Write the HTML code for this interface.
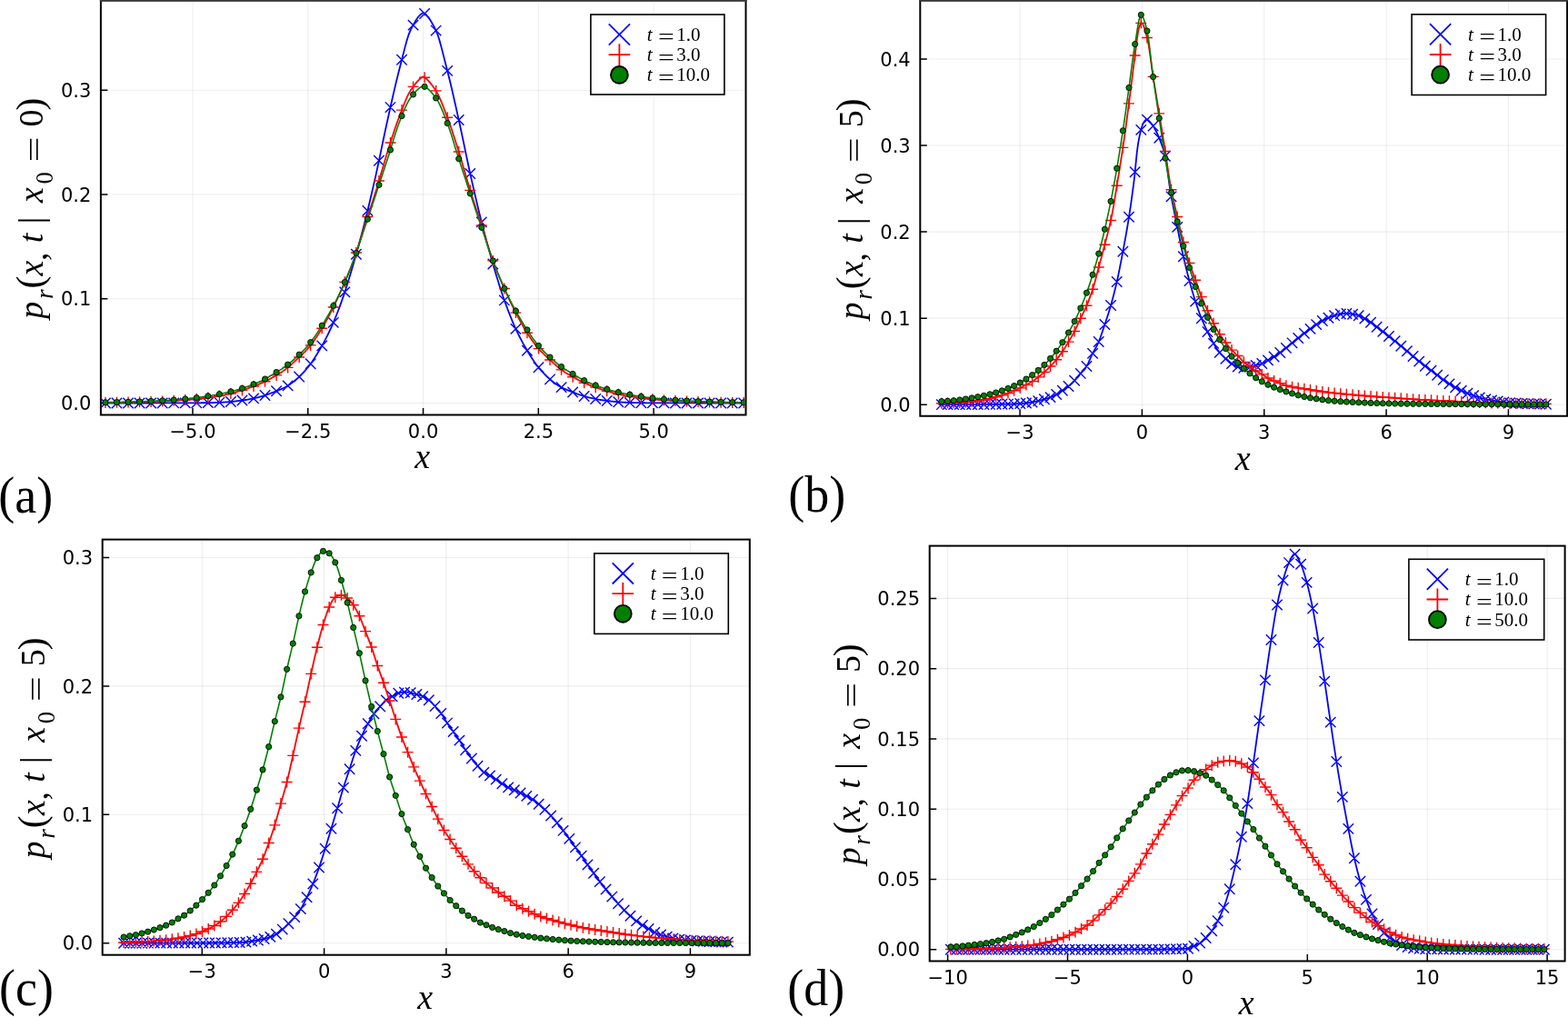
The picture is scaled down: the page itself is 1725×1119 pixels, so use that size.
<!DOCTYPE html><html><head><meta charset="utf-8"><title>p_r(x,t|x0) panels</title><style>html,body{margin:0;padding:0;background:#fff;}svg{display:block;}.tk{font-family:"DejaVu Sans",sans-serif;font-size:21px;fill:#000;}.mt{font-family:"Liberation Serif",serif;fill:#000;}.it{font-style:italic;}</style></head><body>
<svg width="1725" height="1119" viewBox="0 0 1725 1119">
<rect x="0" y="0" width="1725" height="1119" fill="#fff"/>
<clipPath id="clipa"><rect x="111.9" y="1.5" width="707.6" height="453.9"/></clipPath>
<path d="M212 0.5V456.4M338.77 0.5V456.4M465.55 0.5V456.4M592.33 0.5V456.4M719.1 0.5V456.4" stroke="#000" stroke-opacity="0.07" stroke-width="1.1" fill="none"/>
<path d="M110.9 443.5H820.5M110.9 328.77H820.5M110.9 214.04H820.5M110.9 99.31H820.5" stroke="#000" stroke-opacity="0.07" stroke-width="1.1" fill="none"/>
<path d="M110.9 0V456.4H820.5V0" fill="none" stroke="#000" stroke-width="2"/>
<rect x="109.9" y="0" width="711.6" height="1.8" fill="#363636"/>
<path d="M212 456.4V448.9M338.77 456.4V448.9M465.55 456.4V448.9M592.33 456.4V448.9M719.1 456.4V448.9M110.9 443.5H118.4M110.9 328.77H118.4M110.9 214.04H118.4M110.9 99.31H118.4" stroke="#000" stroke-width="1.5" fill="none"/>
<g clip-path="url(#clipa)">
<polyline points="110.58,443.49 111.76,443.49 112.95,443.49 114.13,443.49 115.31,443.49 116.5,443.49 117.68,443.49 118.86,443.49 120.05,443.49 121.23,443.49 122.41,443.49 123.6,443.49 124.78,443.49 125.96,443.49 127.15,443.49 128.33,443.49 129.51,443.49 130.69,443.49 131.88,443.49 133.06,443.49 134.24,443.49 135.43,443.49 136.61,443.49 137.79,443.49 138.98,443.49 140.16,443.49 141.34,443.49 142.53,443.49 143.71,443.49 144.89,443.49 146.08,443.49 147.26,443.48 148.44,443.48 149.63,443.48 150.81,443.48 151.99,443.48 153.18,443.48 154.36,443.48 155.54,443.48 156.73,443.48 157.91,443.48 159.09,443.48 160.28,443.48 161.46,443.48 162.64,443.48 163.83,443.48 165.01,443.47 166.19,443.47 167.38,443.47 168.56,443.47 169.74,443.47 170.92,443.47 172.11,443.47 173.29,443.47 174.47,443.46 175.66,443.46 176.84,443.46 178.02,443.46 179.21,443.46 180.39,443.46 181.57,443.45 182.76,443.45 183.94,443.45 185.12,443.45 186.31,443.44 187.49,443.44 188.67,443.44 189.86,443.44 191.04,443.43 192.22,443.43 193.41,443.43 194.59,443.42 195.77,443.42 196.96,443.42 198.14,443.41 199.32,443.41 200.51,443.41 201.69,443.4 202.87,443.4 204.06,443.39 205.24,443.39 206.42,443.38 207.61,443.38 208.79,443.38 209.97,443.37 211.15,443.37 212.34,443.36 213.52,443.35 214.7,443.35 215.89,443.34 217.07,443.33 218.25,443.32 219.44,443.3 220.62,443.29 221.8,443.27 222.99,443.25 224.17,443.24 225.35,443.22 226.54,443.2 227.72,443.17 228.9,443.15 230.09,443.13 231.27,443.1 232.45,443.07 233.64,443.05 234.82,443.02 236,442.99 237.19,442.96 238.37,442.93 239.55,442.89 240.74,442.85 241.92,442.8 243.1,442.74 244.29,442.68 245.47,442.61 246.65,442.54 247.84,442.46 249.02,442.38 250.2,442.3 251.38,442.21 252.57,442.12 253.75,442.02 254.93,441.91 256.12,441.79 257.3,441.67 258.48,441.54 259.67,441.4 260.85,441.26 262.03,441.12 263.22,440.98 264.4,440.83 265.58,440.67 266.77,440.51 267.95,440.34 269.13,440.17 270.32,439.99 271.5,439.8 272.68,439.6 273.87,439.4 275.05,439.18 276.23,438.96 277.42,438.73 278.6,438.48 279.78,438.22 280.97,437.94 282.15,437.66 283.33,437.36 284.52,437.05 285.7,436.74 286.88,436.41 288.06,436.07 289.25,435.73 290.43,435.37 291.61,434.98 292.8,434.59 293.98,434.17 295.16,433.75 296.35,433.31 297.53,432.87 298.71,432.42 299.9,431.96 301.08,431.49 302.26,431.02 303.45,430.56 304.63,430.09 305.81,429.61 307,429.13 308.18,428.64 309.36,428.12 310.55,427.59 311.73,427.03 312.91,426.45 314.1,425.83 315.28,425.18 316.46,424.49 317.65,423.74 318.83,422.95 320.01,422.12 321.2,421.25 322.38,420.34 323.56,419.4 324.75,418.43 325.93,417.43 327.11,416.41 328.29,415.36 329.48,414.26 330.66,413.11 331.84,411.92 333.03,410.68 334.21,409.39 335.39,408.06 336.58,406.69 337.76,405.28 338.94,403.83 340.13,402.34 341.31,400.79 342.49,399.16 343.68,397.48 344.86,395.73 346.04,393.93 347.23,392.08 348.41,390.19 349.59,388.26 350.78,386.29 351.96,384.3 353.14,382.27 354.33,380.19 355.51,378.07 356.69,375.89 357.88,373.66 359.06,371.38 360.24,369.03 361.43,366.63 362.61,364.16 363.79,361.63 364.98,359.03 366.16,356.34 367.34,353.56 368.52,350.71 369.71,347.78 370.89,344.78 372.07,341.7 373.26,338.56 374.44,335.36 375.62,332.09 376.81,328.77 377.99,325.36 379.17,321.84 380.36,318.22 381.54,314.51 382.72,310.71 383.91,306.85 385.09,302.93 386.27,298.96 387.46,294.96 388.64,290.92 389.82,286.85 391.01,282.73 392.19,278.56 393.37,274.32 394.56,270.03 395.74,265.68 396.92,261.27 398.11,256.8 399.29,252.27 400.47,247.67 401.66,243.01 402.84,238.27 404.02,233.44 405.21,228.54 406.39,223.57 407.57,218.54 408.75,213.44 409.94,208.3 411.12,203.11 412.3,197.87 413.49,192.61 414.67,187.27 415.85,181.81 417.04,176.24 418.22,170.59 419.4,164.89 420.59,159.18 421.77,153.48 422.95,147.83 424.14,142.26 425.32,136.79 426.5,131.45 427.69,126.13 428.87,120.82 430.05,115.52 431.24,110.26 432.42,105.05 433.6,99.9 434.79,94.83 435.97,89.83 437.15,84.94 438.34,80.17 439.52,75.52 440.7,70.98 441.89,66.34 443.07,61.65 444.25,56.96 445.44,52.38 446.62,47.97 447.8,43.83 448.98,40.04 450.17,36.67 451.35,33.81 452.53,31.45 453.72,29.18 454.9,26.96 456.08,24.84 457.27,22.84 458.45,20.98 459.63,19.29 460.82,17.8 462,16.54 463.18,15.54 464.37,14.82 465.55,14.41 466.73,14.82 467.92,15.54 469.1,16.54 470.28,17.8 471.47,19.29 472.65,20.98 473.83,22.84 475.02,24.84 476.2,26.96 477.38,29.18 478.57,31.45 479.75,33.81 480.93,36.67 482.12,40.04 483.3,43.83 484.48,47.97 485.66,52.38 486.85,56.96 488.03,61.65 489.21,66.34 490.4,70.98 491.58,75.52 492.76,80.17 493.95,84.94 495.13,89.83 496.31,94.83 497.5,99.9 498.68,105.05 499.86,110.26 501.05,115.52 502.23,120.82 503.41,126.13 504.6,131.45 505.78,136.79 506.96,142.26 508.15,147.83 509.33,153.48 510.51,159.18 511.7,164.89 512.88,170.59 514.06,176.24 515.25,181.81 516.43,187.27 517.61,192.61 518.8,197.87 519.98,203.11 521.16,208.3 522.35,213.44 523.53,218.54 524.71,223.57 525.89,228.54 527.08,233.44 528.26,238.27 529.44,243.01 530.63,247.67 531.81,252.27 532.99,256.8 534.18,261.27 535.36,265.68 536.54,270.03 537.73,274.32 538.91,278.56 540.09,282.73 541.28,286.85 542.46,290.92 543.64,294.96 544.83,298.96 546.01,302.93 547.19,306.85 548.38,310.71 549.56,314.51 550.74,318.22 551.93,321.84 553.11,325.36 554.29,328.77 555.48,332.09 556.66,335.36 557.84,338.56 559.03,341.7 560.21,344.78 561.39,347.78 562.58,350.71 563.76,353.56 564.94,356.34 566.12,359.03 567.31,361.63 568.49,364.16 569.67,366.63 570.86,369.03 572.04,371.38 573.22,373.66 574.41,375.89 575.59,378.07 576.77,380.19 577.96,382.27 579.14,384.3 580.32,386.29 581.51,388.26 582.69,390.19 583.87,392.08 585.06,393.93 586.24,395.73 587.42,397.48 588.61,399.16 589.79,400.79 590.97,402.34 592.16,403.83 593.34,405.28 594.52,406.69 595.71,408.06 596.89,409.39 598.07,410.68 599.26,411.92 600.44,413.11 601.62,414.26 602.81,415.36 603.99,416.41 605.17,417.43 606.35,418.43 607.54,419.4 608.72,420.34 609.9,421.25 611.09,422.12 612.27,422.95 613.45,423.74 614.64,424.49 615.82,425.18 617,425.83 618.19,426.45 619.37,427.03 620.55,427.59 621.74,428.12 622.92,428.64 624.1,429.13 625.29,429.61 626.47,430.09 627.65,430.56 628.84,431.02 630.02,431.49 631.2,431.96 632.39,432.42 633.57,432.87 634.75,433.31 635.94,433.75 637.12,434.17 638.3,434.59 639.49,434.98 640.67,435.37 641.85,435.73 643.04,436.07 644.22,436.41 645.4,436.74 646.58,437.05 647.77,437.36 648.95,437.66 650.13,437.94 651.32,438.22 652.5,438.48 653.68,438.73 654.87,438.96 656.05,439.18 657.23,439.4 658.42,439.6 659.6,439.8 660.78,439.99 661.97,440.17 663.15,440.34 664.33,440.51 665.52,440.67 666.7,440.83 667.88,440.98 669.07,441.12 670.25,441.26 671.43,441.4 672.62,441.54 673.8,441.67 674.98,441.79 676.17,441.91 677.35,442.02 678.53,442.12 679.72,442.21 680.9,442.3 682.08,442.38 683.26,442.46 684.45,442.54 685.63,442.61 686.81,442.68 688,442.74 689.18,442.8 690.36,442.85 691.55,442.89 692.73,442.93 693.91,442.96 695.1,442.99 696.28,443.02 697.46,443.05 698.65,443.07 699.83,443.1 701.01,443.13 702.2,443.15 703.38,443.17 704.56,443.2 705.75,443.22 706.93,443.24 708.11,443.25 709.3,443.27 710.48,443.29 711.66,443.3 712.85,443.32 714.03,443.33 715.21,443.34 716.4,443.35 717.58,443.35 718.76,443.36 719.95,443.37 721.13,443.37 722.31,443.38 723.49,443.38 724.68,443.38 725.86,443.39 727.04,443.39 728.23,443.4 729.41,443.4 730.59,443.41 731.78,443.41 732.96,443.41 734.14,443.42 735.33,443.42 736.51,443.42 737.69,443.43 738.88,443.43 740.06,443.43 741.24,443.44 742.43,443.44 743.61,443.44 744.79,443.44 745.98,443.45 747.16,443.45 748.34,443.45 749.53,443.45 750.71,443.46 751.89,443.46 753.08,443.46 754.26,443.46 755.44,443.46 756.63,443.46 757.81,443.47 758.99,443.47 760.18,443.47 761.36,443.47 762.54,443.47 763.72,443.47 764.91,443.47 766.09,443.47 767.27,443.48 768.46,443.48 769.64,443.48 770.82,443.48 772.01,443.48 773.19,443.48 774.37,443.48 775.56,443.48 776.74,443.48 777.92,443.48 779.11,443.48 780.29,443.48 781.47,443.48 782.66,443.48 783.84,443.48 785.02,443.49 786.21,443.49 787.39,443.49 788.57,443.49 789.76,443.49 790.94,443.49 792.12,443.49 793.31,443.49 794.49,443.49 795.67,443.49 796.86,443.49 798.04,443.49 799.22,443.49 800.41,443.49 801.59,443.49 802.77,443.49 803.95,443.49 805.14,443.49 806.32,443.49 807.5,443.49 808.69,443.49 809.87,443.49 811.05,443.49 812.24,443.49 813.42,443.49 814.6,443.49 815.79,443.49 816.97,443.49 818.15,443.49 819.34,443.49 820.52,443.49" fill="none" stroke="#0000ff" stroke-width="1.8" stroke-linejoin="round"/>
<path d="M110.28 437.79L121.68 449.19M110.28 449.19L121.68 437.79M122.82 437.79L134.22 449.19M122.82 449.19L134.22 437.79M135.36 437.79L146.76 449.19M135.36 449.19L146.76 437.79M147.9 437.78L159.3 449.18M147.9 449.18L159.3 437.78M160.44 437.77L171.84 449.17M160.44 449.17L171.84 437.77M172.98 437.76L184.38 449.16M172.98 449.16L184.38 437.76M185.52 437.73L196.92 449.13M185.52 449.13L196.92 437.73M198.06 437.69L209.46 449.09M198.06 449.09L209.46 437.69M210.6 437.63L222 449.03M210.6 449.03L222 437.63M223.14 437.45L234.54 448.85M223.14 448.85L234.54 437.45M235.68 437.12L247.08 448.52M235.68 448.52L247.08 437.12M248.22 436.3L259.62 447.7M248.22 447.7L259.62 436.3M260.76 434.85L272.16 446.25M260.76 446.25L272.16 434.85M273.3 432.69L284.7 444.09M273.3 444.09L284.7 432.69M285.84 429.31L297.24 440.71M285.84 440.71L297.24 429.31M298.38 424.61L309.78 436.01M298.38 436.01L309.78 424.61M310.92 418.69L322.32 430.09M310.92 430.09L322.32 418.69M323.46 408.86L334.86 420.26M323.46 420.26L334.86 408.86M336 394.56L347.4 405.96M336 405.96L347.4 394.56M348.54 374.64L359.94 386.04M348.54 386.04L359.94 374.64M361.08 349.19L372.48 360.59M361.08 360.59L372.48 349.19M373.62 315.69L385.02 327.09M373.62 327.09L385.02 315.69M386.16 274.02L397.56 285.42M386.16 285.42L397.56 274.02M398.7 226.18L410.1 237.58M398.7 237.58L410.1 226.18M411.24 170.99L422.64 182.39M411.24 182.39L422.64 170.99M423.78 112.38L435.18 123.78M423.78 123.78L435.18 112.38M436.32 60.11L447.72 71.51M436.32 71.51L447.72 60.11M448.86 21.89L460.26 33.29M448.86 33.29L460.26 21.89M461.4 9.31L472.8 20.71M461.4 20.71L472.8 9.31M473.94 27.88L485.34 39.28M473.94 39.28L485.34 27.88M486.48 72.16L497.88 83.56M486.48 83.56L497.88 72.16M499.02 126.31L510.42 137.71M499.02 137.71L510.42 126.31M511.56 185.34L522.96 196.74M511.56 196.74L522.96 185.34M524.1 238.73L535.5 250.13M524.1 250.13L535.5 238.73M536.64 284.82L548.04 296.22M536.64 296.22L548.04 284.82M549.18 324.73L560.58 336.13M549.18 336.13L560.58 324.73M561.72 356.18L573.12 367.58M561.72 367.58L573.12 356.18M574.26 379.99L585.66 391.39M574.26 391.39L585.66 379.99M586.8 398.56L598.2 409.96M586.8 409.96L598.2 398.56M599.34 411.62L610.74 423.02M599.34 423.02L610.74 411.62M611.88 420.44L623.28 431.84M611.88 431.84L623.28 420.44M624.42 425.83L635.82 437.23M624.42 437.23L635.82 425.83M636.96 430.27L648.36 441.67M636.96 441.67L648.36 430.27M649.5 433.33L660.9 444.73M649.5 444.73L660.9 433.33M662.04 435.26L673.44 446.66M662.04 446.66L673.44 435.26M674.58 436.55L685.98 447.95M674.58 447.95L685.98 436.55M687.12 437.23L698.52 448.63M687.12 448.63L698.52 437.23M699.66 437.51L711.06 448.91M699.66 448.91L711.06 437.51M712.2 437.66L723.6 449.06M712.2 449.06L723.6 437.66M724.74 437.71L736.14 449.11M724.74 449.11L736.14 437.71M737.28 437.74L748.68 449.14M737.28 449.14L748.68 437.74M749.82 437.76L761.22 449.16M749.82 449.16L761.22 437.76M762.36 437.78L773.76 449.18M762.36 449.18L773.76 437.78M774.9 437.78L786.3 449.18M774.9 449.18L786.3 437.78M787.44 437.79L798.84 449.19M787.44 449.19L798.84 437.79M799.98 437.79L811.38 449.19M799.98 449.19L811.38 437.79M812.52 437.79L823.92 449.19M812.52 449.19L823.92 437.79" stroke="#0000ff" stroke-width="1.4" fill="none"/>
<polyline points="110.58,443.04 111.76,443.04 112.95,443.03 114.13,443.03 115.31,443.02 116.5,443.01 117.68,443 118.86,442.99 120.05,442.98 121.23,442.96 122.41,442.95 123.6,442.93 124.78,442.92 125.96,442.9 127.15,442.88 128.33,442.87 129.51,442.85 130.69,442.83 131.88,442.81 133.06,442.78 134.24,442.76 135.43,442.74 136.61,442.72 137.79,442.69 138.98,442.67 140.16,442.64 141.34,442.62 142.53,442.59 143.71,442.56 144.89,442.53 146.08,442.51 147.26,442.48 148.44,442.45 149.63,442.42 150.81,442.39 151.99,442.36 153.18,442.33 154.36,442.3 155.54,442.27 156.73,442.24 157.91,442.21 159.09,442.18 160.28,442.15 161.46,442.12 162.64,442.09 163.83,442.05 165.01,442.02 166.19,441.98 167.38,441.94 168.56,441.89 169.74,441.85 170.92,441.81 172.11,441.76 173.29,441.71 174.47,441.66 175.66,441.61 176.84,441.56 178.02,441.51 179.21,441.45 180.39,441.4 181.57,441.34 182.76,441.28 183.94,441.22 185.12,441.17 186.31,441.11 187.49,441.05 188.67,440.99 189.86,440.93 191.04,440.86 192.22,440.8 193.41,440.73 194.59,440.67 195.77,440.6 196.96,440.53 198.14,440.46 199.32,440.38 200.51,440.31 201.69,440.23 202.87,440.15 204.06,440.07 205.24,439.98 206.42,439.9 207.61,439.81 208.79,439.72 209.97,439.62 211.15,439.53 212.34,439.43 213.52,439.33 214.7,439.22 215.89,439.1 217.07,438.98 218.25,438.86 219.44,438.73 220.62,438.6 221.8,438.46 222.99,438.31 224.17,438.16 225.35,438.01 226.54,437.85 227.72,437.69 228.9,437.53 230.09,437.36 231.27,437.19 232.45,437.02 233.64,436.84 234.82,436.66 236,436.48 237.19,436.3 238.37,436.11 239.55,435.91 240.74,435.71 241.92,435.5 243.1,435.28 244.29,435.05 245.47,434.82 246.65,434.58 247.84,434.33 249.02,434.08 250.2,433.82 251.38,433.56 252.57,433.28 253.75,432.99 254.93,432.7 256.12,432.39 257.3,432.07 258.48,431.75 259.67,431.41 260.85,431.08 262.03,430.73 263.22,430.39 264.4,430.03 265.58,429.66 266.77,429.29 267.95,428.91 269.13,428.52 270.32,428.13 271.5,427.73 272.68,427.32 273.87,426.9 275.05,426.48 276.23,426.05 277.42,425.62 278.6,425.18 279.78,424.74 280.97,424.29 282.15,423.83 283.33,423.36 284.52,422.87 285.7,422.38 286.88,421.87 288.06,421.35 289.25,420.82 290.43,420.27 291.61,419.69 292.8,419.1 293.98,418.5 295.16,417.88 296.35,417.25 297.53,416.61 298.71,415.96 299.9,415.29 301.08,414.63 302.26,413.95 303.45,413.27 304.63,412.58 305.81,411.88 307,411.16 308.18,410.43 309.36,409.68 310.55,408.9 311.73,408.1 312.91,407.27 314.1,406.4 315.28,405.49 316.46,404.55 317.65,403.56 318.83,402.54 320.01,401.5 321.2,400.44 322.38,399.36 323.56,398.26 324.75,397.16 325.93,396.06 327.11,394.96 328.29,393.86 329.48,392.76 330.66,391.65 331.84,390.54 333.03,389.4 334.21,388.23 335.39,387.04 336.58,385.81 337.76,384.54 338.94,383.21 340.13,381.83 341.31,380.39 342.49,378.88 343.68,377.31 344.86,375.68 346.04,374 347.23,372.28 348.41,370.52 349.59,368.72 350.78,366.88 351.96,365.02 353.14,363.12 354.33,361.17 355.51,359.16 356.69,357.1 357.88,354.99 359.06,352.84 360.24,350.65 361.43,348.42 362.61,346.17 363.79,343.88 364.98,341.57 366.16,339.2 367.34,336.79 368.52,334.34 369.71,331.85 370.89,329.31 372.07,326.74 373.26,324.14 374.44,321.5 375.62,318.84 376.81,316.15 377.99,313.44 379.17,310.71 380.36,307.96 381.54,305.17 382.72,302.34 383.91,299.46 385.09,296.51 386.27,293.5 387.46,290.42 388.64,287.24 389.82,283.96 391.01,280.52 392.19,276.96 393.37,273.29 394.56,269.55 395.74,265.75 396.92,261.93 398.11,258.11 399.29,254.31 400.47,250.57 401.66,246.89 402.84,243.27 404.02,239.66 405.21,236.08 406.39,232.5 407.57,228.91 408.75,225.31 409.94,221.68 411.12,218.02 412.3,214.31 413.49,210.54 414.67,206.69 415.85,202.74 417.04,198.71 418.22,194.62 419.4,190.51 420.59,186.38 421.77,182.28 422.95,178.22 424.14,174.22 425.32,170.32 426.5,166.53 427.69,162.76 428.87,159 430.05,155.27 431.24,151.57 432.42,147.92 433.6,144.33 434.79,140.81 435.97,137.37 437.15,134.03 438.34,130.8 439.52,127.68 440.7,124.57 441.89,121.45 443.07,118.36 444.25,115.32 445.44,112.37 446.62,109.54 447.8,106.87 448.98,104.38 450.17,102.11 451.35,100.09 452.53,98.31 453.72,96.59 454.9,94.93 456.08,93.33 457.27,91.81 458.45,90.38 459.63,89.06 460.82,87.84 462,86.76 463.18,85.81 464.37,85.02 465.55,84.4 466.73,85.02 467.92,85.81 469.1,86.76 470.28,87.84 471.47,89.06 472.65,90.38 473.83,91.81 475.02,93.33 476.2,94.93 477.38,96.59 478.57,98.31 479.75,100.09 480.93,102.11 482.12,104.38 483.3,106.87 484.48,109.54 485.66,112.37 486.85,115.32 488.03,118.36 489.21,121.45 490.4,124.57 491.58,127.68 492.76,130.8 493.95,134.03 495.13,137.37 496.31,140.81 497.5,144.33 498.68,147.92 499.86,151.57 501.05,155.27 502.23,159 503.41,162.76 504.6,166.53 505.78,170.32 506.96,174.22 508.15,178.22 509.33,182.28 510.51,186.38 511.7,190.51 512.88,194.62 514.06,198.71 515.25,202.74 516.43,206.69 517.61,210.54 518.8,214.31 519.98,218.02 521.16,221.68 522.35,225.31 523.53,228.91 524.71,232.5 525.89,236.08 527.08,239.66 528.26,243.27 529.44,246.89 530.63,250.57 531.81,254.31 532.99,258.11 534.18,261.93 535.36,265.75 536.54,269.55 537.73,273.29 538.91,276.96 540.09,280.52 541.28,283.96 542.46,287.24 543.64,290.42 544.83,293.5 546.01,296.51 547.19,299.46 548.38,302.34 549.56,305.17 550.74,307.96 551.93,310.71 553.11,313.44 554.29,316.15 555.48,318.84 556.66,321.5 557.84,324.14 559.03,326.74 560.21,329.31 561.39,331.85 562.58,334.34 563.76,336.79 564.94,339.2 566.12,341.57 567.31,343.88 568.49,346.17 569.67,348.42 570.86,350.65 572.04,352.84 573.22,354.99 574.41,357.1 575.59,359.16 576.77,361.17 577.96,363.12 579.14,365.02 580.32,366.88 581.51,368.72 582.69,370.52 583.87,372.28 585.06,374 586.24,375.68 587.42,377.31 588.61,378.88 589.79,380.39 590.97,381.83 592.16,383.21 593.34,384.54 594.52,385.81 595.71,387.04 596.89,388.23 598.07,389.4 599.26,390.54 600.44,391.65 601.62,392.76 602.81,393.86 603.99,394.96 605.17,396.06 606.35,397.16 607.54,398.26 608.72,399.36 609.9,400.44 611.09,401.5 612.27,402.54 613.45,403.56 614.64,404.55 615.82,405.49 617,406.4 618.19,407.27 619.37,408.1 620.55,408.9 621.74,409.68 622.92,410.43 624.1,411.16 625.29,411.88 626.47,412.58 627.65,413.27 628.84,413.95 630.02,414.63 631.2,415.29 632.39,415.96 633.57,416.61 634.75,417.25 635.94,417.88 637.12,418.5 638.3,419.1 639.49,419.69 640.67,420.27 641.85,420.82 643.04,421.35 644.22,421.87 645.4,422.38 646.58,422.87 647.77,423.36 648.95,423.83 650.13,424.29 651.32,424.74 652.5,425.18 653.68,425.62 654.87,426.05 656.05,426.48 657.23,426.9 658.42,427.32 659.6,427.73 660.78,428.13 661.97,428.52 663.15,428.91 664.33,429.29 665.52,429.66 666.7,430.03 667.88,430.39 669.07,430.73 670.25,431.08 671.43,431.41 672.62,431.75 673.8,432.07 674.98,432.39 676.17,432.7 677.35,432.99 678.53,433.28 679.72,433.56 680.9,433.82 682.08,434.08 683.26,434.33 684.45,434.58 685.63,434.82 686.81,435.05 688,435.28 689.18,435.5 690.36,435.71 691.55,435.91 692.73,436.11 693.91,436.3 695.1,436.48 696.28,436.66 697.46,436.84 698.65,437.02 699.83,437.19 701.01,437.36 702.2,437.53 703.38,437.69 704.56,437.85 705.75,438.01 706.93,438.16 708.11,438.31 709.3,438.46 710.48,438.6 711.66,438.73 712.85,438.86 714.03,438.98 715.21,439.1 716.4,439.22 717.58,439.33 718.76,439.43 719.95,439.53 721.13,439.62 722.31,439.72 723.49,439.81 724.68,439.9 725.86,439.98 727.04,440.07 728.23,440.15 729.41,440.23 730.59,440.31 731.78,440.38 732.96,440.46 734.14,440.53 735.33,440.6 736.51,440.67 737.69,440.73 738.88,440.8 740.06,440.86 741.24,440.93 742.43,440.99 743.61,441.05 744.79,441.11 745.98,441.17 747.16,441.22 748.34,441.28 749.53,441.34 750.71,441.4 751.89,441.45 753.08,441.51 754.26,441.56 755.44,441.61 756.63,441.66 757.81,441.71 758.99,441.76 760.18,441.81 761.36,441.85 762.54,441.89 763.72,441.94 764.91,441.98 766.09,442.02 767.27,442.05 768.46,442.09 769.64,442.12 770.82,442.15 772.01,442.18 773.19,442.21 774.37,442.24 775.56,442.27 776.74,442.3 777.92,442.33 779.11,442.36 780.29,442.39 781.47,442.42 782.66,442.45 783.84,442.48 785.02,442.51 786.21,442.53 787.39,442.56 788.57,442.59 789.76,442.62 790.94,442.64 792.12,442.67 793.31,442.69 794.49,442.72 795.67,442.74 796.86,442.76 798.04,442.78 799.22,442.81 800.41,442.83 801.59,442.85 802.77,442.87 803.95,442.88 805.14,442.9 806.32,442.92 807.5,442.93 808.69,442.95 809.87,442.96 811.05,442.98 812.24,442.99 813.42,443 814.6,443.01 815.79,443.02 816.97,443.03 818.15,443.03 819.34,443.04 820.52,443.04" fill="none" stroke="#ff0000" stroke-width="1.8" stroke-linejoin="round"/>
<path d="M109.98 443.01H121.98M115.98 437.01V449.01M122.52 442.86H134.52M128.52 436.86V448.86M135.06 442.62H147.06M141.06 436.62V448.62M147.6 442.32H159.6M153.6 436.32V448.32M160.14 441.98H172.14M166.14 435.98V447.98M172.68 441.48H184.68M178.68 435.48V447.48M185.22 440.85H197.22M191.22 434.85V446.85M197.76 440.09H209.76M203.76 434.09V446.09M210.3 439.06H222.3M216.3 433.06V445.06M222.84 437.54H234.84M228.84 431.54V443.54M235.38 435.6H247.38M241.38 429.6V441.6M247.92 432.95H259.92M253.92 426.95V438.95M260.46 429.39H272.46M266.46 423.39V435.39M273 425.03H285M279 419.03V431.03M285.54 419.73H297.54M291.54 413.73V425.73M298.08 412.9H310.08M304.08 406.9V418.9M310.62 404.42H322.62M316.62 398.42V410.42M323.16 393.06H335.16M329.16 387.06V399.06M335.7 379.9H347.7M341.7 373.9V385.9M348.24 361.31H360.24M354.24 355.31V367.31M360.78 337.94H372.78M366.78 331.94V343.94M373.32 310.37H385.32M379.32 304.37V316.37M385.86 277.96H397.86M391.86 271.96V283.96M398.4 238.51H410.4M404.4 232.51V244.51M410.94 199.04H422.94M416.94 193.04V205.04M423.48 157.07H435.48M429.48 151.07V163.07M436.02 121.09H448.02M442.02 115.09V127.09M448.56 95.4H460.56M454.56 89.4V101.4M461.1 85.25H473.1M467.1 79.25V91.25M473.64 99.92H485.64M479.64 93.92V105.92M486.18 129.25H498.18M492.18 123.25V135.25M498.72 166.93H510.72M504.72 160.93V172.93M511.26 209.41H523.26M517.26 203.41V215.41M523.8 248H535.8M529.8 242V254M536.34 286.92H548.34M542.34 280.92V292.92M548.88 317.49H560.88M554.88 311.49V323.49M561.42 344.11H573.42M567.42 338.11V350.11M573.96 366.32H585.96M579.96 360.32V372.32M586.5 383.61H598.5M592.5 377.61V389.61M599.04 395.94H611.04M605.04 389.94V401.94M611.58 406.83H623.58M617.58 400.83V412.83M624.12 414.68H636.12M630.12 408.68V420.68M636.66 421.19H648.66M642.66 415.19V427.19M649.2 426.17H661.2M655.2 420.17V432.17M661.74 430.34H673.74M667.74 424.34V436.34M674.28 433.68H686.28M680.28 427.68V439.68M686.82 436.13H698.82M692.82 430.13V442.13M699.36 437.96H711.36M705.36 431.96V443.96M711.9 439.35H723.9M717.9 433.35V445.35M724.44 440.3H736.44M730.44 434.3V446.3M736.98 441.02H748.98M742.98 435.02V447.02M749.52 441.61H761.52M755.52 435.61V447.61M762.06 442.08H774.06M768.06 436.08V448.08M774.6 442.4H786.6M780.6 436.4V448.4M787.14 442.69H799.14M793.14 436.69V448.69M799.68 442.91H811.68M805.68 436.91V448.91M812.22 443.03H824.22M818.22 437.03V449.03" stroke="#ff0000" stroke-width="1.4" fill="none"/>
<polyline points="110.58,442.81 111.76,442.8 112.95,442.78 114.13,442.76 115.31,442.75 116.5,442.73 117.68,442.71 118.86,442.69 120.05,442.67 121.23,442.66 122.41,442.64 123.6,442.62 124.78,442.6 125.96,442.58 127.15,442.56 128.33,442.54 129.51,442.52 130.69,442.5 131.88,442.48 133.06,442.46 134.24,442.44 135.43,442.42 136.61,442.39 137.79,442.37 138.98,442.34 140.16,442.31 141.34,442.29 142.53,442.26 143.71,442.23 144.89,442.19 146.08,442.16 147.26,442.13 148.44,442.09 149.63,442.06 150.81,442.02 151.99,441.98 153.18,441.94 154.36,441.9 155.54,441.86 156.73,441.81 157.91,441.77 159.09,441.72 160.28,441.67 161.46,441.63 162.64,441.58 163.83,441.53 165.01,441.48 166.19,441.42 167.38,441.37 168.56,441.32 169.74,441.26 170.92,441.2 172.11,441.14 173.29,441.09 174.47,441.03 175.66,440.97 176.84,440.91 178.02,440.85 179.21,440.79 180.39,440.73 181.57,440.67 182.76,440.61 183.94,440.54 185.12,440.47 186.31,440.4 187.49,440.33 188.67,440.25 189.86,440.17 191.04,440.09 192.22,440 193.41,439.9 194.59,439.81 195.77,439.71 196.96,439.6 198.14,439.5 199.32,439.39 200.51,439.29 201.69,439.18 202.87,439.07 204.06,438.95 205.24,438.84 206.42,438.72 207.61,438.59 208.79,438.47 209.97,438.34 211.15,438.21 212.34,438.07 213.52,437.93 214.7,437.79 215.89,437.64 217.07,437.49 218.25,437.33 219.44,437.17 220.62,437.01 221.8,436.84 222.99,436.67 224.17,436.5 225.35,436.32 226.54,436.15 227.72,435.97 228.9,435.79 230.09,435.6 231.27,435.42 232.45,435.23 233.64,435.03 234.82,434.83 236,434.63 237.19,434.42 238.37,434.21 239.55,433.99 240.74,433.76 241.92,433.53 243.1,433.3 244.29,433.05 245.47,432.81 246.65,432.55 247.84,432.3 249.02,432.03 250.2,431.76 251.38,431.49 252.57,431.21 253.75,430.92 254.93,430.63 256.12,430.33 257.3,430.02 258.48,429.7 259.67,429.38 260.85,429.04 262.03,428.7 263.22,428.36 264.4,428 265.58,427.63 266.77,427.24 267.95,426.85 269.13,426.45 270.32,426.04 271.5,425.62 272.68,425.19 273.87,424.76 275.05,424.32 276.23,423.87 277.42,423.41 278.6,422.95 279.78,422.48 280.97,422 282.15,421.51 283.33,421.01 284.52,420.49 285.7,419.96 286.88,419.41 288.06,418.85 289.25,418.27 290.43,417.66 291.61,417.02 292.8,416.35 293.98,415.67 295.16,414.98 296.35,414.27 297.53,413.55 298.71,412.83 299.9,412.12 301.08,411.4 302.26,410.69 303.45,409.98 304.63,409.27 305.81,408.55 307,407.83 308.18,407.09 309.36,406.33 310.55,405.56 311.73,404.76 312.91,403.94 314.1,403.08 315.28,402.2 316.46,401.29 317.65,400.35 318.83,399.38 320.01,398.4 321.2,397.39 322.38,396.36 323.56,395.32 324.75,394.26 325.93,393.18 327.11,392.09 328.29,390.99 329.48,389.88 330.66,388.75 331.84,387.59 333.03,386.41 334.21,385.21 335.39,383.97 336.58,382.69 337.76,381.38 338.94,380.02 340.13,378.61 341.31,377.14 342.49,375.6 343.68,373.99 344.86,372.34 346.04,370.63 347.23,368.89 348.41,367.12 349.59,365.32 350.78,363.51 351.96,361.7 353.14,359.87 354.33,358.01 355.51,356.12 356.69,354.2 357.88,352.25 359.06,350.27 360.24,348.25 361.43,346.2 362.61,344.12 363.79,342 364.98,339.85 366.16,337.66 367.34,335.44 368.52,333.18 369.71,330.88 370.89,328.54 372.07,326.15 373.26,323.73 374.44,321.25 375.62,318.73 376.81,316.15 377.99,313.52 379.17,310.82 380.36,308.06 381.54,305.24 382.72,302.36 383.91,299.43 385.09,296.45 386.27,293.42 387.46,290.34 388.64,287.22 389.82,284.04 391.01,280.76 392.19,277.4 393.37,273.97 394.56,270.48 395.74,266.96 396.92,263.41 398.11,259.85 399.29,256.29 400.47,252.76 401.66,249.25 402.84,245.75 404.02,242.24 405.21,238.72 406.39,235.2 407.57,231.67 408.75,228.13 409.94,224.58 411.12,221.03 412.3,217.48 413.49,213.91 414.67,210.34 415.85,206.77 417.04,203.19 418.22,199.6 419.4,196 420.59,192.4 421.77,188.8 422.95,185.18 424.14,181.56 425.32,177.93 426.5,174.3 427.69,170.63 428.87,166.86 430.05,163.01 431.24,159.12 432.42,155.23 433.6,151.37 434.79,147.59 435.97,143.93 437.15,140.42 438.34,137.1 439.52,134.01 440.7,130.97 441.89,127.96 443.07,124.98 444.25,122.09 445.44,119.31 446.62,116.66 447.8,114.18 448.98,111.89 450.17,109.83 451.35,108.03 452.53,106.47 453.72,104.96 454.9,103.5 456.08,102.09 457.27,100.77 458.45,99.52 459.63,98.38 460.82,97.36 462,96.47 463.18,95.72 464.37,95.13 465.55,94.72 466.73,95.13 467.92,95.72 469.1,96.47 470.28,97.36 471.47,98.38 472.65,99.52 473.83,100.77 475.02,102.09 476.2,103.5 477.38,104.96 478.57,106.47 479.75,108.03 480.93,109.83 482.12,111.89 483.3,114.18 484.48,116.66 485.66,119.31 486.85,122.09 488.03,124.98 489.21,127.96 490.4,130.97 491.58,134.01 492.76,137.1 493.95,140.42 495.13,143.93 496.31,147.59 497.5,151.37 498.68,155.23 499.86,159.12 501.05,163.01 502.23,166.86 503.41,170.63 504.6,174.3 505.78,177.93 506.96,181.56 508.15,185.18 509.33,188.8 510.51,192.4 511.7,196 512.88,199.6 514.06,203.19 515.25,206.77 516.43,210.34 517.61,213.91 518.8,217.48 519.98,221.03 521.16,224.58 522.35,228.13 523.53,231.67 524.71,235.2 525.89,238.72 527.08,242.24 528.26,245.75 529.44,249.25 530.63,252.76 531.81,256.29 532.99,259.85 534.18,263.41 535.36,266.96 536.54,270.48 537.73,273.97 538.91,277.4 540.09,280.76 541.28,284.04 542.46,287.22 543.64,290.34 544.83,293.42 546.01,296.45 547.19,299.43 548.38,302.36 549.56,305.24 550.74,308.06 551.93,310.82 553.11,313.52 554.29,316.15 555.48,318.73 556.66,321.25 557.84,323.73 559.03,326.15 560.21,328.54 561.39,330.88 562.58,333.18 563.76,335.44 564.94,337.66 566.12,339.85 567.31,342 568.49,344.12 569.67,346.2 570.86,348.25 572.04,350.27 573.22,352.25 574.41,354.2 575.59,356.12 576.77,358.01 577.96,359.87 579.14,361.7 580.32,363.51 581.51,365.32 582.69,367.12 583.87,368.89 585.06,370.63 586.24,372.34 587.42,373.99 588.61,375.6 589.79,377.14 590.97,378.61 592.16,380.02 593.34,381.38 594.52,382.69 595.71,383.97 596.89,385.21 598.07,386.41 599.26,387.59 600.44,388.75 601.62,389.88 602.81,390.99 603.99,392.09 605.17,393.18 606.35,394.26 607.54,395.32 608.72,396.36 609.9,397.39 611.09,398.4 612.27,399.38 613.45,400.35 614.64,401.29 615.82,402.2 617,403.08 618.19,403.94 619.37,404.76 620.55,405.56 621.74,406.33 622.92,407.09 624.1,407.83 625.29,408.55 626.47,409.27 627.65,409.98 628.84,410.69 630.02,411.4 631.2,412.12 632.39,412.83 633.57,413.55 634.75,414.27 635.94,414.98 637.12,415.67 638.3,416.35 639.49,417.02 640.67,417.66 641.85,418.27 643.04,418.85 644.22,419.41 645.4,419.96 646.58,420.49 647.77,421.01 648.95,421.51 650.13,422 651.32,422.48 652.5,422.95 653.68,423.41 654.87,423.87 656.05,424.32 657.23,424.76 658.42,425.19 659.6,425.62 660.78,426.04 661.97,426.45 663.15,426.85 664.33,427.24 665.52,427.63 666.7,428 667.88,428.36 669.07,428.7 670.25,429.04 671.43,429.38 672.62,429.7 673.8,430.02 674.98,430.33 676.17,430.63 677.35,430.92 678.53,431.21 679.72,431.49 680.9,431.76 682.08,432.03 683.26,432.3 684.45,432.55 685.63,432.81 686.81,433.05 688,433.3 689.18,433.53 690.36,433.76 691.55,433.99 692.73,434.21 693.91,434.42 695.1,434.63 696.28,434.83 697.46,435.03 698.65,435.23 699.83,435.42 701.01,435.6 702.2,435.79 703.38,435.97 704.56,436.15 705.75,436.32 706.93,436.5 708.11,436.67 709.3,436.84 710.48,437.01 711.66,437.17 712.85,437.33 714.03,437.49 715.21,437.64 716.4,437.79 717.58,437.93 718.76,438.07 719.95,438.21 721.13,438.34 722.31,438.47 723.49,438.59 724.68,438.72 725.86,438.84 727.04,438.95 728.23,439.07 729.41,439.18 730.59,439.29 731.78,439.39 732.96,439.5 734.14,439.6 735.33,439.71 736.51,439.81 737.69,439.9 738.88,440 740.06,440.09 741.24,440.17 742.43,440.25 743.61,440.33 744.79,440.4 745.98,440.47 747.16,440.54 748.34,440.61 749.53,440.67 750.71,440.73 751.89,440.79 753.08,440.85 754.26,440.91 755.44,440.97 756.63,441.03 757.81,441.09 758.99,441.14 760.18,441.2 761.36,441.26 762.54,441.32 763.72,441.37 764.91,441.42 766.09,441.48 767.27,441.53 768.46,441.58 769.64,441.63 770.82,441.67 772.01,441.72 773.19,441.77 774.37,441.81 775.56,441.86 776.74,441.9 777.92,441.94 779.11,441.98 780.29,442.02 781.47,442.06 782.66,442.09 783.84,442.13 785.02,442.16 786.21,442.19 787.39,442.23 788.57,442.26 789.76,442.29 790.94,442.31 792.12,442.34 793.31,442.37 794.49,442.39 795.67,442.42 796.86,442.44 798.04,442.46 799.22,442.48 800.41,442.5 801.59,442.52 802.77,442.54 803.95,442.56 805.14,442.58 806.32,442.6 807.5,442.62 808.69,442.64 809.87,442.66 811.05,442.67 812.24,442.69 813.42,442.71 814.6,442.73 815.79,442.75 816.97,442.76 818.15,442.78 819.34,442.8 820.52,442.81" fill="none" stroke="#008000" stroke-width="1.6" stroke-linejoin="round"/>
<g fill="#008000" stroke="#000" stroke-width="0.9"><circle cx="115.98" cy="442.74" r="3.1"/><circle cx="128.52" cy="442.54" r="3.1"/><circle cx="141.06" cy="442.29" r="3.1"/><circle cx="153.6" cy="441.93" r="3.1"/><circle cx="166.14" cy="441.43" r="3.1"/><circle cx="178.68" cy="440.82" r="3.1"/><circle cx="191.22" cy="440.07" r="3.1"/><circle cx="203.76" cy="438.98" r="3.1"/><circle cx="216.3" cy="437.59" r="3.1"/><circle cx="228.84" cy="435.8" r="3.1"/><circle cx="241.38" cy="433.64" r="3.1"/><circle cx="253.92" cy="430.88" r="3.1"/><circle cx="266.46" cy="427.34" r="3.1"/><circle cx="279" cy="422.79" r="3.1"/><circle cx="291.54" cy="417.06" r="3.1"/><circle cx="304.08" cy="409.6" r="3.1"/><circle cx="316.62" cy="401.16" r="3.1"/><circle cx="329.16" cy="390.18" r="3.1"/><circle cx="341.7" cy="376.64" r="3.1"/><circle cx="354.24" cy="358.14" r="3.1"/><circle cx="366.78" cy="336.5" r="3.1"/><circle cx="379.32" cy="310.48" r="3.1"/><circle cx="391.86" cy="278.34" r="3.1"/><circle cx="404.4" cy="241.12" r="3.1"/><circle cx="416.94" cy="203.48" r="3.1"/><circle cx="429.48" cy="164.88" r="3.1"/><circle cx="442.02" cy="127.61" r="3.1"/><circle cx="454.56" cy="103.91" r="3.1"/><circle cx="467.1" cy="95.3" r="3.1"/><circle cx="479.64" cy="107.88" r="3.1"/><circle cx="492.18" cy="135.56" r="3.1"/><circle cx="504.72" cy="174.68" r="3.1"/><circle cx="517.26" cy="212.86" r="3.1"/><circle cx="529.8" cy="250.31" r="3.1"/><circle cx="542.34" cy="286.91" r="3.1"/><circle cx="554.88" cy="317.44" r="3.1"/><circle cx="567.42" cy="342.21" r="3.1"/><circle cx="579.96" cy="362.96" r="3.1"/><circle cx="592.5" cy="380.42" r="3.1"/><circle cx="605.04" cy="393.06" r="3.1"/><circle cx="617.58" cy="403.5" r="3.1"/><circle cx="630.12" cy="411.46" r="3.1"/><circle cx="642.66" cy="418.67" r="3.1"/><circle cx="655.2" cy="423.99" r="3.1"/><circle cx="667.74" cy="428.31" r="3.1"/><circle cx="680.28" cy="431.62" r="3.1"/><circle cx="692.82" cy="434.22" r="3.1"/><circle cx="705.36" cy="436.27" r="3.1"/><circle cx="717.9" cy="437.97" r="3.1"/><circle cx="730.44" cy="439.27" r="3.1"/><circle cx="742.98" cy="440.29" r="3.1"/><circle cx="755.52" cy="440.97" r="3.1"/><circle cx="768.06" cy="441.56" r="3.1"/><circle cx="780.6" cy="442.03" r="3.1"/><circle cx="793.14" cy="442.36" r="3.1"/><circle cx="805.68" cy="442.59" r="3.1"/><circle cx="818.22" cy="442.78" r="3.1"/></g>
</g>
<text class="tk" x="212" y="481.8" text-anchor="middle">−5.0</text>
<text class="tk" x="338.77" y="481.8" text-anchor="middle">−2.5</text>
<text class="tk" x="465.55" y="481.8" text-anchor="middle">0.0</text>
<text class="tk" x="592.33" y="481.8" text-anchor="middle">2.5</text>
<text class="tk" x="719.1" y="481.8" text-anchor="middle">5.0</text>
<text class="tk" x="100.3" y="451.15" text-anchor="end">0.0</text>
<text class="tk" x="100.3" y="336.42" text-anchor="end">0.1</text>
<text class="tk" x="100.3" y="221.69" text-anchor="end">0.2</text>
<text class="tk" x="100.3" y="106.96" text-anchor="end">0.3</text>
<text class="mt it" x="464.7" y="515.3" font-size="38" text-anchor="middle">x</text>
<g transform="translate(47.4,351.85) rotate(-90)">
<text class="mt it" x="10.6" y="0" font-size="38" text-anchor="middle">p</text>
<text class="mt it" x="28.2" y="10.5" font-size="26.6" text-anchor="middle">r</text>
<text class="mt " x="41.3" y="0" font-size="41.5" text-anchor="middle">(</text>
<text class="mt it" x="56.9" y="0" font-size="38" text-anchor="middle">x</text>
<text class="mt " x="69.7" y="3.2" font-size="38" text-anchor="middle">,</text>
<text class="mt it" x="90" y="0" font-size="38" text-anchor="middle">t</text>
<text class="mt " x="109.4" y="0" font-size="38" text-anchor="middle">|</text>
<text class="mt it" x="137.2" y="0" font-size="38" text-anchor="middle">x</text>
<text class="mt " x="156" y="10.5" font-size="26.6" text-anchor="middle">0</text>
<text class="mt " x="221.9" y="0" font-size="38" text-anchor="middle">0</text>
<text class="mt " x="237.2" y="0" font-size="41.5" text-anchor="middle">)</text>
<text class="mt" transform="translate(187.5,1.9) scale(1.32,0.88)" font-size="38" text-anchor="middle">=</text>
</g>
<rect x="649.9" y="16" width="147" height="88" fill="#fff" stroke="#000" stroke-width="1.6"/>
<path d="M669.8 26.4L693 49.6M669.8 49.6L693 26.4" stroke="#0000ff" stroke-width="1.8" fill="none"/>
<path d="M669.6 60.2H693.2M681.4 48.2V72.2" stroke="#ff0000" stroke-width="1.8" fill="none"/>
<circle cx="681.4" cy="82.4" r="9.4" fill="#008000" stroke="#000" stroke-width="1.9"/>
<text class="mt it" x="711.8" y="44.9" font-size="21">t</text>
<text class="mt" transform="translate(732.85,49.4) scale(1.5,1.25)" font-size="21" text-anchor="middle">=</text>
<text class="mt" x="744.3" y="44.9" font-size="21">1.0</text>
<text class="mt it" x="711.8" y="67.1" font-size="21">t</text>
<text class="mt" transform="translate(732.85,71.6) scale(1.5,1.25)" font-size="21" text-anchor="middle">=</text>
<text class="mt" x="744.3" y="67.1" font-size="21">3.0</text>
<text class="mt it" x="711.8" y="89.3" font-size="21">t</text>
<text class="mt" transform="translate(732.85,93.8) scale(1.5,1.25)" font-size="21" text-anchor="middle">=</text>
<text class="mt" x="744.3" y="89.3" font-size="21">10.0</text>
<text class="mt" transform="translate(-1.7,563.8) scale(0.93,1)" font-size="58">(a)</text>
<clipPath id="clipb"><rect x="1013.3" y="1.5" width="709.8" height="455.3"/></clipPath>
<path d="M1122.06 0.5V457.8M1256.4 0.5V457.8M1390.74 0.5V457.8M1525.08 0.5V457.8M1659.42 0.5V457.8" stroke="#000" stroke-opacity="0.07" stroke-width="1.1" fill="none"/>
<path d="M1012.3 445.2H1724.1M1012.3 350.15H1724.1M1012.3 255.1H1724.1M1012.3 160.05H1724.1M1012.3 65H1724.1" stroke="#000" stroke-opacity="0.07" stroke-width="1.1" fill="none"/>
<path d="M1012.3 0V457.8H1724.1V0" fill="none" stroke="#000" stroke-width="2"/>
<rect x="1011.3" y="0" width="713.8" height="1.8" fill="#363636"/>
<path d="M1122.06 457.8V450.3M1256.4 457.8V450.3M1390.74 457.8V450.3M1525.08 457.8V450.3M1659.42 457.8V450.3M1012.3 445.2H1019.8M1012.3 350.15H1019.8M1012.3 255.1H1019.8M1012.3 160.05H1019.8M1012.3 65H1019.8" stroke="#000" stroke-width="1.5" fill="none"/>
<g clip-path="url(#clipb)">
<polyline points="1032.5,445.17 1033.62,445.17 1034.74,445.17 1035.86,445.17 1036.98,445.17 1038.1,445.17 1039.22,445.17 1040.34,445.16 1041.46,445.16 1042.58,445.16 1043.7,445.16 1044.81,445.16 1045.93,445.15 1047.05,445.15 1048.17,445.15 1049.29,445.14 1050.41,445.14 1051.53,445.14 1052.65,445.13 1053.77,445.13 1054.89,445.12 1056.01,445.12 1057.13,445.11 1058.25,445.11 1059.37,445.1 1060.49,445.1 1061.61,445.09 1062.73,445.09 1063.85,445.08 1064.97,445.08 1066.09,445.07 1067.2,445.07 1068.32,445.06 1069.44,445.05 1070.56,445.05 1071.68,445.04 1072.8,445.04 1073.92,445.03 1075.04,445.02 1076.16,445.02 1077.28,445.01 1078.4,445 1079.52,445 1080.64,444.99 1081.76,444.98 1082.88,444.97 1084,444.97 1085.12,444.96 1086.24,444.95 1087.36,444.94 1088.48,444.93 1089.59,444.92 1090.71,444.91 1091.83,444.89 1092.95,444.88 1094.07,444.87 1095.19,444.86 1096.31,444.84 1097.43,444.83 1098.55,444.81 1099.67,444.8 1100.79,444.78 1101.91,444.76 1103.03,444.74 1104.15,444.72 1105.27,444.7 1106.39,444.68 1107.51,444.66 1108.63,444.64 1109.75,444.61 1110.87,444.59 1111.98,444.56 1113.1,444.53 1114.22,444.5 1115.34,444.46 1116.46,444.41 1117.58,444.34 1118.7,444.27 1119.82,444.2 1120.94,444.12 1122.06,444.03 1123.18,443.94 1124.3,443.84 1125.42,443.75 1126.54,443.65 1127.66,443.55 1128.78,443.45 1129.9,443.34 1131.02,443.23 1132.14,443.11 1133.26,442.97 1134.37,442.83 1135.49,442.66 1136.61,442.46 1137.73,442.23 1138.85,441.98 1139.97,441.72 1141.09,441.45 1142.21,441.18 1143.33,440.89 1144.45,440.59 1145.57,440.27 1146.69,439.95 1147.81,439.62 1148.93,439.29 1150.05,438.96 1151.17,438.62 1152.29,438.26 1153.41,437.89 1154.53,437.49 1155.64,437.06 1156.76,436.6 1157.88,436.11 1159,435.6 1160.12,435.05 1161.24,434.48 1162.36,433.87 1163.48,433.22 1164.6,432.52 1165.72,431.79 1166.84,431.06 1167.96,430.32 1169.08,429.59 1170.2,428.86 1171.32,428.12 1172.44,427.35 1173.56,426.55 1174.68,425.7 1175.8,424.79 1176.92,423.83 1178.04,422.81 1179.15,421.74 1180.27,420.64 1181.39,419.49 1182.51,418.28 1183.63,417 1184.75,415.68 1185.87,414.33 1186.99,412.99 1188.11,411.67 1189.23,410.44 1190.35,409.25 1191.47,408.06 1192.59,406.81 1193.71,405.44 1194.83,403.9 1195.95,402.06 1197.07,399.83 1198.19,397.35 1199.31,394.78 1200.43,392.25 1201.54,389.91 1202.66,387.77 1203.78,385.73 1204.9,383.72 1206.02,381.66 1207.14,379.47 1208.26,377.08 1209.38,374.41 1210.5,371.45 1211.62,368.28 1212.74,364.96 1213.86,361.6 1214.98,358.25 1216.1,354.93 1217.22,351.57 1218.34,348.16 1219.46,344.65 1220.58,341.01 1221.7,337.22 1222.82,333.28 1223.93,329.19 1225.05,324.95 1226.17,320.55 1227.29,315.97 1228.41,311.21 1229.53,306.22 1230.65,300.92 1231.77,295.39 1232.89,289.66 1234.01,283.8 1235.13,277.86 1236.25,271.89 1237.37,265.83 1238.49,259.63 1239.61,253.25 1240.73,246.62 1241.85,239.7 1242.97,232.46 1244.09,224.9 1245.21,216.98 1246.32,208.64 1247.44,199.84 1248.56,190.05 1249.68,178.46 1250.8,167.32 1251.92,159.01 1253.04,152.65 1254.16,147.32 1255.28,142.9 1256.4,139.03 1257.52,136.01 1258.64,134.11 1259.76,132.54 1260.88,131.63 1262,131.65 1263.12,132.25 1264.24,133.25 1265.36,134.47 1266.48,135.75 1267.6,137.1 1268.71,138.75 1269.83,140.64 1270.95,142.7 1272.07,144.84 1273.19,147.11 1274.31,149.59 1275.43,152.25 1276.55,155.09 1277.67,158.09 1278.79,161.17 1279.91,164.47 1281.03,168.27 1282.15,172.85 1283.27,179.25 1284.39,187.21 1285.51,195.87 1286.63,204.35 1287.75,211.76 1288.87,218.1 1289.99,224.04 1291.1,229.7 1292.22,235.19 1293.34,240.64 1294.46,246.16 1295.58,251.81 1296.7,257.51 1297.82,263.17 1298.94,268.73 1300.06,274.12 1301.18,279.26 1302.3,284.2 1303.42,288.99 1304.54,293.64 1305.66,298.15 1306.78,302.53 1307.9,306.79 1309.02,310.95 1310.14,314.99 1311.26,318.93 1312.38,322.74 1313.49,326.43 1314.61,329.98 1315.73,333.44 1316.85,336.81 1317.97,340.07 1319.09,343.21 1320.21,346.22 1321.33,349.1 1322.45,351.85 1323.57,354.5 1324.69,357.05 1325.81,359.53 1326.93,361.94 1328.05,364.31 1329.17,366.63 1330.29,368.9 1331.41,371.1 1332.53,373.24 1333.65,375.29 1334.77,377.26 1335.88,379.19 1337,381.08 1338.12,382.89 1339.24,384.59 1340.36,386.16 1341.48,387.58 1342.6,388.9 1343.72,390.14 1344.84,391.31 1345.96,392.42 1347.08,393.5 1348.2,394.54 1349.32,395.56 1350.44,396.56 1351.56,397.53 1352.68,398.44 1353.8,399.29 1354.92,400.05 1356.04,400.77 1357.16,401.47 1358.27,402.12 1359.39,402.69 1360.51,403.16 1361.63,403.51 1362.75,403.83 1363.87,404.13 1364.99,404.38 1366.11,404.58 1367.23,404.69 1368.35,404.7 1369.47,404.65 1370.59,404.54 1371.71,404.4 1372.83,404.23 1373.95,404.04 1375.07,403.85 1376.19,403.63 1377.31,403.34 1378.43,403.01 1379.55,402.66 1380.66,402.3 1381.78,401.95 1382.9,401.62 1384.02,401.3 1385.14,400.98 1386.26,400.64 1387.38,400.29 1388.5,399.9 1389.62,399.48 1390.74,398.99 1391.86,398.39 1392.98,397.69 1394.1,396.94 1395.22,396.17 1396.34,395.43 1397.46,394.75 1398.58,394.11 1399.7,393.5 1400.82,392.89 1401.94,392.27 1403.05,391.62 1404.17,390.93 1405.29,390.18 1406.41,389.4 1407.53,388.58 1408.65,387.74 1409.77,386.88 1410.89,386.01 1412.01,385.15 1413.13,384.27 1414.25,383.38 1415.37,382.47 1416.49,381.55 1417.61,380.62 1418.73,379.69 1419.85,378.76 1420.97,377.82 1422.09,376.89 1423.21,375.96 1424.33,375.04 1425.44,374.14 1426.56,373.25 1427.68,372.36 1428.8,371.48 1429.92,370.6 1431.04,369.72 1432.16,368.85 1433.28,367.98 1434.4,367.12 1435.52,366.27 1436.64,365.43 1437.76,364.59 1438.88,363.77 1440,362.96 1441.12,362.16 1442.24,361.36 1443.36,360.55 1444.48,359.74 1445.6,358.94 1446.72,358.14 1447.83,357.35 1448.95,356.58 1450.07,355.83 1451.19,355.1 1452.31,354.4 1453.43,353.74 1454.55,353.11 1455.67,352.53 1456.79,351.97 1457.91,351.41 1459.03,350.87 1460.15,350.34 1461.27,349.82 1462.39,349.32 1463.51,348.85 1464.63,348.4 1465.75,347.97 1466.87,347.57 1467.99,347.21 1469.11,346.88 1470.22,346.59 1471.34,346.33 1472.46,346.06 1473.58,345.79 1474.7,345.55 1475.82,345.33 1476.94,345.15 1478.06,345.01 1479.18,344.94 1480.3,344.93 1481.42,344.96 1482.54,345.02 1483.66,345.11 1484.78,345.23 1485.9,345.38 1487.02,345.54 1488.14,345.73 1489.26,345.92 1490.38,346.13 1491.5,346.36 1492.61,346.59 1493.73,346.88 1494.85,347.27 1495.97,347.73 1497.09,348.26 1498.21,348.83 1499.33,349.46 1500.45,350.11 1501.57,350.78 1502.69,351.45 1503.81,352.13 1504.93,352.79 1506.05,353.49 1507.17,354.22 1508.29,354.99 1509.41,355.79 1510.53,356.61 1511.65,357.46 1512.77,358.31 1513.89,359.18 1515,360.05 1516.12,360.92 1517.24,361.79 1518.36,362.64 1519.48,363.49 1520.6,364.34 1521.72,365.19 1522.84,366.05 1523.96,366.91 1525.08,367.78 1526.2,368.65 1527.32,369.52 1528.44,370.4 1529.56,371.28 1530.68,372.16 1531.8,373.05 1532.92,373.95 1534.04,374.84 1535.16,375.74 1536.28,376.65 1537.39,377.56 1538.51,378.47 1539.63,379.39 1540.75,380.31 1541.87,381.24 1542.99,382.17 1544.11,383.1 1545.23,384.03 1546.35,384.97 1547.47,385.9 1548.59,386.84 1549.71,387.78 1550.83,388.74 1551.95,389.7 1553.07,390.67 1554.19,391.64 1555.31,392.61 1556.43,393.58 1557.55,394.54 1558.66,395.5 1559.78,396.44 1560.9,397.37 1562.02,398.28 1563.14,399.17 1564.26,400.04 1565.38,400.91 1566.5,401.75 1567.62,402.59 1568.74,403.42 1569.86,404.24 1570.98,405.06 1572.1,405.88 1573.22,406.7 1574.34,407.52 1575.46,408.34 1576.58,409.17 1577.7,410.01 1578.82,410.86 1579.94,411.73 1581.06,412.61 1582.17,413.49 1583.29,414.37 1584.41,415.25 1585.53,416.13 1586.65,416.99 1587.77,417.83 1588.89,418.66 1590.01,419.46 1591.13,420.23 1592.25,420.97 1593.37,421.7 1594.49,422.41 1595.61,423.11 1596.73,423.8 1597.85,424.48 1598.97,425.15 1600.09,425.8 1601.21,426.43 1602.33,427.05 1603.45,427.65 1604.56,428.23 1605.68,428.79 1606.8,429.34 1607.92,429.87 1609.04,430.39 1610.16,430.9 1611.28,431.39 1612.4,431.87 1613.52,432.35 1614.64,432.81 1615.76,433.25 1616.88,433.69 1618,434.11 1619.12,434.53 1620.24,434.93 1621.36,435.31 1622.48,435.7 1623.6,436.07 1624.72,436.44 1625.84,436.81 1626.95,437.16 1628.07,437.51 1629.19,437.84 1630.31,438.17 1631.43,438.48 1632.55,438.77 1633.67,439.05 1634.79,439.3 1635.91,439.54 1637.03,439.77 1638.15,439.98 1639.27,440.19 1640.39,440.39 1641.51,440.58 1642.63,440.76 1643.75,440.94 1644.87,441.11 1645.99,441.27 1647.11,441.43 1648.23,441.58 1649.34,441.73 1650.46,441.87 1651.58,442.02 1652.7,442.16 1653.82,442.3 1654.94,442.44 1656.06,442.57 1657.18,442.7 1658.3,442.83 1659.42,442.94 1660.54,443.05 1661.66,443.14 1662.78,443.23 1663.9,443.3 1665.02,443.36 1666.14,443.43 1667.26,443.49 1668.38,443.55 1669.5,443.61 1670.62,443.67 1671.73,443.73 1672.85,443.79 1673.97,443.85 1675.09,443.91 1676.21,443.96 1677.33,444.01 1678.45,444.07 1679.57,444.12 1680.69,444.17 1681.81,444.21 1682.93,444.26 1684.05,444.3 1685.17,444.35 1686.29,444.39 1687.41,444.42 1688.53,444.46 1689.65,444.5 1690.77,444.53 1691.89,444.56 1693.01,444.59 1694.12,444.61 1695.24,444.63 1696.36,444.66 1697.48,444.67 1698.6,444.69 1699.72,444.7 1700.84,444.71 1701.96,444.72 1703.08,444.72 1704.2,444.72" fill="none" stroke="#0000ff" stroke-width="1.8" stroke-linejoin="round"/>
<path d="M1030.13 439.47L1041.53 450.87M1030.13 450.87L1041.53 439.47M1036.78 439.46L1048.18 450.86M1036.78 450.86L1048.18 439.46M1043.43 439.44L1054.83 450.84M1043.43 450.84L1054.83 439.44M1050.08 439.42L1061.48 450.82M1050.08 450.82L1061.48 439.42M1056.73 439.39L1068.13 450.79M1056.73 450.79L1068.13 439.39M1063.38 439.36L1074.78 450.76M1063.38 450.76L1074.78 439.36M1070.03 439.32L1081.43 450.72M1070.03 450.72L1081.43 439.32M1076.68 439.28L1088.08 450.68M1076.68 450.68L1088.08 439.28M1083.33 439.22L1094.73 450.62M1083.33 450.62L1094.73 439.22M1089.98 439.15L1101.38 450.55M1089.98 450.55L1101.38 439.15M1096.63 439.05L1108.03 450.45M1096.63 450.45L1108.03 439.05M1103.28 438.93L1114.68 450.33M1103.28 450.33L1114.68 438.93M1109.93 438.75L1121.33 450.15M1109.93 450.15L1121.33 438.75M1116.58 438.31L1127.98 449.71M1116.58 449.71L1127.98 438.31M1123.23 437.74L1134.63 449.14M1123.23 449.14L1134.63 437.74M1129.88 436.94L1141.28 448.34M1129.88 448.34L1141.28 436.94M1136.53 435.47L1147.93 446.87M1136.53 446.87L1147.93 435.47M1143.18 433.61L1154.58 445.01M1143.18 445.01L1154.58 433.61M1149.83 431.4L1161.23 442.8M1149.83 442.8L1161.23 431.4M1156.48 428.27L1167.88 439.67M1156.48 439.67L1167.88 428.27M1163.14 424.05L1174.54 435.45M1163.14 435.45L1174.54 424.05M1169.79 419.35L1181.19 430.75M1169.79 430.75L1181.19 419.35M1176.44 413L1187.84 424.4M1176.44 424.4L1187.84 413M1183.09 405.22L1194.49 416.62M1183.09 416.62L1194.49 405.22M1189.74 397.26L1201.14 408.66M1189.74 408.66L1201.14 397.26M1196.39 383.15L1207.79 394.55M1196.39 394.55L1207.79 383.15M1203.04 370.28L1214.44 381.68M1203.04 381.68L1214.44 370.28M1209.69 351.33L1221.09 362.73M1209.69 362.73L1221.09 351.33M1216.34 330.33L1227.74 341.73M1216.34 341.73L1227.74 330.33M1222.99 304.3L1234.39 315.7M1222.99 315.7L1234.39 304.3M1229.64 271.04L1241.04 282.44M1229.64 282.44L1241.04 271.04M1236.29 233.09L1247.69 244.49M1236.29 244.49L1247.69 233.09M1242.94 183.58L1254.34 194.98M1242.94 194.98L1254.34 183.58M1249.59 137.16L1260.99 148.56M1249.59 148.56L1260.99 137.16M1256.24 125.93L1267.64 137.33M1256.24 137.33L1267.64 125.93M1262.89 132.86L1274.29 144.26M1262.89 144.26L1274.29 132.86M1269.54 146.09L1280.94 157.49M1269.54 157.49L1280.94 146.09M1276.19 166L1287.59 177.4M1276.19 177.4L1287.59 166M1282.84 210.63L1294.24 222.03M1282.84 222.03L1294.24 210.63M1289.49 244.14L1300.89 255.54M1289.49 255.54L1300.89 244.14M1296.15 276.51L1307.55 287.91M1296.15 287.91L1307.55 276.51M1302.8 303.33L1314.2 314.73M1302.8 314.73L1314.2 303.33M1309.45 325.94L1320.85 337.34M1309.45 337.34L1320.85 325.94M1316.1 344.56L1327.5 355.96M1316.1 355.96L1327.5 344.56M1322.75 359.44L1334.15 370.84M1322.75 370.84L1334.15 359.44M1329.4 372.14L1340.8 383.54M1329.4 383.54L1340.8 372.14M1336.05 382.2L1347.45 393.6M1336.05 393.6L1347.45 382.2M1342.7 389.02L1354.1 400.42M1342.7 400.42L1354.1 389.02M1349.35 394.44L1360.75 405.84M1349.35 405.84L1360.75 394.44M1356 397.83L1367.4 409.23M1356 409.23L1367.4 397.83M1362.65 399L1374.05 410.4M1362.65 410.4L1374.05 399M1369.3 398.16L1380.7 409.56M1369.3 409.56L1380.7 398.16M1375.95 396.29L1387.35 407.69M1375.95 407.69L1387.35 396.29M1382.6 394.27L1394 405.67M1382.6 405.67L1394 394.27M1389.25 390.65L1400.65 402.05M1389.25 402.05L1400.65 390.65M1395.9 386.75L1407.3 398.15M1395.9 398.15L1407.3 386.75M1402.55 382.34L1413.95 393.74M1402.55 393.74L1413.95 382.34M1409.2 377.15L1420.6 388.55M1409.2 388.55L1420.6 377.15M1415.85 371.63L1427.25 383.03M1415.85 383.03L1427.25 371.63M1422.5 366.25L1433.9 377.65M1422.5 377.65L1433.9 366.25M1429.15 361.08L1440.55 372.48M1429.15 372.48L1440.55 361.08M1435.81 356.18L1447.21 367.58M1435.81 367.58L1447.21 356.18M1442.46 351.43L1453.86 362.83M1442.46 362.83L1453.86 351.43M1449.11 347.27L1460.51 358.67M1449.11 358.67L1460.51 347.27M1455.76 344.04L1467.16 355.44M1455.76 355.44L1467.16 344.04M1462.41 341.47L1473.81 352.87M1462.41 352.87L1473.81 341.47M1469.06 339.83L1480.46 351.23M1469.06 351.23L1480.46 339.83M1475.71 339.26L1487.11 350.66M1475.71 350.66L1487.11 339.26M1482.36 340.01L1493.76 351.41M1482.36 351.41L1493.76 340.01M1489.01 341.51L1500.41 352.91M1489.01 352.91L1500.41 341.51M1495.66 344.95L1507.06 356.35M1495.66 356.35L1507.06 344.95M1502.31 349.1L1513.71 360.5M1502.31 360.5L1513.71 349.1M1508.96 354.08L1520.36 365.48M1508.96 365.48L1520.36 354.08M1515.61 359.18L1527.01 370.58M1515.61 370.58L1527.01 359.18M1522.26 364.32L1533.66 375.72M1522.26 375.72L1533.66 364.32M1528.91 369.6L1540.31 381M1528.91 381L1540.31 369.6M1535.56 375.04L1546.96 386.44M1535.56 386.44L1546.96 375.04M1542.21 380.57L1553.61 391.97M1542.21 391.97L1553.61 380.57M1548.86 386.27L1560.26 397.67M1548.86 397.67L1560.26 386.27M1555.51 391.92L1566.91 403.32M1555.51 403.32L1566.91 391.92M1562.16 397.07L1573.56 408.47M1562.16 408.47L1573.56 397.07M1568.82 401.95L1580.22 413.35M1568.82 413.35L1580.22 401.95M1575.47 406.99L1586.87 418.39M1575.47 418.39L1586.87 406.99M1582.12 412.17L1593.52 423.57M1582.12 423.57L1593.52 412.17M1588.77 416.7L1600.17 428.1M1588.77 428.1L1600.17 416.7M1595.42 420.68L1606.82 432.08M1595.42 432.08L1606.82 420.68M1602.07 424.1L1613.47 435.5M1602.07 435.5L1613.47 424.1M1608.72 427.02L1620.12 438.42M1608.72 438.42L1620.12 427.02M1615.37 429.52L1626.77 440.92M1615.37 440.92L1626.77 429.52M1622.02 431.7L1633.42 443.1M1622.02 443.1L1633.42 431.7M1628.67 433.51L1640.07 444.91M1628.67 444.91L1640.07 433.51M1635.32 434.8L1646.72 446.2M1635.32 446.2L1646.72 434.8M1641.97 435.81L1653.37 447.21M1641.97 447.21L1653.37 435.81M1648.62 436.66L1660.02 448.06M1648.62 448.06L1660.02 436.66M1655.27 437.39L1666.67 448.79M1655.27 448.79L1666.67 437.39M1661.92 437.81L1673.32 449.21M1661.92 449.21L1673.32 437.81M1668.57 438.16L1679.97 449.56M1668.57 449.56L1679.97 438.16M1675.22 438.48L1686.62 449.88M1675.22 449.88L1686.62 438.48M1681.87 438.73L1693.27 450.13M1681.87 450.13L1693.27 438.73M1688.52 438.91L1699.92 450.31M1688.52 450.31L1699.92 438.91M1695.17 439.01L1706.57 450.41M1695.17 450.41L1706.57 439.01" stroke="#0000ff" stroke-width="1.4" fill="none"/>
<polyline points="1032.5,443.77 1033.62,443.76 1034.74,443.75 1035.86,443.73 1036.98,443.71 1038.1,443.68 1039.22,443.65 1040.34,443.62 1041.46,443.59 1042.58,443.55 1043.7,443.51 1044.81,443.47 1045.93,443.43 1047.05,443.38 1048.17,443.34 1049.29,443.29 1050.41,443.24 1051.53,443.19 1052.65,443.14 1053.77,443.08 1054.89,443.02 1056.01,442.95 1057.13,442.88 1058.25,442.8 1059.37,442.72 1060.49,442.63 1061.61,442.54 1062.73,442.45 1063.85,442.35 1064.97,442.24 1066.09,442.13 1067.2,442.01 1068.32,441.88 1069.44,441.74 1070.56,441.59 1071.68,441.44 1072.8,441.29 1073.92,441.13 1075.04,440.97 1076.16,440.8 1077.28,440.64 1078.4,440.47 1079.52,440.29 1080.64,440.1 1081.76,439.9 1082.88,439.7 1084,439.5 1085.12,439.29 1086.24,439.09 1087.36,438.87 1088.48,438.65 1089.59,438.41 1090.71,438.16 1091.83,437.87 1092.95,437.56 1094.07,437.23 1095.19,436.9 1096.31,436.58 1097.43,436.27 1098.55,435.95 1099.67,435.63 1100.79,435.3 1101.91,434.97 1103.03,434.62 1104.15,434.27 1105.27,433.9 1106.39,433.53 1107.51,433.13 1108.63,432.73 1109.75,432.3 1110.87,431.84 1111.98,431.37 1113.1,430.88 1114.22,430.38 1115.34,429.9 1116.46,429.42 1117.58,428.94 1118.7,428.46 1119.82,427.97 1120.94,427.47 1122.06,426.95 1123.18,426.41 1124.3,425.84 1125.42,425.26 1126.54,424.67 1127.66,424.08 1128.78,423.48 1129.9,422.89 1131.02,422.3 1132.14,421.7 1133.26,421.07 1134.37,420.42 1135.49,419.73 1136.61,419 1137.73,418.23 1138.85,417.42 1139.97,416.6 1141.09,415.76 1142.21,414.92 1143.33,414.06 1144.45,413.19 1145.57,412.29 1146.69,411.37 1147.81,410.42 1148.93,409.45 1150.05,408.43 1151.17,407.38 1152.29,406.3 1153.41,405.2 1154.53,404.08 1155.64,402.95 1156.76,401.8 1157.88,400.63 1159,399.43 1160.12,398.19 1161.24,396.89 1162.36,395.54 1163.48,394.14 1164.6,392.67 1165.72,391.16 1166.84,389.61 1167.96,388.02 1169.08,386.38 1170.2,384.67 1171.32,382.91 1172.44,381.11 1173.56,379.28 1174.68,377.44 1175.8,375.6 1176.92,373.76 1178.04,371.89 1179.15,369.97 1180.27,367.99 1181.39,365.93 1182.51,363.76 1183.63,361.45 1184.75,359.03 1185.87,356.56 1186.99,354.09 1188.11,351.67 1189.23,349.34 1190.35,347.06 1191.47,344.8 1192.59,342.52 1193.71,340.16 1194.83,337.69 1195.95,335.06 1197.07,332.3 1198.19,329.42 1199.31,326.41 1200.43,323.26 1201.54,319.96 1202.66,316.5 1203.78,312.76 1204.9,308.71 1206.02,304.46 1207.14,300.14 1208.26,295.85 1209.38,291.68 1210.5,287.55 1211.62,283.42 1212.74,279.28 1213.86,275.08 1214.98,270.81 1216.1,266.46 1217.22,262.14 1218.34,257.84 1219.46,253.45 1220.58,248.88 1221.7,244.05 1222.82,238.86 1223.93,233.14 1225.05,226.8 1226.17,220.04 1227.29,213.05 1228.41,206.02 1229.53,199.14 1230.65,192.29 1231.77,185.39 1232.89,178.39 1234.01,171.22 1235.13,163.84 1236.25,156.19 1237.37,148.29 1238.49,140.19 1239.61,131.91 1240.73,123.5 1241.85,114.99 1242.97,106.15 1244.09,97.02 1245.21,87.81 1246.32,78.75 1247.44,70.04 1248.56,61.57 1249.68,52.46 1250.8,43.55 1251.92,35.85 1253.04,30.38 1254.16,27.31 1255.28,25.36 1256.4,25.49 1257.52,27.11 1258.64,29.84 1259.76,33.39 1260.88,37.45 1262,41.72 1263.12,46.65 1264.24,53.33 1265.36,61.16 1266.48,69.5 1267.6,77.7 1268.71,85.14 1269.83,92.11 1270.95,98.95 1272.07,105.72 1273.19,112.46 1274.31,119.22 1275.43,126.07 1276.55,132.99 1277.67,139.94 1278.79,146.92 1279.91,153.94 1281.03,161.01 1282.15,168.13 1283.27,175.54 1284.39,183.21 1285.51,190.81 1286.63,198.03 1287.75,204.53 1288.87,210.32 1289.99,215.67 1291.1,220.71 1292.22,225.56 1293.34,230.36 1294.46,235.21 1295.58,240.18 1296.7,245.16 1297.82,250.09 1298.94,254.92 1300.06,259.59 1301.18,264.03 1302.3,268.29 1303.42,272.41 1304.54,276.4 1305.66,280.27 1306.78,284.01 1307.9,287.62 1309.02,291.1 1310.14,294.41 1311.26,297.59 1312.38,300.69 1313.49,303.75 1314.61,306.81 1315.73,309.9 1316.85,313.06 1317.97,316.24 1319.09,319.39 1320.21,322.47 1321.33,325.45 1322.45,328.27 1323.57,330.95 1324.69,333.53 1325.81,336.03 1326.93,338.48 1328.05,340.89 1329.17,343.3 1330.29,345.72 1331.41,348.13 1332.53,350.52 1333.65,352.86 1334.77,355.14 1335.88,357.33 1337,359.44 1338.12,361.5 1339.24,363.5 1340.36,365.43 1341.48,367.28 1342.6,369.03 1343.72,370.69 1344.84,372.28 1345.96,373.82 1347.08,375.3 1348.2,376.76 1349.32,378.19 1350.44,379.61 1351.56,381.01 1352.68,382.36 1353.8,383.68 1354.92,384.93 1356.04,386.11 1357.16,387.22 1358.27,388.28 1359.39,389.31 1360.51,390.34 1361.63,391.39 1362.75,392.48 1363.87,393.64 1364.99,394.85 1366.11,396.06 1367.23,397.25 1368.35,398.37 1369.47,399.39 1370.59,400.35 1371.71,401.26 1372.83,402.13 1373.95,402.96 1375.07,403.77 1376.19,404.55 1377.31,405.31 1378.43,406.04 1379.55,406.73 1380.66,407.41 1381.78,408.09 1382.9,408.76 1384.02,409.43 1385.14,410.08 1386.26,410.73 1387.38,411.37 1388.5,412.02 1389.62,412.68 1390.74,413.34 1391.86,414.05 1392.98,414.78 1394.1,415.5 1395.22,416.19 1396.34,416.82 1397.46,417.37 1398.58,417.86 1399.7,418.32 1400.82,418.75 1401.94,419.16 1403.05,419.58 1404.17,420.01 1405.29,420.46 1406.41,420.91 1407.53,421.36 1408.65,421.81 1409.77,422.25 1410.89,422.67 1412.01,423.11 1413.13,423.55 1414.25,423.98 1415.37,424.38 1416.49,424.71 1417.61,424.98 1418.73,425.23 1419.85,425.46 1420.97,425.68 1422.09,425.89 1423.21,426.09 1424.33,426.27 1425.44,426.45 1426.56,426.62 1427.68,426.79 1428.8,426.95 1429.92,427.11 1431.04,427.27 1432.16,427.43 1433.28,427.59 1434.4,427.75 1435.52,427.93 1436.64,428.1 1437.76,428.28 1438.88,428.46 1440,428.64 1441.12,428.83 1442.24,429.01 1443.36,429.19 1444.48,429.37 1445.6,429.55 1446.72,429.73 1447.83,429.9 1448.95,430.08 1450.07,430.25 1451.19,430.42 1452.31,430.59 1453.43,430.75 1454.55,430.91 1455.67,431.07 1456.79,431.22 1457.91,431.37 1459.03,431.51 1460.15,431.65 1461.27,431.78 1462.39,431.91 1463.51,432.04 1464.63,432.16 1465.75,432.28 1466.87,432.4 1467.99,432.52 1469.11,432.63 1470.22,432.74 1471.34,432.85 1472.46,432.96 1473.58,433.06 1474.7,433.17 1475.82,433.27 1476.94,433.37 1478.06,433.48 1479.18,433.58 1480.3,433.68 1481.42,433.78 1482.54,433.88 1483.66,433.98 1484.78,434.08 1485.9,434.18 1487.02,434.28 1488.14,434.38 1489.26,434.47 1490.38,434.57 1491.5,434.67 1492.61,434.76 1493.73,434.86 1494.85,434.95 1495.97,435.05 1497.09,435.14 1498.21,435.23 1499.33,435.32 1500.45,435.41 1501.57,435.5 1502.69,435.59 1503.81,435.68 1504.93,435.77 1506.05,435.85 1507.17,435.94 1508.29,436.02 1509.41,436.11 1510.53,436.19 1511.65,436.27 1512.77,436.36 1513.89,436.44 1515,436.52 1516.12,436.59 1517.24,436.67 1518.36,436.75 1519.48,436.83 1520.6,436.9 1521.72,436.98 1522.84,437.05 1523.96,437.13 1525.08,437.2 1526.2,437.28 1527.32,437.36 1528.44,437.43 1529.56,437.51 1530.68,437.58 1531.8,437.66 1532.92,437.74 1534.04,437.82 1535.16,437.9 1536.28,437.98 1537.39,438.06 1538.51,438.14 1539.63,438.23 1540.75,438.31 1541.87,438.39 1542.99,438.48 1544.11,438.56 1545.23,438.64 1546.35,438.73 1547.47,438.81 1548.59,438.89 1549.71,438.97 1550.83,439.05 1551.95,439.12 1553.07,439.2 1554.19,439.27 1555.31,439.35 1556.43,439.42 1557.55,439.48 1558.66,439.55 1559.78,439.61 1560.9,439.68 1562.02,439.74 1563.14,439.8 1564.26,439.85 1565.38,439.91 1566.5,439.97 1567.62,440.03 1568.74,440.08 1569.86,440.14 1570.98,440.19 1572.1,440.24 1573.22,440.3 1574.34,440.35 1575.46,440.4 1576.58,440.45 1577.7,440.51 1578.82,440.56 1579.94,440.61 1581.06,440.67 1582.17,440.72 1583.29,440.78 1584.41,440.83 1585.53,440.88 1586.65,440.94 1587.77,440.99 1588.89,441.04 1590.01,441.09 1591.13,441.15 1592.25,441.2 1593.37,441.25 1594.49,441.3 1595.61,441.35 1596.73,441.41 1597.85,441.46 1598.97,441.51 1600.09,441.56 1601.21,441.61 1602.33,441.67 1603.45,441.72 1604.56,441.78 1605.68,441.83 1606.8,441.88 1607.92,441.94 1609.04,442 1610.16,442.06 1611.28,442.12 1612.4,442.18 1613.52,442.24 1614.64,442.31 1615.76,442.37 1616.88,442.43 1618,442.49 1619.12,442.56 1620.24,442.62 1621.36,442.68 1622.48,442.74 1623.6,442.79 1624.72,442.85 1625.84,442.9 1626.95,442.95 1628.07,443 1629.19,443.05 1630.31,443.09 1631.43,443.13 1632.55,443.17 1633.67,443.21 1634.79,443.25 1635.91,443.29 1637.03,443.32 1638.15,443.36 1639.27,443.39 1640.39,443.43 1641.51,443.46 1642.63,443.49 1643.75,443.52 1644.87,443.55 1645.99,443.58 1647.11,443.61 1648.23,443.64 1649.34,443.66 1650.46,443.69 1651.58,443.71 1652.7,443.73 1653.82,443.75 1654.94,443.77 1656.06,443.79 1657.18,443.81 1658.3,443.83 1659.42,443.85 1660.54,443.87 1661.66,443.89 1662.78,443.91 1663.9,443.93 1665.02,443.94 1666.14,443.96 1667.26,443.98 1668.38,444 1669.5,444.01 1670.62,444.03 1671.73,444.05 1672.85,444.07 1673.97,444.08 1675.09,444.1 1676.21,444.11 1677.33,444.13 1678.45,444.14 1679.57,444.16 1680.69,444.17 1681.81,444.19 1682.93,444.2 1684.05,444.21 1685.17,444.23 1686.29,444.24 1687.41,444.25 1688.53,444.26 1689.65,444.27 1690.77,444.28 1691.89,444.29 1693.01,444.3 1694.12,444.31 1695.24,444.31 1696.36,444.32 1697.48,444.32 1698.6,444.33 1699.72,444.33 1700.84,444.34 1701.96,444.34 1703.08,444.34 1704.2,444.34" fill="none" stroke="#ff0000" stroke-width="1.8" stroke-linejoin="round"/>
<path d="M1029.83 443.73H1041.83M1035.83 437.73V449.73M1036.48 443.55H1048.48M1042.48 437.55V449.55M1043.13 443.3H1055.13M1049.13 437.3V449.3M1049.78 442.97H1061.78M1055.78 436.97V448.97M1056.43 442.47H1068.43M1062.43 436.47V448.47M1063.08 441.78H1075.08M1069.08 435.78V447.78M1069.73 440.87H1081.73M1075.73 434.87V446.87M1076.38 439.79H1088.38M1082.38 433.79V445.79M1083.03 438.54H1095.03M1089.03 432.54V444.54M1089.68 436.76H1101.68M1095.68 430.76V442.76M1096.33 434.84H1108.33M1102.33 428.84V440.84M1102.98 432.59H1114.98M1108.98 426.59V438.59M1109.63 429.77H1121.63M1115.63 423.77V435.77M1116.28 426.84H1128.28M1122.28 420.84V432.84M1122.93 423.4H1134.93M1128.93 417.4V429.4M1129.58 419.67H1141.58M1135.58 413.67V425.67M1136.23 414.9H1148.23M1142.23 408.9V420.9M1142.88 409.49H1154.88M1148.88 403.49V415.49M1149.53 403.06H1161.53M1155.53 397.06V409.06M1156.18 395.76H1168.18M1162.18 389.76V401.76M1162.84 386.74H1174.84M1168.84 380.74V392.74M1169.49 376.11H1181.49M1175.49 370.11V382.11M1176.14 364.51H1188.14M1182.14 358.51V370.51M1182.79 350.25H1194.79M1188.79 344.25V356.25M1189.44 336.27H1201.44M1195.44 330.27V342.27M1196.09 318.3H1208.09M1202.09 312.3V324.3M1202.74 294.06H1214.74M1208.74 288.06V300.06M1209.39 269.22H1221.39M1215.39 263.22V275.22M1216.04 242.5H1228.04M1222.04 236.5V248.5M1222.69 204.3H1234.69M1228.69 198.3V210.3M1229.34 162.42H1241.34M1235.34 156.42V168.42M1235.99 113.88H1247.99M1241.99 107.88V119.88M1242.64 60.95H1254.64M1248.64 54.95V66.95M1249.29 25.35H1261.29M1255.29 19.35V31.35M1255.94 41.5H1267.94M1261.94 35.5V47.5M1262.59 84.37H1274.59M1268.59 78.37V90.37M1269.24 124.91H1281.24M1275.24 118.91V130.91M1275.89 166.5H1287.89M1281.89 160.5V172.5M1282.54 208.7H1294.54M1288.54 202.7V214.7M1289.19 238.45H1301.19M1295.19 232.45V244.45M1295.85 266.57H1307.85M1301.85 260.57V272.57M1302.5 289.5H1314.5M1308.5 283.5V295.5M1309.15 308.27H1321.15M1315.15 302.27V314.27M1315.8 326.64H1327.8M1321.8 320.64V332.64M1322.45 341.75H1334.45M1328.45 335.75V347.75M1329.1 355.8H1341.1M1335.1 349.8V361.8M1335.75 367.7H1347.75M1341.75 361.7V373.7M1342.4 377.01H1354.4M1348.4 371.01V383.01M1349.05 385.08H1361.05M1355.05 379.08V391.08M1355.7 391.45H1367.7M1361.7 385.45V397.45M1362.35 398.37H1374.35M1368.35 392.37V404.37M1369 403.72H1381M1375 397.72V409.72M1375.65 408.01H1387.65M1381.65 402.01V414.01M1382.3 411.91H1394.3M1388.3 405.91V417.91M1388.95 416.03H1400.95M1394.95 410.03V422.03M1395.6 419.04H1407.6M1401.6 413.04V425.04M1402.25 421.65H1414.25M1408.25 415.65V427.65M1408.9 424.22H1420.9M1414.9 418.22V430.22M1415.55 425.79H1427.55M1421.55 419.79V431.79M1422.2 426.86H1434.2M1428.2 420.86V432.86M1428.85 427.82H1440.85M1434.85 421.82V433.82M1435.51 428.89H1447.51M1441.51 422.89V434.89M1442.16 429.95H1454.16M1448.16 423.95V435.95M1448.81 430.95H1460.81M1454.81 424.95V436.95M1455.46 431.8H1467.46M1461.46 425.8V437.8M1462.11 432.53H1474.11M1468.11 426.53V438.53M1468.76 433.17H1480.76M1474.76 427.17V439.17M1475.41 433.78H1487.41M1481.41 427.78V439.78M1482.06 434.37H1494.06M1488.06 428.37V440.37M1488.71 434.94H1500.71M1494.71 428.94V440.94M1495.36 435.48H1507.36M1501.36 429.48V441.48M1502.01 436H1514.01M1508.01 430V442M1508.66 436.49H1520.66M1514.66 430.49V442.49M1515.31 436.95H1527.31M1521.31 430.95V442.95M1521.96 437.4H1533.96M1527.96 431.4V443.4M1528.61 437.86H1540.61M1534.61 431.86V443.86M1535.26 438.35H1547.26M1541.26 432.35V444.35M1541.91 438.84H1553.91M1547.91 432.84V444.84M1548.56 439.3H1560.56M1554.56 433.3V445.3M1555.21 439.69H1567.21M1561.21 433.69V445.69M1561.86 440.04H1573.86M1567.86 434.04V446.04M1568.52 440.36H1580.52M1574.52 434.36V446.36M1575.17 440.67H1587.17M1581.17 434.67V446.67M1581.82 440.99H1593.82M1587.82 434.99V446.99M1588.47 441.3H1600.47M1594.47 435.3V447.3M1595.12 441.61H1607.12M1601.12 435.61V447.61M1601.77 441.93H1613.77M1607.77 435.93V447.93M1608.42 442.29H1620.42M1614.42 436.29V448.29M1615.07 442.66H1627.07M1621.07 436.66V448.66M1621.72 442.99H1633.72M1627.72 436.99V448.99M1628.37 443.23H1640.37M1634.37 437.23V449.23M1635.02 443.45H1647.02M1641.02 437.45V449.45M1641.67 443.62H1653.67M1647.67 437.62V449.62M1648.32 443.76H1660.32M1654.32 437.76V449.76M1654.97 443.88H1666.97M1660.97 437.88V449.88M1661.62 443.99H1673.62M1667.62 437.99V449.99M1668.27 444.09H1680.27M1674.27 438.09V450.09M1674.92 444.18H1686.92M1680.92 438.18V450.18M1681.57 444.25H1693.57M1687.57 438.25V450.25M1688.22 444.31H1700.22M1694.22 438.31V450.31M1694.87 444.34H1706.87M1700.87 438.34V450.34" stroke="#ff0000" stroke-width="1.4" fill="none"/>
<polyline points="1032.5,441.78 1033.62,441.74 1034.74,441.69 1035.86,441.64 1036.98,441.59 1038.1,441.53 1039.22,441.47 1040.34,441.4 1041.46,441.33 1042.58,441.26 1043.7,441.19 1044.81,441.1 1045.93,441.02 1047.05,440.93 1048.17,440.84 1049.29,440.74 1050.41,440.64 1051.53,440.53 1052.65,440.4 1053.77,440.26 1054.89,440.12 1056.01,439.96 1057.13,439.8 1058.25,439.63 1059.37,439.46 1060.49,439.29 1061.61,439.11 1062.73,438.94 1063.85,438.76 1064.97,438.58 1066.09,438.4 1067.2,438.21 1068.32,438.02 1069.44,437.83 1070.56,437.63 1071.68,437.43 1072.8,437.22 1073.92,437.02 1075.04,436.8 1076.16,436.59 1077.28,436.37 1078.4,436.15 1079.52,435.92 1080.64,435.69 1081.76,435.46 1082.88,435.22 1084,434.98 1085.12,434.73 1086.24,434.47 1087.36,434.21 1088.48,433.94 1089.59,433.66 1090.71,433.37 1091.83,433.08 1092.95,432.77 1094.07,432.46 1095.19,432.13 1096.31,431.8 1097.43,431.46 1098.55,431.11 1099.67,430.75 1100.79,430.39 1101.91,430.01 1103.03,429.63 1104.15,429.24 1105.27,428.84 1106.39,428.42 1107.51,428 1108.63,427.56 1109.75,427.12 1110.87,426.66 1111.98,426.19 1113.1,425.7 1114.22,425.2 1115.34,424.69 1116.46,424.16 1117.58,423.61 1118.7,423.04 1119.82,422.45 1120.94,421.84 1122.06,421.21 1123.18,420.57 1124.3,419.91 1125.42,419.24 1126.54,418.56 1127.66,417.86 1128.78,417.16 1129.9,416.45 1131.02,415.72 1132.14,414.97 1133.26,414.21 1134.37,413.44 1135.49,412.65 1136.61,411.83 1137.73,411 1138.85,410.15 1139.97,409.28 1141.09,408.38 1142.21,407.47 1143.33,406.52 1144.45,405.55 1145.57,404.55 1146.69,403.52 1147.81,402.46 1148.93,401.38 1150.05,400.27 1151.17,399.13 1152.29,397.96 1153.41,396.76 1154.53,395.54 1155.64,394.29 1156.76,393 1157.88,391.67 1159,390.3 1160.12,388.89 1161.24,387.45 1162.36,385.97 1163.48,384.45 1164.6,382.9 1165.72,381.32 1166.84,379.7 1167.96,378.05 1169.08,376.37 1170.2,374.66 1171.32,372.9 1172.44,371.11 1173.56,369.27 1174.68,367.38 1175.8,365.46 1176.92,363.48 1178.04,361.46 1179.15,359.38 1180.27,357.26 1181.39,355.08 1182.51,352.85 1183.63,350.55 1184.75,348.18 1185.87,345.75 1186.99,343.25 1188.11,340.68 1189.23,338.05 1190.35,335.34 1191.47,332.57 1192.59,329.72 1193.71,326.81 1194.83,323.83 1195.95,320.77 1197.07,317.62 1198.19,314.37 1199.31,311.01 1200.43,307.56 1201.54,304.02 1202.66,300.38 1203.78,296.65 1204.9,292.83 1206.02,288.92 1207.14,284.92 1208.26,280.85 1209.38,276.68 1210.5,272.4 1211.62,267.99 1212.74,263.45 1213.86,258.8 1214.98,254.04 1216.1,249.16 1217.22,244.17 1218.34,239.07 1219.46,233.87 1220.58,228.57 1221.7,223.17 1222.82,217.63 1223.93,211.84 1225.05,205.82 1226.17,199.62 1227.29,193.28 1228.41,186.82 1229.53,180.27 1230.65,173.56 1231.77,166.69 1232.89,159.66 1234.01,152.48 1235.13,145.15 1236.25,137.6 1237.37,129.79 1238.49,121.79 1239.61,113.7 1240.73,105.59 1241.85,97.53 1242.97,89.25 1244.09,80.69 1245.21,72.12 1246.32,63.81 1247.44,56.02 1248.56,49.03 1249.68,42.09 1250.8,34.77 1251.92,27.8 1253.04,21.92 1254.16,17.85 1255.28,16.33 1256.4,17.04 1257.52,18.99 1258.64,21.93 1259.76,25.61 1260.88,29.79 1262,34.2 1263.12,40.08 1264.24,48.21 1265.36,57.69 1266.48,67.62 1267.6,77.09 1268.71,85.41 1269.83,93.33 1270.95,101.08 1272.07,108.71 1273.19,116.27 1274.31,123.79 1275.43,131.34 1276.55,138.94 1277.67,146.55 1278.79,154.09 1279.91,161.5 1281.03,168.7 1282.15,175.62 1283.27,182.36 1284.39,188.95 1285.51,195.37 1286.63,201.61 1287.75,207.67 1288.87,213.57 1289.99,219.37 1291.1,225.03 1292.22,230.52 1293.34,235.8 1294.46,240.82 1295.58,245.58 1296.7,250.24 1297.82,254.83 1298.94,259.33 1300.06,263.75 1301.18,268.1 1302.3,272.36 1303.42,276.54 1304.54,280.64 1305.66,284.66 1306.78,288.6 1307.9,292.47 1309.02,296.25 1310.14,299.95 1311.26,303.56 1312.38,307.1 1313.49,310.56 1314.61,313.94 1315.73,317.24 1316.85,320.46 1317.97,323.61 1319.09,326.68 1320.21,329.67 1321.33,332.59 1322.45,335.43 1323.57,338.19 1324.69,340.87 1325.81,343.47 1326.93,346 1328.05,348.44 1329.17,350.81 1330.29,353.12 1331.41,355.37 1332.53,357.56 1333.65,359.7 1334.77,361.78 1335.88,363.81 1337,365.79 1338.12,367.72 1339.24,369.61 1340.36,371.45 1341.48,373.25 1342.6,375.01 1343.72,376.74 1344.84,378.44 1345.96,380.11 1347.08,381.73 1348.2,383.32 1349.32,384.87 1350.44,386.38 1351.56,387.85 1352.68,389.27 1353.8,390.65 1354.92,391.97 1356.04,393.25 1357.16,394.5 1358.27,395.71 1359.39,396.89 1360.51,398.04 1361.63,399.16 1362.75,400.25 1363.87,401.32 1364.99,402.36 1366.11,403.38 1367.23,404.39 1368.35,405.37 1369.47,406.35 1370.59,407.3 1371.71,408.25 1372.83,409.17 1373.95,410.08 1375.07,410.97 1376.19,411.84 1377.31,412.68 1378.43,413.51 1379.55,414.31 1380.66,415.08 1381.78,415.83 1382.9,416.56 1384.02,417.27 1385.14,417.96 1386.26,418.64 1387.38,419.3 1388.5,419.95 1389.62,420.58 1390.74,421.19 1391.86,421.78 1392.98,422.35 1394.1,422.9 1395.22,423.43 1396.34,423.95 1397.46,424.44 1398.58,424.92 1399.7,425.39 1400.82,425.84 1401.94,426.28 1403.05,426.71 1404.17,427.13 1405.29,427.54 1406.41,427.95 1407.53,428.36 1408.65,428.76 1409.77,429.15 1410.89,429.55 1412.01,429.93 1413.13,430.31 1414.25,430.69 1415.37,431.06 1416.49,431.42 1417.61,431.77 1418.73,432.12 1419.85,432.46 1420.97,432.8 1422.09,433.13 1423.21,433.45 1424.33,433.78 1425.44,434.1 1426.56,434.41 1427.68,434.72 1428.8,435.03 1429.92,435.33 1431.04,435.61 1432.16,435.89 1433.28,436.15 1434.4,436.41 1435.52,436.65 1436.64,436.87 1437.76,437.09 1438.88,437.3 1440,437.5 1441.12,437.69 1442.24,437.88 1443.36,438.06 1444.48,438.24 1445.6,438.42 1446.72,438.59 1447.83,438.76 1448.95,438.93 1450.07,439.1 1451.19,439.26 1452.31,439.43 1453.43,439.6 1454.55,439.76 1455.67,439.92 1456.79,440.07 1457.91,440.22 1459.03,440.36 1460.15,440.49 1461.27,440.62 1462.39,440.73 1463.51,440.84 1464.63,440.94 1465.75,441.04 1466.87,441.14 1467.99,441.23 1469.11,441.32 1470.22,441.41 1471.34,441.49 1472.46,441.57 1473.58,441.65 1474.7,441.73 1475.82,441.8 1476.94,441.87 1478.06,441.94 1479.18,442 1480.3,442.06 1481.42,442.12 1482.54,442.18 1483.66,442.24 1484.78,442.3 1485.9,442.36 1487.02,442.42 1488.14,442.48 1489.26,442.54 1490.38,442.59 1491.5,442.65 1492.61,442.7 1493.73,442.76 1494.85,442.81 1495.97,442.86 1497.09,442.92 1498.21,442.97 1499.33,443.02 1500.45,443.07 1501.57,443.12 1502.69,443.16 1503.81,443.21 1504.93,443.26 1506.05,443.3 1507.17,443.34 1508.29,443.39 1509.41,443.43 1510.53,443.47 1511.65,443.51 1512.77,443.54 1513.89,443.58 1515,443.61 1516.12,443.65 1517.24,443.68 1518.36,443.71 1519.48,443.74 1520.6,443.77 1521.72,443.8 1522.84,443.82 1523.96,443.85 1525.08,443.87 1526.2,443.89 1527.32,443.91 1528.44,443.93 1529.56,443.95 1530.68,443.97 1531.8,443.99 1532.92,444.01 1534.04,444.03 1535.16,444.05 1536.28,444.06 1537.39,444.08 1538.51,444.1 1539.63,444.11 1540.75,444.13 1541.87,444.14 1542.99,444.16 1544.11,444.17 1545.23,444.19 1546.35,444.2 1547.47,444.22 1548.59,444.23 1549.71,444.24 1550.83,444.25 1551.95,444.27 1553.07,444.28 1554.19,444.29 1555.31,444.3 1556.43,444.32 1557.55,444.33 1558.66,444.34 1559.78,444.35 1560.9,444.36 1562.02,444.37 1563.14,444.38 1564.26,444.39 1565.38,444.4 1566.5,444.41 1567.62,444.42 1568.74,444.43 1569.86,444.44 1570.98,444.45 1572.1,444.46 1573.22,444.47 1574.34,444.48 1575.46,444.49 1576.58,444.49 1577.7,444.5 1578.82,444.51 1579.94,444.52 1581.06,444.53 1582.17,444.54 1583.29,444.54 1584.41,444.55 1585.53,444.56 1586.65,444.57 1587.77,444.58 1588.89,444.58 1590.01,444.59 1591.13,444.6 1592.25,444.61 1593.37,444.61 1594.49,444.62 1595.61,444.63 1596.73,444.63 1597.85,444.64 1598.97,444.65 1600.09,444.65 1601.21,444.66 1602.33,444.66 1603.45,444.67 1604.56,444.68 1605.68,444.68 1606.8,444.69 1607.92,444.69 1609.04,444.7 1610.16,444.7 1611.28,444.71 1612.4,444.71 1613.52,444.72 1614.64,444.72 1615.76,444.73 1616.88,444.73 1618,444.74 1619.12,444.74 1620.24,444.75 1621.36,444.75 1622.48,444.76 1623.6,444.76 1624.72,444.77 1625.84,444.77 1626.95,444.78 1628.07,444.78 1629.19,444.79 1630.31,444.79 1631.43,444.8 1632.55,444.8 1633.67,444.81 1634.79,444.81 1635.91,444.82 1637.03,444.82 1638.15,444.82 1639.27,444.83 1640.39,444.83 1641.51,444.84 1642.63,444.84 1643.75,444.85 1644.87,444.85 1645.99,444.86 1647.11,444.86 1648.23,444.86 1649.34,444.87 1650.46,444.87 1651.58,444.88 1652.7,444.88 1653.82,444.89 1654.94,444.89 1656.06,444.89 1657.18,444.9 1658.3,444.9 1659.42,444.9 1660.54,444.91 1661.66,444.91 1662.78,444.92 1663.9,444.92 1665.02,444.92 1666.14,444.93 1667.26,444.93 1668.38,444.93 1669.5,444.94 1670.62,444.94 1671.73,444.94 1672.85,444.95 1673.97,444.95 1675.09,444.95 1676.21,444.96 1677.33,444.96 1678.45,444.96 1679.57,444.96 1680.69,444.97 1681.81,444.97 1682.93,444.97 1684.05,444.98 1685.17,444.98 1686.29,444.98 1687.41,444.98 1688.53,444.99 1689.65,444.99 1690.77,444.99 1691.89,444.99 1693.01,444.99 1694.12,445 1695.24,445 1696.36,445 1697.48,445 1698.6,445 1699.72,445 1700.84,445.01 1701.96,445.01 1703.08,445.01 1704.2,445.01" fill="none" stroke="#008000" stroke-width="1.6" stroke-linejoin="round"/>
<g fill="#008000" stroke="#000" stroke-width="0.9"><circle cx="1035.83" cy="441.64" r="3.1"/><circle cx="1042.48" cy="441.27" r="3.1"/><circle cx="1049.13" cy="440.76" r="3.1"/><circle cx="1055.78" cy="440" r="3.1"/><circle cx="1062.43" cy="438.98" r="3.1"/><circle cx="1069.08" cy="437.89" r="3.1"/><circle cx="1075.73" cy="436.67" r="3.1"/><circle cx="1082.38" cy="435.33" r="3.1"/><circle cx="1089.03" cy="433.8" r="3.1"/><circle cx="1095.68" cy="431.99" r="3.1"/><circle cx="1102.33" cy="429.87" r="3.1"/><circle cx="1108.98" cy="427.42" r="3.1"/><circle cx="1115.63" cy="424.55" r="3.1"/><circle cx="1122.28" cy="421.09" r="3.1"/><circle cx="1128.93" cy="417.06" r="3.1"/><circle cx="1135.58" cy="412.58" r="3.1"/><circle cx="1142.23" cy="407.45" r="3.1"/><circle cx="1148.88" cy="401.42" r="3.1"/><circle cx="1155.53" cy="394.41" r="3.1"/><circle cx="1162.18" cy="386.2" r="3.1"/><circle cx="1168.84" cy="376.74" r="3.1"/><circle cx="1175.49" cy="366" r="3.1"/><circle cx="1182.14" cy="353.6" r="3.1"/><circle cx="1188.79" cy="339.1" r="3.1"/><circle cx="1195.44" cy="322.17" r="3.1"/><circle cx="1202.09" cy="302.26" r="3.1"/><circle cx="1208.74" cy="279.09" r="3.1"/><circle cx="1215.39" cy="252.26" r="3.1"/><circle cx="1222.04" cy="221.49" r="3.1"/><circle cx="1228.69" cy="185.21" r="3.1"/><circle cx="1235.34" cy="143.75" r="3.1"/><circle cx="1241.99" cy="96.49" r="3.1"/><circle cx="1248.64" cy="48.58" r="3.1"/><circle cx="1255.29" cy="16.33" r="3.1"/><circle cx="1261.94" cy="33.98" r="3.1"/><circle cx="1268.59" cy="84.54" r="3.1"/><circle cx="1275.24" cy="130.06" r="3.1"/><circle cx="1281.89" cy="174.06" r="3.1"/><circle cx="1288.54" cy="211.89" r="3.1"/><circle cx="1295.19" cy="243.95" r="3.1"/><circle cx="1301.85" cy="270.64" r="3.1"/><circle cx="1308.5" cy="294.5" r="3.1"/><circle cx="1315.15" cy="315.52" r="3.1"/><circle cx="1321.8" cy="333.78" r="3.1"/><circle cx="1328.45" cy="349.29" r="3.1"/><circle cx="1335.1" cy="362.39" r="3.1"/><circle cx="1341.75" cy="373.67" r="3.1"/><circle cx="1348.4" cy="383.6" r="3.1"/><circle cx="1355.05" cy="392.13" r="3.1"/><circle cx="1361.7" cy="399.22" r="3.1"/><circle cx="1368.35" cy="405.37" r="3.1"/><circle cx="1375" cy="410.92" r="3.1"/><circle cx="1381.65" cy="415.74" r="3.1"/><circle cx="1388.3" cy="419.84" r="3.1"/><circle cx="1394.95" cy="423.31" r="3.1"/><circle cx="1401.6" cy="426.15" r="3.1"/><circle cx="1408.25" cy="428.61" r="3.1"/><circle cx="1414.9" cy="430.9" r="3.1"/><circle cx="1421.55" cy="432.97" r="3.1"/><circle cx="1428.2" cy="434.87" r="3.1"/><circle cx="1434.85" cy="436.51" r="3.1"/><circle cx="1441.51" cy="437.76" r="3.1"/><circle cx="1448.16" cy="438.81" r="3.1"/><circle cx="1454.81" cy="439.8" r="3.1"/><circle cx="1461.46" cy="440.64" r="3.1"/><circle cx="1468.11" cy="441.24" r="3.1"/><circle cx="1474.76" cy="441.73" r="3.1"/><circle cx="1481.41" cy="442.12" r="3.1"/><circle cx="1488.06" cy="442.48" r="3.1"/><circle cx="1494.71" cy="442.8" r="3.1"/><circle cx="1501.36" cy="443.11" r="3.1"/><circle cx="1508.01" cy="443.38" r="3.1"/><circle cx="1514.66" cy="443.6" r="3.1"/><circle cx="1521.31" cy="443.79" r="3.1"/><circle cx="1527.96" cy="443.92" r="3.1"/><circle cx="1534.61" cy="444.04" r="3.1"/><circle cx="1541.26" cy="444.13" r="3.1"/><circle cx="1547.91" cy="444.22" r="3.1"/><circle cx="1554.56" cy="444.3" r="3.1"/><circle cx="1561.21" cy="444.36" r="3.1"/><circle cx="1567.86" cy="444.42" r="3.1"/><circle cx="1574.52" cy="444.48" r="3.1"/><circle cx="1581.17" cy="444.53" r="3.1"/><circle cx="1587.82" cy="444.58" r="3.1"/><circle cx="1594.47" cy="444.62" r="3.1"/><circle cx="1601.12" cy="444.66" r="3.1"/><circle cx="1607.77" cy="444.69" r="3.1"/><circle cx="1614.42" cy="444.72" r="3.1"/><circle cx="1621.07" cy="444.75" r="3.1"/><circle cx="1627.72" cy="444.78" r="3.1"/><circle cx="1634.37" cy="444.81" r="3.1"/><circle cx="1641.02" cy="444.84" r="3.1"/><circle cx="1647.67" cy="444.86" r="3.1"/><circle cx="1654.32" cy="444.89" r="3.1"/><circle cx="1660.97" cy="444.91" r="3.1"/><circle cx="1667.62" cy="444.93" r="3.1"/><circle cx="1674.27" cy="444.95" r="3.1"/><circle cx="1680.92" cy="444.97" r="3.1"/><circle cx="1687.57" cy="444.98" r="3.1"/><circle cx="1694.22" cy="445" r="3.1"/><circle cx="1700.87" cy="445.01" r="3.1"/></g>
</g>
<text class="tk" x="1122.06" y="483.2" text-anchor="middle">−3</text>
<text class="tk" x="1256.4" y="483.2" text-anchor="middle">0</text>
<text class="tk" x="1390.74" y="483.2" text-anchor="middle">3</text>
<text class="tk" x="1525.08" y="483.2" text-anchor="middle">6</text>
<text class="tk" x="1659.42" y="483.2" text-anchor="middle">9</text>
<text class="tk" x="1001.7" y="452.85" text-anchor="end">0.0</text>
<text class="tk" x="1001.7" y="357.8" text-anchor="end">0.1</text>
<text class="tk" x="1001.7" y="262.75" text-anchor="end">0.2</text>
<text class="tk" x="1001.7" y="167.7" text-anchor="end">0.3</text>
<text class="tk" x="1001.7" y="72.65" text-anchor="end">0.4</text>
<text class="mt it" x="1367.2" y="516.7" font-size="38" text-anchor="middle">x</text>
<g transform="translate(948.8,352.55) rotate(-90)">
<text class="mt it" x="10.6" y="0" font-size="38" text-anchor="middle">p</text>
<text class="mt it" x="28.2" y="10.5" font-size="26.6" text-anchor="middle">r</text>
<text class="mt " x="41.3" y="0" font-size="41.5" text-anchor="middle">(</text>
<text class="mt it" x="56.9" y="0" font-size="38" text-anchor="middle">x</text>
<text class="mt " x="69.7" y="3.2" font-size="38" text-anchor="middle">,</text>
<text class="mt it" x="90" y="0" font-size="38" text-anchor="middle">t</text>
<text class="mt " x="109.4" y="0" font-size="38" text-anchor="middle">|</text>
<text class="mt it" x="137.2" y="0" font-size="38" text-anchor="middle">x</text>
<text class="mt " x="156" y="10.5" font-size="26.6" text-anchor="middle">0</text>
<text class="mt " x="221.9" y="0" font-size="38" text-anchor="middle">5</text>
<text class="mt " x="237.2" y="0" font-size="41.5" text-anchor="middle">)</text>
<text class="mt" transform="translate(187.5,1.9) scale(1.32,0.88)" font-size="38" text-anchor="middle">=</text>
</g>
<rect x="1553.1" y="15.8" width="147.5" height="88.7" fill="#fff" stroke="#000" stroke-width="1.6"/>
<path d="M1573 26.2L1596.2 49.4M1573 49.4L1596.2 26.2" stroke="#0000ff" stroke-width="1.8" fill="none"/>
<path d="M1572.8 60H1596.4M1584.6 48V72" stroke="#ff0000" stroke-width="1.8" fill="none"/>
<circle cx="1584.6" cy="82.2" r="9.4" fill="#008000" stroke="#000" stroke-width="1.9"/>
<text class="mt it" x="1615" y="44.7" font-size="21">t</text>
<text class="mt" transform="translate(1636.05,49.2) scale(1.5,1.25)" font-size="21" text-anchor="middle">=</text>
<text class="mt" x="1647.5" y="44.7" font-size="21">1.0</text>
<text class="mt it" x="1615" y="66.9" font-size="21">t</text>
<text class="mt" transform="translate(1636.05,71.4) scale(1.5,1.25)" font-size="21" text-anchor="middle">=</text>
<text class="mt" x="1647.5" y="66.9" font-size="21">3.0</text>
<text class="mt it" x="1615" y="89.1" font-size="21">t</text>
<text class="mt" transform="translate(1636.05,93.6) scale(1.5,1.25)" font-size="21" text-anchor="middle">=</text>
<text class="mt" x="1647.5" y="89.1" font-size="21">10.0</text>
<text class="mt" transform="translate(867.3,563.3) scale(0.93,1)" font-size="58">(b)</text>
<clipPath id="clipc"><rect x="113.7" y="594.6" width="710.1" height="455.1"/></clipPath>
<path d="M222.32 593.6V1050.7M356.6 593.6V1050.7M490.88 593.6V1050.7M625.16 593.6V1050.7M759.44 593.6V1050.7" stroke="#000" stroke-opacity="0.07" stroke-width="1.1" fill="none"/>
<path d="M112.7 1037.7H824.8M112.7 896.3H824.8M112.7 754.9H824.8M112.7 613.5H824.8" stroke="#000" stroke-opacity="0.07" stroke-width="1.1" fill="none"/>
<rect x="112.7" y="593.6" width="712.1" height="457.1" fill="none" stroke="#000" stroke-width="2"/>
<path d="M222.32 1050.7V1043.2M356.6 1050.7V1043.2M490.88 1050.7V1043.2M625.16 1050.7V1043.2M759.44 1050.7V1043.2M112.7 1037.7H120.2M112.7 896.3H120.2M112.7 754.9H120.2M112.7 613.5H120.2" stroke="#000" stroke-width="1.5" fill="none"/>
<g clip-path="url(#clipc)">
<polyline points="132.8,1037.69 133.92,1037.69 135.04,1037.69 136.16,1037.69 137.28,1037.69 138.4,1037.69 139.51,1037.69 140.63,1037.68 141.75,1037.68 142.87,1037.68 143.99,1037.68 145.11,1037.68 146.23,1037.68 147.35,1037.68 148.47,1037.68 149.59,1037.68 150.7,1037.68 151.82,1037.68 152.94,1037.68 154.06,1037.68 155.18,1037.68 156.3,1037.68 157.42,1037.68 158.54,1037.68 159.66,1037.67 160.78,1037.67 161.89,1037.67 163.01,1037.67 164.13,1037.67 165.25,1037.67 166.37,1037.67 167.49,1037.67 168.61,1037.67 169.73,1037.66 170.85,1037.66 171.97,1037.66 173.08,1037.66 174.2,1037.66 175.32,1037.66 176.44,1037.66 177.56,1037.65 178.68,1037.65 179.8,1037.65 180.92,1037.65 182.04,1037.65 183.16,1037.65 184.27,1037.64 185.39,1037.64 186.51,1037.64 187.63,1037.64 188.75,1037.64 189.87,1037.63 190.99,1037.63 192.11,1037.63 193.23,1037.63 194.35,1037.63 195.46,1037.62 196.58,1037.62 197.7,1037.62 198.82,1037.62 199.94,1037.61 201.06,1037.61 202.18,1037.61 203.3,1037.61 204.42,1037.6 205.54,1037.6 206.65,1037.6 207.77,1037.6 208.89,1037.59 210.01,1037.59 211.13,1037.59 212.25,1037.59 213.37,1037.58 214.49,1037.58 215.61,1037.58 216.73,1037.57 217.84,1037.57 218.96,1037.57 220.08,1037.56 221.2,1037.56 222.32,1037.56 223.44,1037.56 224.56,1037.55 225.68,1037.55 226.8,1037.54 227.92,1037.54 229.03,1037.53 230.15,1037.52 231.27,1037.52 232.39,1037.51 233.51,1037.5 234.63,1037.49 235.75,1037.48 236.87,1037.47 237.99,1037.46 239.11,1037.45 240.22,1037.43 241.34,1037.42 242.46,1037.41 243.58,1037.39 244.7,1037.37 245.82,1037.36 246.94,1037.34 248.06,1037.32 249.18,1037.3 250.3,1037.28 251.41,1037.26 252.53,1037.24 253.65,1037.21 254.77,1037.19 255.89,1037.16 257.01,1037.14 258.13,1037.11 259.25,1037.08 260.37,1037.05 261.49,1037.02 262.6,1036.99 263.72,1036.96 264.84,1036.92 265.96,1036.89 267.08,1036.85 268.2,1036.8 269.32,1036.72 270.44,1036.61 271.56,1036.48 272.68,1036.33 273.79,1036.17 274.91,1035.99 276.03,1035.81 277.15,1035.63 278.27,1035.44 279.39,1035.26 280.51,1035.08 281.63,1034.88 282.75,1034.67 283.87,1034.46 284.98,1034.23 286.1,1034 287.22,1033.75 288.34,1033.5 289.46,1033.23 290.58,1032.96 291.7,1032.67 292.82,1032.36 293.94,1032.03 295.06,1031.68 296.17,1031.29 297.29,1030.89 298.41,1030.45 299.53,1030 300.65,1029.51 301.77,1028.98 302.89,1028.41 304.01,1027.79 305.13,1027.1 306.25,1026.3 307.36,1025.42 308.48,1024.49 309.6,1023.53 310.72,1022.57 311.84,1021.6 312.96,1020.59 314.08,1019.55 315.2,1018.49 316.32,1017.4 317.44,1016.29 318.55,1015.17 319.67,1014.03 320.79,1012.86 321.91,1011.66 323.03,1010.42 324.15,1009.12 325.27,1007.78 326.39,1006.39 327.51,1004.96 328.62,1003.45 329.74,1001.86 330.86,1000.16 331.98,998.32 333.1,996.3 334.22,994.14 335.34,991.89 336.46,989.58 337.58,987.26 338.7,984.94 339.81,982.58 340.93,980.17 342.05,977.69 343.17,975.14 344.29,972.49 345.41,969.73 346.53,966.86 347.65,963.89 348.77,960.82 349.89,957.69 351,954.49 352.12,951.23 353.24,947.86 354.36,944.41 355.48,940.9 356.6,937.35 357.72,933.78 358.84,930.19 359.96,926.56 361.08,922.88 362.2,919.18 363.31,915.47 364.43,911.75 365.55,908.03 366.67,904.3 367.79,900.55 368.91,896.79 370.03,893.03 371.15,889.27 372.27,885.5 373.39,881.68 374.5,877.85 375.62,874.04 376.74,870.29 377.86,866.62 378.98,863.07 380.1,859.62 381.22,856.23 382.34,852.88 383.46,849.54 384.58,846.19 385.69,842.78 386.81,839.29 387.93,835.78 389.05,832.33 390.17,829.01 391.29,825.88 392.41,822.93 393.53,820.09 394.65,817.35 395.77,814.71 396.88,812.15 398,809.68 399.12,807.27 400.24,804.93 401.36,802.67 402.48,800.48 403.6,798.35 404.72,796.31 405.84,794.32 406.96,792.37 408.07,790.48 409.19,788.67 410.31,786.94 411.43,785.33 412.55,783.82 413.67,782.41 414.79,781.06 415.91,779.77 417.03,778.52 418.15,777.3 419.26,776.09 420.38,774.86 421.5,773.66 422.62,772.5 423.74,771.42 424.86,770.45 425.98,769.6 427.1,768.84 428.22,768.13 429.34,767.48 430.45,766.86 431.57,766.27 432.69,765.7 433.81,765.09 434.93,764.46 436.05,763.84 437.17,763.25 438.29,762.73 439.41,762.3 440.53,761.99 441.64,761.83 442.76,761.75 443.88,761.68 445,761.63 446.12,761.58 447.24,761.56 448.36,761.55 449.48,761.63 450.6,761.86 451.72,762.18 452.83,762.55 453.95,762.92 455.07,763.24 456.19,763.52 457.31,763.77 458.43,764.03 459.55,764.3 460.67,764.6 461.79,764.93 462.91,765.32 464.02,765.76 465.14,766.24 466.26,766.78 467.38,767.37 468.5,768 469.62,768.68 470.74,769.41 471.86,770.19 472.98,771.11 474.1,772.17 475.21,773.34 476.33,774.57 477.45,775.83 478.57,777.06 479.69,778.29 480.81,779.54 481.93,780.82 483.05,782.16 484.17,783.55 485.29,785.02 486.4,786.61 487.52,788.34 488.64,790.16 489.76,792 490.88,793.83 492,795.57 493.12,797.22 494.24,798.82 495.36,800.39 496.48,801.94 497.59,803.49 498.71,805.06 499.83,806.65 500.95,808.23 502.07,809.81 503.19,811.4 504.31,813.01 505.43,814.66 506.55,816.36 507.67,818.13 508.78,819.93 509.9,821.73 511.02,823.51 512.14,825.22 513.26,826.86 514.38,828.45 515.5,830 516.62,831.53 517.74,833.02 518.86,834.49 519.97,835.93 521.09,837.36 522.21,838.78 523.33,840.16 524.45,841.51 525.57,842.8 526.69,844.06 527.81,845.32 528.93,846.58 530.05,847.79 531.16,848.89 532.28,849.86 533.4,850.64 534.52,851.28 535.64,851.83 536.76,852.33 537.88,852.83 539,853.35 540.12,853.96 541.24,854.63 542.35,855.36 543.47,856.12 544.59,856.89 545.71,857.66 546.83,858.43 547.95,859.18 549.07,859.94 550.19,860.7 551.31,861.46 552.42,862.2 553.54,862.93 554.66,863.64 555.78,864.34 556.9,865.04 558.02,865.73 559.14,866.37 560.26,866.98 561.38,867.52 562.5,868.01 563.62,868.46 564.73,868.88 565.85,869.31 566.97,869.75 568.09,870.24 569.21,870.77 570.33,871.32 571.45,871.89 572.57,872.47 573.69,873.05 574.81,873.63 575.92,874.2 577.04,874.75 578.16,875.31 579.28,875.88 580.4,876.47 581.52,877.08 582.64,877.72 583.76,878.38 584.88,879.06 586,879.76 587.11,880.49 588.23,881.26 589.35,882.06 590.47,882.93 591.59,883.85 592.71,884.8 593.83,885.79 594.95,886.78 596.07,887.77 597.18,888.77 598.3,889.78 599.42,890.81 600.54,891.86 601.66,892.93 602.78,894.04 603.9,895.17 605.02,896.33 606.14,897.52 607.26,898.74 608.38,899.99 609.49,901.27 610.61,902.6 611.73,903.98 612.85,905.4 613.97,906.84 615.09,908.29 616.21,909.73 617.33,911.14 618.45,912.53 619.57,913.92 620.68,915.31 621.8,916.73 622.92,918.18 624.04,919.67 625.16,921.23 626.28,922.83 627.4,924.46 628.52,926.09 629.64,927.7 630.75,929.27 631.87,930.81 632.99,932.32 634.11,933.82 635.23,935.33 636.35,936.85 637.47,938.4 638.59,940.01 639.71,941.65 640.83,943.32 641.94,945 643.06,946.67 644.18,948.3 645.3,949.89 646.42,951.45 647.54,952.99 648.66,954.52 649.78,956.05 650.9,957.59 652.02,959.14 653.13,960.71 654.25,962.3 655.37,963.9 656.49,965.48 657.61,967.05 658.73,968.6 659.85,970.11 660.97,971.57 662.09,973 663.21,974.39 664.33,975.77 665.44,977.13 666.56,978.48 667.68,979.85 668.8,981.21 669.92,982.56 671.04,983.91 672.16,985.25 673.28,986.57 674.4,987.88 675.51,989.18 676.63,990.47 677.75,991.74 678.87,993 679.99,994.25 681.11,995.49 682.23,996.73 683.35,997.97 684.47,999.18 685.59,1000.38 686.7,1001.54 687.82,1002.65 688.94,1003.73 690.06,1004.78 691.18,1005.81 692.3,1006.81 693.42,1007.8 694.54,1008.76 695.66,1009.72 696.78,1010.66 697.89,1011.58 699.01,1012.47 700.13,1013.34 701.25,1014.19 702.37,1015 703.49,1015.8 704.61,1016.57 705.73,1017.32 706.85,1018.05 707.97,1018.75 709.09,1019.43 710.2,1020.08 711.32,1020.7 712.44,1021.32 713.56,1021.94 714.68,1022.57 715.8,1023.22 716.92,1023.9 718.04,1024.57 719.16,1025.23 720.28,1025.84 721.39,1026.39 722.51,1026.88 723.63,1027.33 724.75,1027.76 725.87,1028.17 726.99,1028.56 728.11,1028.93 729.23,1029.3 730.35,1029.65 731.47,1029.98 732.58,1030.31 733.7,1030.62 734.82,1030.93 735.94,1031.24 737.06,1031.55 738.18,1031.85 739.3,1032.15 740.42,1032.42 741.54,1032.66 742.65,1032.88 743.77,1033.07 744.89,1033.26 746.01,1033.43 747.13,1033.59 748.25,1033.74 749.37,1033.89 750.49,1034.02 751.61,1034.16 752.73,1034.29 753.85,1034.41 754.96,1034.54 756.08,1034.65 757.2,1034.76 758.32,1034.86 759.44,1034.95 760.56,1035.03 761.68,1035.1 762.8,1035.17 763.92,1035.24 765.04,1035.31 766.15,1035.37 767.27,1035.43 768.39,1035.49 769.51,1035.54 770.63,1035.6 771.75,1035.65 772.87,1035.7 773.99,1035.75 775.11,1035.79 776.23,1035.84 777.34,1035.88 778.46,1035.93 779.58,1035.97 780.7,1036.01 781.82,1036.05 782.94,1036.09 784.06,1036.13 785.18,1036.17 786.3,1036.21 787.41,1036.25 788.53,1036.29 789.65,1036.33 790.77,1036.36 791.89,1036.4 793.01,1036.43 794.13,1036.46 795.25,1036.5 796.37,1036.53 797.49,1036.56 798.61,1036.59 799.72,1036.61 800.84,1036.64 801.96,1036.66 803.08,1036.69 804.2,1036.71" fill="none" stroke="#0000ff" stroke-width="1.8" stroke-linejoin="round"/>
<path d="M130.46 1031.99L141.86 1043.39M130.46 1043.39L141.86 1031.99M137.17 1031.98L148.57 1043.38M137.17 1043.38L148.57 1031.98M143.89 1031.98L155.29 1043.38M143.89 1043.38L155.29 1031.98M150.6 1031.98L162 1043.38M150.6 1043.38L162 1031.98M157.31 1031.97L168.71 1043.37M157.31 1043.37L168.71 1031.97M164.03 1031.96L175.43 1043.36M164.03 1043.36L175.43 1031.96M170.74 1031.96L182.14 1043.36M170.74 1043.36L182.14 1031.96M177.46 1031.95L188.86 1043.35M177.46 1043.35L188.86 1031.95M184.17 1031.93L195.57 1043.33M184.17 1043.33L195.57 1031.93M190.88 1031.92L202.28 1043.32M190.88 1043.32L202.28 1031.92M197.6 1031.91L209 1043.31M197.6 1043.31L209 1031.91M204.31 1031.89L215.71 1043.29M204.31 1043.29L215.71 1031.89M211.03 1031.87L222.43 1043.27M211.03 1043.27L222.43 1031.87M217.74 1031.86L229.14 1043.26M217.74 1043.26L229.14 1031.86M224.45 1031.82L235.85 1043.22M224.45 1043.22L235.85 1031.82M231.17 1031.77L242.57 1043.17M231.17 1043.17L242.57 1031.77M237.88 1031.69L249.28 1043.09M237.88 1043.09L249.28 1031.69M244.6 1031.58L256 1042.98M244.6 1042.98L256 1031.58M251.31 1031.44L262.71 1042.84M251.31 1042.84L262.71 1031.44M258.02 1031.26L269.42 1042.66M258.02 1042.66L269.42 1031.26M264.74 1030.91L276.14 1042.31M264.74 1042.31L276.14 1030.91M271.45 1029.93L282.85 1041.33M271.45 1041.33L282.85 1029.93M278.17 1028.76L289.56 1040.16M278.17 1040.16L289.56 1028.76M284.88 1027.26L296.28 1038.66M284.88 1038.66L296.28 1027.26M291.59 1025.19L302.99 1036.59M291.59 1036.59L302.99 1025.19M298.31 1022.09L309.71 1033.49M298.31 1033.49L309.71 1022.09M305.02 1016.87L316.42 1028.27M305.02 1028.27L316.42 1016.87M311.74 1010.59L323.13 1021.99M311.74 1021.99L323.13 1010.59M318.45 1003.42L329.85 1014.82M318.45 1014.82L329.85 1003.42M325.16 994.46L336.56 1005.86M325.16 1005.86L336.56 994.46M331.88 981.56L343.28 992.96M331.88 992.96L343.28 981.56M338.59 966.79L349.99 978.19M338.59 978.19L349.99 966.79M345.31 948.79L356.7 960.19M345.31 960.19L356.7 948.79M352.02 928.08L363.42 939.48M352.02 939.48L363.42 928.08M358.73 906.05L370.13 917.45M358.73 917.45L370.13 906.05M365.45 883.57L376.85 894.97M365.45 894.97L376.85 883.57M372.16 860.92L383.56 872.32M372.16 872.32L383.56 860.92M378.88 840.49L390.28 851.89M378.88 851.89L390.28 840.49M385.59 820.18L396.99 831.58M385.59 831.58L396.99 820.18M392.3 803.98L403.7 815.38M392.3 815.38L403.7 803.98M399.02 790.61L410.42 802.01M399.02 802.01L410.42 790.61M405.73 779.63L417.13 791.03M405.73 791.03L417.13 779.63M412.45 771.6L423.85 783M412.45 783L423.85 771.6M419.16 764.75L430.56 776.15M419.16 776.15L430.56 764.75M425.87 760.57L437.27 771.97M425.87 771.97L437.27 760.57M432.59 757.03L443.99 768.43M432.59 768.43L443.99 757.03M439.3 755.93L450.7 767.33M439.3 767.33L450.7 755.93M446.02 756.48L457.42 767.88M446.02 767.88L457.42 756.48M452.73 758.33L464.13 769.73M452.73 769.73L464.13 758.33M459.44 760.54L470.84 771.94M459.44 771.94L470.84 760.54M466.16 764.49L477.56 775.89M466.16 775.89L477.56 764.49M472.87 771.36L484.27 782.76M472.87 782.76L484.27 771.36M479.59 779.32L490.99 790.72M479.59 790.72L490.99 779.32M486.3 789.87L497.7 801.27M486.3 801.27L497.7 789.87M493.01 799.36L504.41 810.76M493.01 810.76L504.41 799.36M499.73 808.96L511.13 820.36M499.73 820.36L511.13 808.96M506.44 819.52L517.84 830.92M506.44 830.92L517.84 819.52M513.15 828.79L524.56 840.19M513.15 840.19L524.56 828.79M519.87 837.1L531.27 848.5M519.87 848.5L531.27 837.1M526.58 844.16L537.98 855.56M526.58 855.56L537.98 844.16M533.3 847.65L544.7 859.05M533.3 859.05L544.7 847.65M540.01 851.96L551.41 863.36M540.01 863.36L551.41 851.96M546.72 856.5L558.12 867.9M546.72 867.9L558.12 856.5M553.44 860.67L564.84 872.07M553.44 872.07L564.84 860.67M560.15 863.61L571.55 875.01M560.15 875.01L571.55 863.61M566.87 866.77L578.27 878.17M566.87 878.17L578.27 866.77M573.58 870.18L584.98 881.58M573.58 881.58L584.98 870.18M580.29 874.06L591.7 885.46M580.29 885.46L591.7 874.06M587.01 879.1L598.41 890.5M587.01 890.5L598.41 879.1M593.72 885.11L605.12 896.51M593.72 896.51L605.12 885.11M600.44 891.82L611.84 903.22M600.44 903.22L611.84 891.82M607.15 899.7L618.55 911.1M607.15 911.1L618.55 899.7M613.87 908.22L625.27 919.62M613.87 919.62L625.27 908.22M620.58 917.13L631.98 928.53M620.58 928.53L631.98 917.13M627.29 926.62L638.69 938.02M627.29 938.02L638.69 926.62M634.01 935.95L645.41 947.35M634.01 947.35L645.41 935.95M640.72 945.75L652.12 957.15M640.72 957.15L652.12 945.75M647.43 955.01L658.84 966.41M647.43 966.41L658.84 955.01M654.15 964.41L665.55 975.81M654.15 975.81L665.55 964.41M660.86 972.78L672.26 984.18M660.86 984.18L672.26 972.78M667.58 980.87L678.98 992.27M667.58 992.27L678.98 980.87M674.29 988.55L685.69 999.95M674.29 999.95L685.69 988.55M681 995.84L692.4 1007.24M681 1007.24L692.4 995.84M687.72 1002.1L699.12 1013.5M687.72 1013.5L699.12 1002.1M694.43 1007.64L705.83 1019.04M694.43 1019.04L705.83 1007.64M701.15 1012.35L712.55 1023.75M701.15 1023.75L712.55 1012.35M707.86 1016.24L719.26 1027.64M707.86 1027.64L719.26 1016.24M714.58 1020.14L725.98 1031.54M714.58 1031.54L725.98 1020.14M721.29 1022.86L732.69 1034.26M721.29 1034.26L732.69 1022.86M728 1024.92L739.4 1036.32M728 1036.32L739.4 1024.92M734.72 1026.72L746.12 1038.12M734.72 1038.12L746.12 1026.72M741.43 1027.89L752.83 1039.29M741.43 1039.29L752.83 1027.89M748.14 1028.71L759.55 1040.11M748.14 1040.11L759.55 1028.71M754.86 1029.33L766.26 1040.73M754.86 1040.73L766.26 1029.33M761.57 1029.73L772.97 1041.13M761.57 1041.13L772.97 1029.73M768.29 1030.05L779.69 1041.45M768.29 1041.45L779.69 1030.05M775 1030.31L786.4 1041.71M775 1041.71L786.4 1030.31M781.71 1030.55L793.12 1041.95M781.71 1041.95L793.12 1030.55M788.43 1030.76L799.83 1042.16M788.43 1042.16L799.83 1030.76M795.14 1030.94L806.54 1042.34M795.14 1042.34L806.54 1030.94" stroke="#0000ff" stroke-width="1.4" fill="none"/>
<polyline points="132.8,1036.99 133.92,1036.98 135.04,1036.96 136.16,1036.94 137.28,1036.92 138.4,1036.9 139.51,1036.87 140.63,1036.84 141.75,1036.81 142.87,1036.77 143.99,1036.74 145.11,1036.7 146.23,1036.66 147.35,1036.62 148.47,1036.57 149.59,1036.53 150.7,1036.48 151.82,1036.44 152.94,1036.39 154.06,1036.34 155.18,1036.29 156.3,1036.24 157.42,1036.19 158.54,1036.13 159.66,1036.08 160.78,1036.02 161.89,1035.95 163.01,1035.88 164.13,1035.8 165.25,1035.72 166.37,1035.64 167.49,1035.56 168.61,1035.47 169.73,1035.38 170.85,1035.3 171.97,1035.21 173.08,1035.12 174.2,1035.02 175.32,1034.92 176.44,1034.82 177.56,1034.72 178.68,1034.61 179.8,1034.5 180.92,1034.38 182.04,1034.26 183.16,1034.14 184.27,1034.01 185.39,1033.87 186.51,1033.73 187.63,1033.58 188.75,1033.43 189.87,1033.27 190.99,1033.11 192.11,1032.94 193.23,1032.76 194.35,1032.58 195.46,1032.39 196.58,1032.2 197.7,1031.99 198.82,1031.77 199.94,1031.54 201.06,1031.31 202.18,1031.07 203.3,1030.83 204.42,1030.59 205.54,1030.34 206.65,1030.09 207.77,1029.84 208.89,1029.57 210.01,1029.3 211.13,1029.02 212.25,1028.71 213.37,1028.39 214.49,1028.05 215.61,1027.69 216.73,1027.31 217.84,1026.91 218.96,1026.5 220.08,1026.07 221.2,1025.63 222.32,1025.16 223.44,1024.67 224.56,1024.16 225.68,1023.65 226.8,1023.14 227.92,1022.62 229.03,1022.09 230.15,1021.56 231.27,1021.01 232.39,1020.44 233.51,1019.85 234.63,1019.22 235.75,1018.58 236.87,1017.9 237.99,1017.2 239.11,1016.47 240.22,1015.71 241.34,1014.91 242.46,1014.08 243.58,1013.21 244.7,1012.29 245.82,1011.34 246.94,1010.36 248.06,1009.34 249.18,1008.29 250.3,1007.18 251.41,1006.02 252.53,1004.83 253.65,1003.61 254.77,1002.39 255.89,1001.16 257.01,999.91 258.13,998.64 259.25,997.34 260.37,995.99 261.49,994.58 262.6,993.1 263.72,991.55 264.84,989.93 265.96,988.26 267.08,986.55 268.2,984.82 269.32,983.06 270.44,981.26 271.56,979.42 272.68,977.54 273.79,975.61 274.91,973.65 276.03,971.62 277.15,969.54 278.27,967.42 279.39,965.25 280.51,963.04 281.63,960.82 282.75,958.58 283.87,956.34 284.98,954.07 286.1,951.75 287.22,949.34 288.34,946.83 289.46,944.18 290.58,941.38 291.7,938.46 292.82,935.43 293.94,932.34 295.06,929.22 296.17,926.1 297.29,922.95 298.41,919.75 299.53,916.47 300.65,913.1 301.77,909.61 302.89,905.94 304.01,902.07 305.13,898.05 306.25,893.95 307.36,889.84 308.48,885.79 309.6,881.84 310.72,877.99 311.84,874.15 312.96,870.27 314.08,866.27 315.2,862.09 316.32,857.66 317.44,852.96 318.55,848.08 319.67,843.06 320.79,838 321.91,832.94 323.03,827.91 324.15,822.81 325.27,817.66 326.39,812.5 327.51,807.39 328.62,802.35 329.74,797.43 330.86,792.58 331.98,787.77 333.1,782.97 334.22,778.12 335.34,773.19 336.46,768.13 337.58,762.95 338.7,757.7 339.81,752.43 340.93,747.19 342.05,742.05 343.17,737 344.29,731.94 345.41,726.92 346.53,721.99 347.65,717.18 348.77,712.54 349.89,708.06 351,703.67 352.12,699.39 353.24,695.25 354.36,691.26 355.48,687.47 356.6,683.8 357.72,680.17 358.84,676.68 359.96,673.4 361.08,670.44 362.2,667.88 363.31,665.46 364.43,663.13 365.55,661.03 366.67,659.27 367.79,657.98 368.91,657.16 370.03,656.44 371.15,655.81 372.27,655.29 373.39,654.9 374.5,654.68 375.62,654.67 376.74,654.9 377.86,655.34 378.98,655.94 380.1,656.65 381.22,657.42 382.34,658.2 383.46,659.15 384.58,660.32 385.69,661.66 386.81,663.13 387.93,664.69 389.05,666.28 390.17,668 391.29,669.86 392.41,671.87 393.53,674 394.65,676.25 395.77,678.61 396.88,681.2 398,684.01 399.12,686.96 400.24,689.96 401.36,692.93 402.48,695.82 403.6,698.68 404.72,701.54 405.84,704.43 406.96,707.37 408.07,710.4 409.19,713.55 410.31,716.88 411.43,720.38 412.55,723.94 413.67,727.49 414.79,730.94 415.91,734.23 417.03,737.42 418.15,740.53 419.26,743.62 420.38,746.72 421.5,749.86 422.62,753.09 423.74,756.37 424.86,759.7 425.98,763.05 427.1,766.42 428.22,769.81 429.34,773.2 430.45,776.63 431.57,780.09 432.69,783.55 433.81,786.99 434.93,790.39 436.05,793.79 437.17,797.21 438.29,800.61 439.41,803.96 440.53,807.21 441.64,810.33 442.76,813.3 443.88,816.16 445,818.95 446.12,821.68 447.24,824.41 448.36,827.16 449.48,829.93 450.6,832.7 451.72,835.46 452.83,838.21 453.95,840.92 455.07,843.59 456.19,846.23 457.31,848.83 458.43,851.4 459.55,853.95 460.67,856.47 461.79,858.97 462.91,861.44 464.02,863.88 465.14,866.29 466.26,868.68 467.38,871.06 468.5,873.43 469.62,875.81 470.74,878.18 471.86,880.55 472.98,882.91 474.1,885.25 475.21,887.59 476.33,889.92 477.45,892.26 478.57,894.59 479.69,896.9 480.81,899.17 481.93,901.39 483.05,903.59 484.17,905.77 485.29,907.91 486.4,909.99 487.52,911.99 488.64,913.86 489.76,915.63 490.88,917.31 492,918.95 493.12,920.56 494.24,922.18 495.36,923.83 496.48,925.5 497.59,927.17 498.71,928.83 499.83,930.48 500.95,932.1 502.07,933.7 503.19,935.27 504.31,936.82 505.43,938.35 506.55,939.86 507.67,941.36 508.78,942.85 509.9,944.32 511.02,945.78 512.14,947.22 513.26,948.65 514.38,950.05 515.5,951.44 516.62,952.81 517.74,954.17 518.86,955.51 519.97,956.83 521.09,958.12 522.21,959.36 523.33,960.58 524.45,961.78 525.57,962.95 526.69,964.1 527.81,965.21 528.93,966.3 530.05,967.36 531.16,968.38 532.28,969.36 533.4,970.31 534.52,971.25 535.64,972.16 536.76,973.08 537.88,973.99 539,974.91 540.12,975.83 541.24,976.75 542.35,977.66 543.47,978.54 544.59,979.4 545.71,980.21 546.83,980.99 547.95,981.76 549.07,982.5 550.19,983.23 551.31,983.95 552.42,984.68 553.54,985.38 554.66,986.06 555.78,986.75 556.9,987.47 558.02,988.25 559.14,989.09 560.26,990 561.38,990.95 562.5,991.91 563.62,992.86 564.73,993.77 565.85,994.63 566.97,995.42 568.09,996.11 569.21,996.77 570.33,997.4 571.45,998 572.57,998.58 573.69,999.14 574.81,999.68 575.92,1000.21 577.04,1000.73 578.16,1001.23 579.28,1001.74 580.4,1002.24 581.52,1002.75 582.64,1003.26 583.76,1003.77 584.88,1004.29 586,1004.79 587.11,1005.29 588.23,1005.79 589.35,1006.27 590.47,1006.75 591.59,1007.21 592.71,1007.65 593.83,1008.08 594.95,1008.49 596.07,1008.88 597.18,1009.26 598.3,1009.63 599.42,1009.99 600.54,1010.34 601.66,1010.68 602.78,1011.01 603.9,1011.34 605.02,1011.66 606.14,1011.97 607.26,1012.29 608.38,1012.59 609.49,1012.9 610.61,1013.21 611.73,1013.51 612.85,1013.82 613.97,1014.13 615.09,1014.44 616.21,1014.74 617.33,1015.05 618.45,1015.35 619.57,1015.65 620.68,1015.95 621.8,1016.25 622.92,1016.54 624.04,1016.83 625.16,1017.11 626.28,1017.39 627.4,1017.66 628.52,1017.93 629.64,1018.2 630.75,1018.46 631.87,1018.71 632.99,1018.96 634.11,1019.21 635.23,1019.45 636.35,1019.69 637.47,1019.93 638.59,1020.17 639.71,1020.4 640.83,1020.62 641.94,1020.85 643.06,1021.07 644.18,1021.28 645.3,1021.49 646.42,1021.7 647.54,1021.9 648.66,1022.1 649.78,1022.29 650.9,1022.47 652.02,1022.65 653.13,1022.83 654.25,1023 655.37,1023.16 656.49,1023.33 657.61,1023.49 658.73,1023.64 659.85,1023.8 660.97,1023.95 662.09,1024.11 663.21,1024.27 664.33,1024.42 665.44,1024.58 666.56,1024.74 667.68,1024.91 668.8,1025.08 669.92,1025.25 671.04,1025.42 672.16,1025.6 673.28,1025.77 674.4,1025.95 675.51,1026.13 676.63,1026.31 677.75,1026.49 678.87,1026.67 679.99,1026.84 681.11,1027.02 682.23,1027.19 683.35,1027.35 684.47,1027.52 685.59,1027.68 686.7,1027.83 687.82,1027.98 688.94,1028.13 690.06,1028.28 691.18,1028.42 692.3,1028.57 693.42,1028.71 694.54,1028.85 695.66,1028.98 696.78,1029.12 697.89,1029.25 699.01,1029.39 700.13,1029.52 701.25,1029.65 702.37,1029.78 703.49,1029.91 704.61,1030.04 705.73,1030.17 706.85,1030.3 707.97,1030.43 709.09,1030.56 710.2,1030.69 711.32,1030.82 712.44,1030.95 713.56,1031.07 714.68,1031.2 715.8,1031.32 716.92,1031.44 718.04,1031.56 719.16,1031.67 720.28,1031.78 721.39,1031.89 722.51,1031.99 723.63,1032.08 724.75,1032.17 725.87,1032.26 726.99,1032.34 728.11,1032.42 729.23,1032.5 730.35,1032.58 731.47,1032.65 732.58,1032.73 733.7,1032.8 734.82,1032.87 735.94,1032.94 737.06,1033.02 738.18,1033.09 739.3,1033.16 740.42,1033.24 741.54,1033.32 742.65,1033.4 743.77,1033.48 744.89,1033.56 746.01,1033.65 747.13,1033.74 748.25,1033.83 749.37,1033.91 750.49,1034 751.61,1034.09 752.73,1034.17 753.85,1034.25 754.96,1034.33 756.08,1034.4 757.2,1034.47 758.32,1034.53 759.44,1034.59 760.56,1034.64 761.68,1034.69 762.8,1034.74 763.92,1034.79 765.04,1034.83 766.15,1034.87 767.27,1034.91 768.39,1034.95 769.51,1034.99 770.63,1035.03 771.75,1035.07 772.87,1035.1 773.99,1035.14 775.11,1035.18 776.23,1035.21 777.34,1035.25 778.46,1035.29 779.58,1035.33 780.7,1035.37 781.82,1035.41 782.94,1035.44 784.06,1035.48 785.18,1035.52 786.3,1035.56 787.41,1035.6 788.53,1035.63 789.65,1035.67 790.77,1035.71 791.89,1035.75 793.01,1035.78 794.13,1035.82 795.25,1035.86 796.37,1035.89 797.49,1035.93 798.61,1035.97 799.72,1036 800.84,1036.04 801.96,1036.07 803.08,1036.11 804.2,1036.14" fill="none" stroke="#ff0000" stroke-width="1.8" stroke-linejoin="round"/>
<path d="M130.12 1036.95H142.12M136.12 1030.95V1042.95M136.77 1036.78H148.77M142.77 1030.78V1042.78M143.42 1036.54H155.42M149.42 1030.54V1042.54M150.07 1036.25H162.07M156.07 1030.25V1042.25M156.71 1035.9H168.71M162.71 1029.9V1041.9M163.36 1035.41H175.36M169.36 1029.41V1041.41M170.01 1034.86H182.01M176.01 1028.86V1040.86M176.66 1034.2H188.66M182.66 1028.2V1040.2M183.3 1033.35H195.3M189.3 1027.35V1039.35M189.95 1032.31H201.95M195.95 1026.31V1038.31M196.6 1030.98H208.6M202.6 1024.98V1036.98M203.25 1029.49H215.25M209.25 1023.49V1035.49M209.89 1027.59H221.89M215.89 1021.59V1033.59M216.54 1025.06H228.54M222.54 1019.06V1031.06M223.19 1022.02H235.19M229.19 1016.02V1028.02M229.84 1018.52H241.84M235.84 1012.52V1024.52M236.48 1014.06H248.48M242.48 1008.06V1020.06M243.13 1008.33H255.13M249.13 1002.33V1014.33M249.78 1001.28H261.78M255.78 995.28V1007.28M256.43 993.34H268.43M262.43 987.34V999.34M263.07 983.44H275.07M269.07 977.44V989.44M269.72 972.19H281.72M275.72 966.19V978.19M276.37 959.33H288.37M282.37 953.33V965.33M283.02 945.25H295.02M289.02 939.25V951.25M289.66 927.52H301.66M295.66 921.52V933.52M296.31 907.86H308.31M302.31 901.86V913.86M302.96 884.09H314.96M308.96 878.09V890.09M309.61 860.5H321.61M315.61 854.5V866.5M316.25 831.4H328.25M322.25 825.4V837.4M322.9 801.12H334.9M328.9 795.12V807.12M329.55 772.25H341.55M335.55 766.25V778.25M336.2 741.4H348.2M342.2 735.4V747.4M342.84 712.22H354.84M348.84 706.22V718.22M349.49 687.43H361.49M355.49 681.43V693.43M356.14 668H368.14M362.14 662V674M362.79 657.24H374.79M368.79 651.24V663.24M369.43 654.65H381.43M375.43 648.65V660.65M376.08 658.02H388.08M382.08 652.02V664.02M382.73 665.82H394.73M388.73 659.82V671.82M389.38 677.77H401.38M395.38 671.77V683.77M396.02 694.66H408.02M402.02 688.66V700.66M402.67 712.06H414.67M408.67 706.06V718.06M409.32 732.52H421.32M415.32 726.52V738.52M415.97 751.19H427.97M421.97 745.19V757.19M422.61 771.01H434.61M428.61 765.01V777.01M429.26 791.4H441.26M435.26 785.4V797.4M435.91 811.05H447.91M441.91 805.05V817.05M442.56 827.65H454.56M448.56 821.65V833.65M449.2 843.91H461.2M455.2 837.91V849.91M455.85 859.12H467.85M461.85 853.12V865.12M462.5 873.43H474.5M468.5 867.43V879.43M469.15 887.45H481.15M475.15 881.45V893.45M475.8 901.13H487.8M481.8 895.13V907.13M482.44 913.54H494.44M488.44 907.54V919.54M489.09 923.44H501.09M495.09 917.44V929.44M495.74 933.23H507.74M501.74 927.23V939.23M502.39 942.32H514.39M508.39 936.32V948.32M509.03 950.87H521.03M515.03 944.87V956.87M515.68 958.78H527.68M521.68 952.78V964.78M522.33 965.72H534.33M528.33 959.72V971.72M528.98 971.62H540.98M534.98 965.62V977.62M535.62 977.07H547.62M541.62 971.07V983.07M542.27 981.97H554.27M548.27 975.97V987.97M548.92 986.22H560.92M554.92 980.22V992.22M555.57 991.11H567.57M561.57 985.11V997.11M562.21 996.19H574.21M568.21 990.19V1002.19M568.86 999.71H580.86M574.86 993.71V1005.71M575.51 1002.75H587.51M581.51 996.75V1008.75M582.16 1005.76H594.16M588.16 999.76V1011.76M588.8 1008.44H600.8M594.8 1002.44V1014.44M595.45 1010.61H607.45M601.45 1004.61V1016.61M602.1 1012.52H614.1M608.1 1006.52V1018.52M608.75 1014.34H620.75M614.75 1008.34V1020.34M615.39 1016.14H627.39M621.39 1010.14V1022.14M622.04 1017.82H634.04M628.04 1011.82V1023.82M628.69 1019.33H640.69M634.69 1013.33V1025.33M635.34 1020.73H647.34M641.34 1014.73V1026.73M641.98 1021.98H653.98M647.98 1015.98V1027.98M648.63 1023.05H660.63M654.63 1017.05V1029.05M655.28 1024H667.28M661.28 1018V1030M661.93 1024.94H673.93M667.93 1018.94V1030.94M668.57 1025.98H680.57M674.57 1019.98V1031.98M675.22 1027.03H687.22M681.22 1021.03V1033.03M681.87 1027.99H693.87M687.87 1021.99V1033.99M688.52 1028.84H700.52M694.52 1022.84V1034.84M695.16 1029.64H707.16M701.16 1023.64V1035.64M701.81 1030.41H713.81M707.81 1024.41V1036.41M708.46 1031.17H720.46M714.46 1025.17V1037.17M715.11 1031.86H727.11M721.11 1025.86V1037.86M721.75 1032.4H733.75M727.75 1026.4V1038.4M728.4 1032.85H740.4M734.4 1026.85V1038.85M735.05 1033.28H747.05M741.05 1027.28V1039.28M741.7 1033.78H753.7M747.7 1027.78V1039.78M748.34 1034.28H760.34M754.34 1028.28V1040.28M754.99 1034.66H766.99M760.99 1028.66V1040.66M761.64 1034.93H773.64M767.64 1028.93V1040.93M768.29 1035.15H780.29M774.29 1029.15V1041.15M774.93 1035.37H786.93M780.93 1029.37V1041.37M781.58 1035.6H793.58M787.58 1029.6V1041.6M788.23 1035.82H800.23M794.23 1029.82V1041.82M794.88 1036.04H806.88M800.88 1030.04V1042.04" stroke="#ff0000" stroke-width="1.4" fill="none"/>
<polyline points="132.8,1031.48 133.92,1031.34 135.04,1031.19 136.16,1031.02 137.28,1030.83 138.4,1030.61 139.51,1030.39 140.63,1030.16 141.75,1029.95 142.87,1029.74 143.99,1029.56 145.11,1029.39 146.23,1029.22 147.35,1029.05 148.47,1028.86 149.59,1028.65 150.7,1028.4 151.82,1028.13 152.94,1027.82 154.06,1027.51 155.18,1027.2 156.3,1026.89 157.42,1026.6 158.54,1026.3 159.66,1026 160.78,1025.69 161.89,1025.37 163.01,1025.05 164.13,1024.71 165.25,1024.37 166.37,1024.02 167.49,1023.66 168.61,1023.29 169.73,1022.92 170.85,1022.54 171.97,1022.14 173.08,1021.74 174.2,1021.33 175.32,1020.92 176.44,1020.51 177.56,1020.1 178.68,1019.69 179.8,1019.28 180.92,1018.86 182.04,1018.42 183.16,1017.95 184.27,1017.46 185.39,1016.96 186.51,1016.43 187.63,1015.87 188.75,1015.3 189.87,1014.68 190.99,1014.01 192.11,1013.29 193.23,1012.55 194.35,1011.81 195.46,1011.1 196.58,1010.45 197.7,1009.84 198.82,1009.26 199.94,1008.68 201.06,1008.08 202.18,1007.43 203.3,1006.73 204.42,1005.94 205.54,1005.08 206.65,1004.18 207.77,1003.24 208.89,1002.3 210.01,1001.36 211.13,1000.41 212.25,999.44 213.37,998.44 214.49,997.43 215.61,996.4 216.73,995.36 217.84,994.29 218.96,993.19 220.08,992.08 221.2,990.95 222.32,989.81 223.44,988.64 224.56,987.46 225.68,986.26 226.8,985.04 227.92,983.79 229.03,982.51 230.15,981.2 231.27,979.86 232.39,978.49 233.51,977.08 234.63,975.63 235.75,974.12 236.87,972.55 237.99,970.91 239.11,969.19 240.22,967.43 241.34,965.64 242.46,963.83 243.58,962.01 244.7,960.15 245.82,958.27 246.94,956.36 248.06,954.41 249.18,952.44 250.3,950.44 251.41,948.41 252.53,946.36 253.65,944.25 254.77,942.09 255.89,939.85 257.01,937.53 258.13,935.11 259.25,932.63 260.37,930.09 261.49,927.49 262.6,924.86 263.72,922.18 264.84,919.44 265.96,916.64 267.08,913.79 268.2,910.89 269.32,907.97 270.44,905.01 271.56,902.02 272.68,898.98 273.79,895.87 274.91,892.69 276.03,889.41 277.15,886.02 278.27,882.51 279.39,878.92 280.51,875.29 281.63,871.63 282.75,867.97 283.87,864.33 284.98,860.66 286.1,856.96 287.22,853.19 288.34,849.32 289.46,845.35 290.58,841.26 291.7,837.07 292.82,832.8 293.94,828.45 295.06,824.03 296.17,819.55 297.29,814.93 298.41,810.19 299.53,805.41 300.65,800.64 301.77,795.93 302.89,791.35 304.01,786.88 305.13,782.46 306.25,778.03 307.36,773.54 308.48,768.93 309.6,764.12 310.72,759.07 311.84,753.85 312.96,748.57 314.08,743.31 315.2,738.18 316.32,733.24 317.44,728.45 318.55,723.75 319.67,719.08 320.79,714.39 321.91,709.61 323.03,704.69 324.15,699.59 325.27,694.38 326.39,689.15 327.51,683.99 328.62,678.98 329.74,674.17 330.86,669.42 331.98,664.75 333.1,660.21 334.22,655.84 335.34,651.68 336.46,647.75 337.58,643.96 338.7,640.32 339.81,636.82 340.93,633.47 342.05,630.28 343.17,627.22 344.29,624.14 345.41,621.14 346.53,618.34 347.65,615.87 348.77,613.84 349.89,612.16 351,610.49 352.12,608.96 353.24,607.69 354.36,606.81 355.48,606.43 356.6,606.5 357.72,606.74 358.84,607.12 359.96,607.62 361.08,608.2 362.2,608.83 363.31,609.73 364.43,611.07 365.55,612.75 366.67,614.71 367.79,616.86 368.91,619.12 370.03,621.6 371.15,624.57 372.27,627.93 373.39,631.55 374.5,635.31 375.62,639.08 376.74,642.9 377.86,646.91 378.98,651.08 380.1,655.36 381.22,659.7 382.34,664.08 383.46,668.53 384.58,673.09 385.69,677.72 386.81,682.4 387.93,687.09 389.05,691.78 390.17,696.47 391.29,701.16 392.41,705.89 393.53,710.66 394.65,715.48 395.77,720.37 396.88,725.38 398,730.5 399.12,735.68 400.24,740.85 401.36,745.95 402.48,750.94 403.6,755.83 404.72,760.67 405.84,765.46 406.96,770.21 408.07,774.91 409.19,779.59 410.31,784.23 411.43,788.85 412.55,793.43 413.67,797.95 414.79,802.42 415.91,806.82 417.03,811.13 418.15,815.37 419.26,819.56 420.38,823.73 421.5,827.9 422.62,832.1 423.74,836.4 424.86,840.78 425.98,845.16 427.1,849.43 428.22,853.53 429.34,857.36 430.45,860.97 431.57,864.42 432.69,867.76 433.81,871.07 434.93,874.38 436.05,877.75 437.17,881.2 438.29,884.69 439.41,888.15 440.53,891.55 441.64,894.83 442.76,897.95 443.88,900.93 445,903.81 446.12,906.62 447.24,909.4 448.36,912.16 449.48,914.96 450.6,917.82 451.72,920.7 452.83,923.54 453.95,926.29 455.07,928.89 456.19,931.32 457.31,933.61 458.43,935.82 459.55,937.97 460.67,940.1 461.79,942.24 462.91,944.42 464.02,946.64 465.14,948.86 466.26,951.05 467.38,953.17 468.5,955.2 469.62,957.1 470.74,958.91 471.86,960.64 472.98,962.33 474.1,963.99 475.21,965.63 476.33,967.29 477.45,968.94 478.57,970.57 479.69,972.17 480.81,973.72 481.93,975.2 483.05,976.61 484.17,977.97 485.29,979.29 486.4,980.58 487.52,981.86 488.64,983.14 489.76,984.44 490.88,985.76 492,987.06 493.12,988.34 494.24,989.58 495.36,990.76 496.48,991.87 497.59,992.95 498.71,993.99 499.83,995.01 500.95,996 502.07,996.98 503.19,997.93 504.31,998.86 505.43,999.77 506.55,1000.67 507.67,1001.56 508.78,1002.45 509.9,1003.36 511.02,1004.29 512.14,1005.22 513.26,1006.11 514.38,1006.96 515.5,1007.73 516.62,1008.43 517.74,1009.08 518.86,1009.7 519.97,1010.31 521.09,1010.92 522.21,1011.54 523.33,1012.19 524.45,1012.86 525.57,1013.53 526.69,1014.19 527.81,1014.8 528.93,1015.36 530.05,1015.86 531.16,1016.32 532.28,1016.76 533.4,1017.18 534.52,1017.61 535.64,1018.05 536.76,1018.5 537.88,1018.96 539,1019.43 540.12,1019.88 541.24,1020.32 542.35,1020.73 543.47,1021.12 544.59,1021.48 545.71,1021.83 546.83,1022.18 547.95,1022.51 549.07,1022.85 550.19,1023.19 551.31,1023.52 552.42,1023.84 553.54,1024.17 554.66,1024.5 555.78,1024.83 556.9,1025.19 558.02,1025.56 559.14,1025.93 560.26,1026.28 561.38,1026.61 562.5,1026.91 563.62,1027.18 564.73,1027.45 565.85,1027.7 566.97,1027.94 568.09,1028.18 569.21,1028.41 570.33,1028.64 571.45,1028.86 572.57,1029.07 573.69,1029.27 574.81,1029.46 575.92,1029.64 577.04,1029.8 578.16,1029.95 579.28,1030.1 580.4,1030.25 581.52,1030.4 582.64,1030.55 583.76,1030.7 584.88,1030.86 586,1031.01 587.11,1031.16 588.23,1031.31 589.35,1031.45 590.47,1031.6 591.59,1031.75 592.71,1031.89 593.83,1032.03 594.95,1032.16 596.07,1032.29 597.18,1032.41 598.3,1032.53 599.42,1032.65 600.54,1032.77 601.66,1032.89 602.78,1033 603.9,1033.11 605.02,1033.22 606.14,1033.33 607.26,1033.44 608.38,1033.55 609.49,1033.65 610.61,1033.75 611.73,1033.85 612.85,1033.95 613.97,1034.05 615.09,1034.15 616.21,1034.24 617.33,1034.34 618.45,1034.43 619.57,1034.52 620.68,1034.61 621.8,1034.7 622.92,1034.79 624.04,1034.87 625.16,1034.95 626.28,1035.03 627.4,1035.1 628.52,1035.17 629.64,1035.23 630.75,1035.3 631.87,1035.36 632.99,1035.42 634.11,1035.47 635.23,1035.53 636.35,1035.58 637.47,1035.63 638.59,1035.68 639.71,1035.73 640.83,1035.78 641.94,1035.82 643.06,1035.86 644.18,1035.9 645.3,1035.94 646.42,1035.98 647.54,1036.02 648.66,1036.06 649.78,1036.1 650.9,1036.13 652.02,1036.17 653.13,1036.21 654.25,1036.24 655.37,1036.28 656.49,1036.31 657.61,1036.35 658.73,1036.38 659.85,1036.41 660.97,1036.45 662.09,1036.48 663.21,1036.51 664.33,1036.54 665.44,1036.57 666.56,1036.59 667.68,1036.62 668.8,1036.65 669.92,1036.67 671.04,1036.7 672.16,1036.72 673.28,1036.75 674.4,1036.77 675.51,1036.79 676.63,1036.81 677.75,1036.83 678.87,1036.85 679.99,1036.87 681.11,1036.89 682.23,1036.91 683.35,1036.92 684.47,1036.94 685.59,1036.96 686.7,1036.98 687.82,1036.99 688.94,1037.01 690.06,1037.03 691.18,1037.04 692.3,1037.06 693.42,1037.08 694.54,1037.09 695.66,1037.11 696.78,1037.12 697.89,1037.14 699.01,1037.15 700.13,1037.17 701.25,1037.18 702.37,1037.19 703.49,1037.21 704.61,1037.22 705.73,1037.23 706.85,1037.25 707.97,1037.26 709.09,1037.27 710.2,1037.28 711.32,1037.29 712.44,1037.3 713.56,1037.31 714.68,1037.32 715.8,1037.33 716.92,1037.34 718.04,1037.35 719.16,1037.36 720.28,1037.37 721.39,1037.38 722.51,1037.39 723.63,1037.39 724.75,1037.4 725.87,1037.41 726.99,1037.41 728.11,1037.42 729.23,1037.42 730.35,1037.43 731.47,1037.43 732.58,1037.44 733.7,1037.44 734.82,1037.45 735.94,1037.45 737.06,1037.46 738.18,1037.46 739.3,1037.47 740.42,1037.47 741.54,1037.48 742.65,1037.48 743.77,1037.49 744.89,1037.49 746.01,1037.5 747.13,1037.5 748.25,1037.5 749.37,1037.51 750.49,1037.51 751.61,1037.52 752.73,1037.52 753.85,1037.53 754.96,1037.53 756.08,1037.53 757.2,1037.54 758.32,1037.54 759.44,1037.55 760.56,1037.55 761.68,1037.55 762.8,1037.56 763.92,1037.56 765.04,1037.56 766.15,1037.57 767.27,1037.57 768.39,1037.57 769.51,1037.58 770.63,1037.58 771.75,1037.58 772.87,1037.59 773.99,1037.59 775.11,1037.59 776.23,1037.59 777.34,1037.6 778.46,1037.6 779.58,1037.6 780.7,1037.6 781.82,1037.61 782.94,1037.61 784.06,1037.61 785.18,1037.61 786.3,1037.61 787.41,1037.62 788.53,1037.62 789.65,1037.62 790.77,1037.62 791.89,1037.62 793.01,1037.62 794.13,1037.62 795.25,1037.63 796.37,1037.63 797.49,1037.63 798.61,1037.63 799.72,1037.63 800.84,1037.63 801.96,1037.63 803.08,1037.63 804.2,1037.63" fill="none" stroke="#008000" stroke-width="1.6" stroke-linejoin="round"/>
<g fill="#008000" stroke="#000" stroke-width="0.9"><circle cx="136.12" cy="1031.02" r="3.1"/><circle cx="142.77" cy="1029.76" r="3.1"/><circle cx="149.42" cy="1028.68" r="3.1"/><circle cx="156.07" cy="1026.96" r="3.1"/><circle cx="162.71" cy="1025.14" r="3.1"/><circle cx="169.36" cy="1023.04" r="3.1"/><circle cx="176.01" cy="1020.67" r="3.1"/><circle cx="182.66" cy="1018.16" r="3.1"/><circle cx="189.3" cy="1015" r="3.1"/><circle cx="195.95" cy="1010.81" r="3.1"/><circle cx="202.6" cy="1007.18" r="3.1"/><circle cx="209.25" cy="1002" r="3.1"/><circle cx="215.89" cy="996.14" r="3.1"/><circle cx="222.54" cy="989.58" r="3.1"/><circle cx="229.19" cy="982.33" r="3.1"/><circle cx="235.84" cy="974" r="3.1"/><circle cx="242.48" cy="963.79" r="3.1"/><circle cx="249.13" cy="952.51" r="3.1"/><circle cx="255.78" cy="940.08" r="3.1"/><circle cx="262.43" cy="925.28" r="3.1"/><circle cx="269.07" cy="908.61" r="3.1"/><circle cx="275.72" cy="890.33" r="3.1"/><circle cx="282.37" cy="869.2" r="3.1"/><circle cx="289.02" cy="846.94" r="3.1"/><circle cx="295.66" cy="821.61" r="3.1"/><circle cx="302.31" cy="793.69" r="3.1"/><circle cx="308.96" cy="766.91" r="3.1"/><circle cx="315.61" cy="736.35" r="3.1"/><circle cx="322.25" cy="708.12" r="3.1"/><circle cx="328.9" cy="677.77" r="3.1"/><circle cx="335.55" cy="650.93" r="3.1"/><circle cx="342.2" cy="629.88" r="3.1"/><circle cx="348.84" cy="613.72" r="3.1"/><circle cx="355.49" cy="606.43" r="3.1"/><circle cx="362.14" cy="608.8" r="3.1"/><circle cx="368.79" cy="618.87" r="3.1"/><circle cx="375.43" cy="638.45" r="3.1"/><circle cx="382.08" cy="663.08" r="3.1"/><circle cx="388.73" cy="690.44" r="3.1"/><circle cx="395.38" cy="718.66" r="3.1"/><circle cx="402.02" cy="748.93" r="3.1"/><circle cx="408.67" cy="777.42" r="3.1"/><circle cx="415.32" cy="804.52" r="3.1"/><circle cx="421.97" cy="829.64" r="3.1"/><circle cx="428.61" cy="854.93" r="3.1"/><circle cx="435.26" cy="875.37" r="3.1"/><circle cx="441.91" cy="895.59" r="3.1"/><circle cx="448.56" cy="912.66" r="3.1"/><circle cx="455.2" cy="929.19" r="3.1"/><circle cx="461.85" cy="942.36" r="3.1"/><circle cx="468.5" cy="955.2" r="3.1"/><circle cx="475.15" cy="965.54" r="3.1"/><circle cx="481.8" cy="975.03" r="3.1"/><circle cx="488.44" cy="982.91" r="3.1"/><circle cx="495.09" cy="990.48" r="3.1"/><circle cx="501.74" cy="996.69" r="3.1"/><circle cx="508.39" cy="1002.13" r="3.1"/><circle cx="515.03" cy="1007.42" r="3.1"/><circle cx="521.68" cy="1011.24" r="3.1"/><circle cx="528.33" cy="1015.07" r="3.1"/><circle cx="534.98" cy="1017.78" r="3.1"/><circle cx="541.62" cy="1020.47" r="3.1"/><circle cx="548.27" cy="1022.61" r="3.1"/><circle cx="554.92" cy="1024.57" r="3.1"/><circle cx="561.57" cy="1026.66" r="3.1"/><circle cx="568.21" cy="1028.2" r="3.1"/><circle cx="574.86" cy="1029.47" r="3.1"/><circle cx="581.51" cy="1030.4" r="3.1"/><circle cx="588.16" cy="1031.3" r="3.1"/><circle cx="594.8" cy="1032.14" r="3.1"/><circle cx="601.45" cy="1032.86" r="3.1"/><circle cx="608.1" cy="1033.52" r="3.1"/><circle cx="614.75" cy="1034.12" r="3.1"/><circle cx="621.39" cy="1034.67" r="3.1"/><circle cx="628.04" cy="1035.14" r="3.1"/><circle cx="634.69" cy="1035.5" r="3.1"/><circle cx="641.34" cy="1035.8" r="3.1"/><circle cx="647.98" cy="1036.04" r="3.1"/><circle cx="654.63" cy="1036.26" r="3.1"/><circle cx="661.28" cy="1036.45" r="3.1"/><circle cx="667.93" cy="1036.63" r="3.1"/><circle cx="674.57" cy="1036.77" r="3.1"/><circle cx="681.22" cy="1036.89" r="3.1"/><circle cx="687.87" cy="1036.99" r="3.1"/><circle cx="694.52" cy="1037.09" r="3.1"/><circle cx="701.16" cy="1037.18" r="3.1"/><circle cx="707.81" cy="1037.26" r="3.1"/><circle cx="714.46" cy="1037.32" r="3.1"/><circle cx="721.11" cy="1037.38" r="3.1"/><circle cx="727.75" cy="1037.42" r="3.1"/><circle cx="734.4" cy="1037.45" r="3.1"/><circle cx="741.05" cy="1037.48" r="3.1"/><circle cx="747.7" cy="1037.5" r="3.1"/><circle cx="754.34" cy="1037.53" r="3.1"/><circle cx="760.99" cy="1037.55" r="3.1"/><circle cx="767.64" cy="1037.57" r="3.1"/><circle cx="774.29" cy="1037.59" r="3.1"/><circle cx="780.93" cy="1037.61" r="3.1"/><circle cx="787.58" cy="1037.62" r="3.1"/><circle cx="794.23" cy="1037.62" r="3.1"/><circle cx="800.88" cy="1037.63" r="3.1"/></g>
</g>
<text class="tk" x="222.32" y="1076.1" text-anchor="middle">−3</text>
<text class="tk" x="356.6" y="1076.1" text-anchor="middle">0</text>
<text class="tk" x="490.88" y="1076.1" text-anchor="middle">3</text>
<text class="tk" x="625.16" y="1076.1" text-anchor="middle">6</text>
<text class="tk" x="759.44" y="1076.1" text-anchor="middle">9</text>
<text class="tk" x="102.1" y="1045.35" text-anchor="end">0.0</text>
<text class="tk" x="102.1" y="903.95" text-anchor="end">0.1</text>
<text class="tk" x="102.1" y="762.55" text-anchor="end">0.2</text>
<text class="tk" x="102.1" y="621.15" text-anchor="end">0.3</text>
<text class="mt it" x="467.75" y="1109.6" font-size="38" text-anchor="middle">x</text>
<g transform="translate(49.2,945.55) rotate(-90)">
<text class="mt it" x="10.6" y="0" font-size="38" text-anchor="middle">p</text>
<text class="mt it" x="28.2" y="10.5" font-size="26.6" text-anchor="middle">r</text>
<text class="mt " x="41.3" y="0" font-size="41.5" text-anchor="middle">(</text>
<text class="mt it" x="56.9" y="0" font-size="38" text-anchor="middle">x</text>
<text class="mt " x="69.7" y="3.2" font-size="38" text-anchor="middle">,</text>
<text class="mt it" x="90" y="0" font-size="38" text-anchor="middle">t</text>
<text class="mt " x="109.4" y="0" font-size="38" text-anchor="middle">|</text>
<text class="mt it" x="137.2" y="0" font-size="38" text-anchor="middle">x</text>
<text class="mt " x="156" y="10.5" font-size="26.6" text-anchor="middle">0</text>
<text class="mt " x="221.9" y="0" font-size="38" text-anchor="middle">5</text>
<text class="mt " x="237.2" y="0" font-size="41.5" text-anchor="middle">)</text>
<text class="mt" transform="translate(187.5,1.9) scale(1.32,0.88)" font-size="38" text-anchor="middle">=</text>
</g>
<rect x="653.8" y="608.9" width="147.5" height="88.5" fill="#fff" stroke="#000" stroke-width="1.6"/>
<path d="M673.7 619.3L696.9 642.5M673.7 642.5L696.9 619.3" stroke="#0000ff" stroke-width="1.8" fill="none"/>
<path d="M673.5 653.1H697.1M685.3 641.1V665.1" stroke="#ff0000" stroke-width="1.8" fill="none"/>
<circle cx="685.3" cy="675.3" r="9.4" fill="#008000" stroke="#000" stroke-width="1.9"/>
<text class="mt it" x="715.7" y="637.8" font-size="21">t</text>
<text class="mt" transform="translate(736.75,642.3) scale(1.5,1.25)" font-size="21" text-anchor="middle">=</text>
<text class="mt" x="748.2" y="637.8" font-size="21">1.0</text>
<text class="mt it" x="715.7" y="660" font-size="21">t</text>
<text class="mt" transform="translate(736.75,664.5) scale(1.5,1.25)" font-size="21" text-anchor="middle">=</text>
<text class="mt" x="748.2" y="660" font-size="21">3.0</text>
<text class="mt it" x="715.7" y="682.2" font-size="21">t</text>
<text class="mt" transform="translate(736.75,686.7) scale(1.5,1.25)" font-size="21" text-anchor="middle">=</text>
<text class="mt" x="748.2" y="682.2" font-size="21">10.0</text>
<text class="mt" transform="translate(-0.9,1106.3) scale(0.93,1)" font-size="58">(c)</text>
<clipPath id="clipd"><rect x="1023.7" y="601.6" width="696.9" height="454.9"/></clipPath>
<path d="M1042.6 600.6V1057.5M1174.5 600.6V1057.5M1306.4 600.6V1057.5M1438.3 600.6V1057.5M1570.2 600.6V1057.5M1702.1 600.6V1057.5" stroke="#000" stroke-opacity="0.07" stroke-width="1.1" fill="none"/>
<path d="M1022.7 1044.7H1721.6M1022.7 967.44H1721.6M1022.7 890.18H1721.6M1022.7 812.92H1721.6M1022.7 735.66H1721.6M1022.7 658.4H1721.6" stroke="#000" stroke-opacity="0.07" stroke-width="1.1" fill="none"/>
<rect x="1022.7" y="600.6" width="698.9" height="456.9" fill="none" stroke="#000" stroke-width="2"/>
<path d="M1042.6 1057.5V1050M1174.5 1057.5V1050M1306.4 1057.5V1050M1438.3 1057.5V1050M1570.2 1057.5V1050M1702.1 1057.5V1050M1022.7 1044.7H1030.2M1022.7 967.44H1030.2M1022.7 890.18H1030.2M1022.7 812.92H1030.2M1022.7 735.66H1030.2M1022.7 658.4H1030.2" stroke="#000" stroke-width="1.5" fill="none"/>
<g clip-path="url(#clipd)">
<polyline points="1042.6,1044.7 1043.7,1044.7 1044.8,1044.7 1045.9,1044.7 1047,1044.7 1048.1,1044.7 1049.2,1044.7 1050.29,1044.7 1051.39,1044.7 1052.49,1044.7 1053.59,1044.7 1054.69,1044.7 1055.79,1044.7 1056.89,1044.7 1057.99,1044.7 1059.09,1044.7 1060.19,1044.7 1061.29,1044.7 1062.39,1044.7 1063.48,1044.7 1064.58,1044.7 1065.68,1044.7 1066.78,1044.7 1067.88,1044.7 1068.98,1044.7 1070.08,1044.7 1071.18,1044.7 1072.28,1044.7 1073.38,1044.7 1074.48,1044.7 1075.58,1044.7 1076.67,1044.7 1077.77,1044.7 1078.87,1044.7 1079.97,1044.7 1081.07,1044.7 1082.17,1044.7 1083.27,1044.7 1084.37,1044.7 1085.47,1044.7 1086.57,1044.7 1087.67,1044.7 1088.77,1044.7 1089.86,1044.7 1090.96,1044.7 1092.06,1044.7 1093.16,1044.7 1094.26,1044.7 1095.36,1044.7 1096.46,1044.7 1097.56,1044.7 1098.66,1044.7 1099.76,1044.7 1100.86,1044.7 1101.96,1044.7 1103.05,1044.7 1104.15,1044.7 1105.25,1044.7 1106.35,1044.7 1107.45,1044.7 1108.55,1044.7 1109.65,1044.7 1110.75,1044.7 1111.85,1044.7 1112.95,1044.7 1114.05,1044.7 1115.14,1044.7 1116.24,1044.7 1117.34,1044.7 1118.44,1044.7 1119.54,1044.7 1120.64,1044.7 1121.74,1044.7 1122.84,1044.7 1123.94,1044.7 1125.04,1044.7 1126.14,1044.7 1127.24,1044.7 1128.34,1044.69 1129.43,1044.69 1130.53,1044.69 1131.63,1044.69 1132.73,1044.69 1133.83,1044.69 1134.93,1044.69 1136.03,1044.69 1137.13,1044.69 1138.23,1044.69 1139.33,1044.69 1140.43,1044.69 1141.53,1044.69 1142.62,1044.69 1143.72,1044.69 1144.82,1044.69 1145.92,1044.69 1147.02,1044.69 1148.12,1044.69 1149.22,1044.69 1150.32,1044.69 1151.42,1044.69 1152.52,1044.69 1153.62,1044.69 1154.72,1044.69 1155.81,1044.69 1156.91,1044.69 1158.01,1044.69 1159.11,1044.69 1160.21,1044.69 1161.31,1044.69 1162.41,1044.69 1163.51,1044.69 1164.61,1044.69 1165.71,1044.69 1166.81,1044.69 1167.91,1044.69 1169,1044.69 1170.1,1044.69 1171.2,1044.69 1172.3,1044.69 1173.4,1044.69 1174.5,1044.69 1175.6,1044.69 1176.7,1044.69 1177.8,1044.69 1178.9,1044.69 1180,1044.69 1181.1,1044.69 1182.19,1044.69 1183.29,1044.69 1184.39,1044.69 1185.49,1044.69 1186.59,1044.69 1187.69,1044.69 1188.79,1044.69 1189.89,1044.69 1190.99,1044.69 1192.09,1044.69 1193.19,1044.69 1194.29,1044.69 1195.38,1044.69 1196.48,1044.68 1197.58,1044.68 1198.68,1044.68 1199.78,1044.68 1200.88,1044.68 1201.98,1044.68 1203.08,1044.68 1204.18,1044.68 1205.28,1044.68 1206.38,1044.68 1207.48,1044.68 1208.57,1044.68 1209.67,1044.68 1210.77,1044.68 1211.87,1044.68 1212.97,1044.68 1214.07,1044.68 1215.17,1044.68 1216.27,1044.68 1217.37,1044.68 1218.47,1044.68 1219.57,1044.68 1220.67,1044.68 1221.76,1044.68 1222.86,1044.68 1223.96,1044.68 1225.06,1044.68 1226.16,1044.68 1227.26,1044.68 1228.36,1044.68 1229.46,1044.68 1230.56,1044.68 1231.66,1044.68 1232.76,1044.68 1233.86,1044.68 1234.95,1044.68 1236.05,1044.67 1237.15,1044.67 1238.25,1044.67 1239.35,1044.67 1240.45,1044.67 1241.55,1044.67 1242.65,1044.67 1243.75,1044.67 1244.85,1044.67 1245.95,1044.67 1247.05,1044.67 1248.14,1044.67 1249.24,1044.67 1250.34,1044.67 1251.44,1044.67 1252.54,1044.67 1253.64,1044.67 1254.74,1044.67 1255.84,1044.67 1256.94,1044.67 1258.04,1044.66 1259.14,1044.66 1260.24,1044.66 1261.33,1044.66 1262.43,1044.65 1263.53,1044.65 1264.63,1044.64 1265.73,1044.64 1266.83,1044.63 1267.93,1044.63 1269.03,1044.62 1270.13,1044.61 1271.23,1044.6 1272.33,1044.59 1273.43,1044.58 1274.52,1044.57 1275.62,1044.56 1276.72,1044.55 1277.82,1044.53 1278.92,1044.52 1280.02,1044.5 1281.12,1044.49 1282.22,1044.47 1283.32,1044.45 1284.42,1044.43 1285.52,1044.41 1286.62,1044.39 1287.71,1044.36 1288.81,1044.34 1289.91,1044.32 1291.01,1044.29 1292.11,1044.26 1293.21,1044.23 1294.31,1044.2 1295.41,1044.17 1296.51,1044.14 1297.61,1044.1 1298.71,1044.07 1299.81,1044.03 1300.9,1043.99 1302,1043.95 1303.1,1043.91 1304.2,1043.86 1305.3,1043.82 1306.4,1043.77 1307.5,1043.6 1308.6,1043.22 1309.7,1042.7 1310.8,1042.12 1311.9,1041.56 1313,1041.08 1314.09,1040.62 1315.19,1040.16 1316.29,1039.68 1317.39,1039.17 1318.49,1038.61 1319.59,1037.97 1320.69,1037.23 1321.79,1036.39 1322.89,1035.48 1323.99,1034.51 1325.09,1033.49 1326.19,1032.45 1327.28,1031.36 1328.38,1030.2 1329.48,1028.97 1330.58,1027.67 1331.68,1026.29 1332.78,1024.82 1333.88,1023.24 1334.98,1021.53 1336.08,1019.73 1337.18,1017.83 1338.28,1015.86 1339.38,1013.83 1340.47,1011.71 1341.57,1009.49 1342.67,1007.16 1343.77,1004.7 1344.87,1002.11 1345.97,999.37 1347.07,996.43 1348.17,993.28 1349.27,989.95 1350.37,986.44 1351.47,982.78 1352.57,978.96 1353.66,974.88 1354.76,970.54 1355.86,966.01 1356.96,961.35 1358.06,956.62 1359.16,951.87 1360.26,947.05 1361.36,942.15 1362.46,937.12 1363.56,931.96 1364.66,926.64 1365.76,921.14 1366.85,915.45 1367.95,909.58 1369.05,903.53 1370.15,897.28 1371.25,890.82 1372.35,884.15 1373.45,877.15 1374.55,869.77 1375.65,862.14 1376.75,854.37 1377.85,846.59 1378.95,838.9 1380.04,831.15 1381.14,823.34 1382.24,815.5 1383.34,807.68 1384.44,799.92 1385.54,792.25 1386.64,784.65 1387.74,777.1 1388.84,769.57 1389.94,762.06 1391.04,754.56 1392.13,747.02 1393.23,739.4 1394.33,731.74 1395.43,724.13 1396.53,716.65 1397.63,709.36 1398.73,702.31 1399.83,695.29 1400.93,688.35 1402.03,681.64 1403.13,675.27 1404.23,669.37 1405.33,663.98 1406.42,658.86 1407.52,654.01 1408.62,649.42 1409.72,645.07 1410.82,640.97 1411.92,637.08 1413.02,633.27 1414.12,629.6 1415.22,626.17 1416.32,623.08 1417.42,620.42 1418.52,618.1 1419.61,615.75 1420.71,613.54 1421.81,611.66 1422.91,610.33 1424.01,609.74 1425.11,610.05 1426.21,611.17 1427.31,612.9 1428.41,615.03 1429.51,617.36 1430.61,619.68 1431.71,622.14 1432.8,625.01 1433.9,628.23 1435,631.73 1436.1,635.42 1437.2,639.24 1438.3,643.29 1439.4,647.65 1440.5,652.3 1441.6,657.2 1442.7,662.31 1443.8,667.61 1444.89,673.19 1445.99,679.15 1447.09,685.4 1448.19,691.87 1449.29,698.48 1450.39,705.14 1451.49,711.93 1452.59,718.91 1453.69,726.05 1454.79,733.29 1455.89,740.61 1456.99,747.95 1458.09,755.4 1459.18,762.98 1460.28,770.62 1461.38,778.26 1462.48,785.85 1463.58,793.34 1464.68,800.85 1465.78,808.35 1466.88,815.79 1467.98,823.13 1469.08,830.31 1470.18,837.29 1471.28,844.14 1472.37,850.86 1473.47,857.46 1474.57,863.95 1475.67,870.33 1476.77,876.59 1477.87,882.73 1478.97,888.75 1480.07,894.67 1481.17,900.5 1482.27,906.26 1483.37,911.96 1484.47,917.66 1485.56,923.37 1486.66,928.99 1487.76,934.45 1488.86,939.68 1489.96,944.6 1491.06,949.3 1492.16,953.82 1493.26,958.17 1494.36,962.35 1495.46,966.36 1496.56,970.21 1497.66,973.92 1498.75,977.5 1499.85,980.95 1500.95,984.26 1502.05,987.42 1503.15,990.44 1504.25,993.33 1505.35,996.13 1506.45,998.8 1507.55,1001.36 1508.65,1003.78 1509.75,1006.05 1510.85,1008.2 1511.94,1010.24 1513.04,1012.18 1514.14,1014.05 1515.24,1015.85 1516.34,1017.59 1517.44,1019.32 1518.54,1021.03 1519.64,1022.69 1520.74,1024.24 1521.84,1025.64 1522.94,1026.85 1524.04,1027.9 1525.13,1028.85 1526.23,1029.73 1527.33,1030.55 1528.43,1031.35 1529.53,1032.15 1530.63,1032.95 1531.73,1033.73 1532.83,1034.5 1533.93,1035.24 1535.03,1035.95 1536.13,1036.63 1537.23,1037.28 1538.32,1037.93 1539.42,1038.58 1540.52,1039.19 1541.62,1039.76 1542.72,1040.27 1543.82,1040.68 1544.92,1041.04 1546.02,1041.38 1547.12,1041.69 1548.22,1041.98 1549.32,1042.25 1550.41,1042.49 1551.51,1042.7 1552.61,1042.87 1553.71,1043.02 1554.81,1043.14 1555.91,1043.27 1557.01,1043.38 1558.11,1043.49 1559.21,1043.6 1560.31,1043.7 1561.41,1043.79 1562.51,1043.88 1563.61,1043.95 1564.7,1044.02 1565.8,1044.08 1566.9,1044.14 1568,1044.18 1569.1,1044.21 1570.2,1044.24 1571.3,1044.26 1572.4,1044.27 1573.5,1044.29 1574.6,1044.31 1575.7,1044.32 1576.8,1044.34 1577.89,1044.36 1578.99,1044.37 1580.09,1044.39 1581.19,1044.4 1582.29,1044.42 1583.39,1044.43 1584.49,1044.44 1585.59,1044.46 1586.69,1044.47 1587.79,1044.48 1588.89,1044.49 1589.99,1044.5 1591.08,1044.51 1592.18,1044.52 1593.28,1044.53 1594.38,1044.54 1595.48,1044.55 1596.58,1044.56 1597.68,1044.57 1598.78,1044.58 1599.88,1044.59 1600.98,1044.59 1602.08,1044.6 1603.18,1044.61 1604.27,1044.61 1605.37,1044.62 1606.47,1044.62 1607.57,1044.63 1608.67,1044.63 1609.77,1044.64 1610.87,1044.64 1611.97,1044.65 1613.07,1044.65 1614.17,1044.65 1615.27,1044.66 1616.37,1044.66 1617.46,1044.66 1618.56,1044.66 1619.66,1044.67 1620.76,1044.67 1621.86,1044.67 1622.96,1044.67 1624.06,1044.67 1625.16,1044.67 1626.26,1044.67 1627.36,1044.67 1628.46,1044.67 1629.56,1044.67 1630.65,1044.67 1631.75,1044.68 1632.85,1044.68 1633.95,1044.68 1635.05,1044.68 1636.15,1044.68 1637.25,1044.68 1638.35,1044.68 1639.45,1044.68 1640.55,1044.68 1641.65,1044.68 1642.75,1044.68 1643.84,1044.68 1644.94,1044.68 1646.04,1044.68 1647.14,1044.68 1648.24,1044.69 1649.34,1044.69 1650.44,1044.69 1651.54,1044.69 1652.64,1044.69 1653.74,1044.69 1654.84,1044.69 1655.93,1044.69 1657.03,1044.69 1658.13,1044.69 1659.23,1044.69 1660.33,1044.69 1661.43,1044.69 1662.53,1044.69 1663.63,1044.69 1664.73,1044.69 1665.83,1044.69 1666.93,1044.69 1668.03,1044.69 1669.12,1044.69 1670.22,1044.69 1671.32,1044.69 1672.42,1044.69 1673.52,1044.69 1674.62,1044.7 1675.72,1044.7 1676.82,1044.7 1677.92,1044.7 1679.02,1044.7 1680.12,1044.7 1681.22,1044.7 1682.32,1044.7 1683.41,1044.7 1684.51,1044.7 1685.61,1044.7 1686.71,1044.7 1687.81,1044.7 1688.91,1044.7 1690.01,1044.7 1691.11,1044.7 1692.21,1044.7 1693.31,1044.7 1694.41,1044.7 1695.51,1044.7 1696.6,1044.7 1697.7,1044.7 1698.8,1044.7 1699.9,1044.7 1701,1044.7 1702.1,1044.7" fill="none" stroke="#0000ff" stroke-width="1.8" stroke-linejoin="round"/>
<path d="M1040.16 1039L1051.56 1050.4M1040.16 1050.4L1051.56 1039M1046.69 1039L1058.09 1050.4M1046.69 1050.4L1058.09 1039M1053.22 1039L1064.62 1050.4M1053.22 1050.4L1064.62 1039M1059.75 1039L1071.15 1050.4M1059.75 1050.4L1071.15 1039M1066.28 1039L1077.68 1050.4M1066.28 1050.4L1077.68 1039M1072.81 1039L1084.21 1050.4M1072.81 1050.4L1084.21 1039M1079.34 1039L1090.74 1050.4M1079.34 1050.4L1090.74 1039M1085.87 1039L1097.27 1050.4M1085.87 1050.4L1097.27 1039M1092.4 1039L1103.8 1050.4M1092.4 1050.4L1103.8 1039M1098.93 1039L1110.33 1050.4M1098.93 1050.4L1110.33 1039M1105.46 1039L1116.86 1050.4M1105.46 1050.4L1116.86 1039M1111.99 1039L1123.39 1050.4M1111.99 1050.4L1123.39 1039M1118.52 1039L1129.92 1050.4M1118.52 1050.4L1129.92 1039M1125.05 1038.99L1136.45 1050.39M1125.05 1050.39L1136.45 1038.99M1131.58 1038.99L1142.98 1050.39M1131.58 1050.39L1142.98 1038.99M1138.11 1038.99L1149.51 1050.39M1138.11 1050.39L1149.51 1038.99M1144.64 1038.99L1156.04 1050.39M1144.64 1050.39L1156.04 1038.99M1151.17 1038.99L1162.57 1050.39M1151.17 1050.39L1162.57 1038.99M1157.7 1038.99L1169.1 1050.39M1157.7 1050.39L1169.1 1038.99M1164.23 1038.99L1175.63 1050.39M1164.23 1050.39L1175.63 1038.99M1170.76 1038.99L1182.16 1050.39M1170.76 1050.39L1182.16 1038.99M1177.29 1038.99L1188.69 1050.39M1177.29 1050.39L1188.69 1038.99M1183.82 1038.99L1195.22 1050.39M1183.82 1050.39L1195.22 1038.99M1190.35 1038.98L1201.75 1050.38M1190.35 1050.38L1201.75 1038.98M1196.88 1038.98L1208.28 1050.38M1196.88 1050.38L1208.28 1038.98M1203.41 1038.98L1214.81 1050.38M1203.41 1050.38L1214.81 1038.98M1209.94 1038.98L1221.34 1050.38M1209.94 1050.38L1221.34 1038.98M1216.47 1038.98L1227.87 1050.38M1216.47 1050.38L1227.87 1038.98M1223 1038.98L1234.4 1050.38M1223 1050.38L1234.4 1038.98M1229.53 1038.97L1240.93 1050.37M1229.53 1050.37L1240.93 1038.97M1236.06 1038.97L1247.46 1050.37M1236.06 1050.37L1247.46 1038.97M1242.59 1038.97L1253.99 1050.37M1242.59 1050.37L1253.99 1038.97M1249.12 1038.97L1260.52 1050.37M1249.12 1050.37L1260.52 1038.97M1255.65 1038.96L1267.05 1050.36M1255.65 1050.36L1267.05 1038.96M1262.17 1038.93L1273.57 1050.33M1262.17 1050.33L1273.57 1038.93M1268.7 1038.87L1280.1 1050.27M1268.7 1050.27L1280.1 1038.87M1275.23 1038.79L1286.63 1050.19M1275.23 1050.19L1286.63 1038.79M1281.76 1038.67L1293.16 1050.07M1281.76 1050.07L1293.16 1038.67M1288.29 1038.51L1299.69 1049.91M1288.29 1049.91L1299.69 1038.51M1294.82 1038.3L1306.22 1049.7M1294.82 1049.7L1306.22 1038.3M1301.35 1038L1312.75 1049.4M1301.35 1049.4L1312.75 1038M1307.88 1035.13L1319.28 1046.53M1307.88 1046.53L1319.28 1035.13M1314.41 1031.93L1325.81 1043.33M1314.41 1043.33L1325.81 1031.93M1320.94 1026.3L1332.34 1037.7M1320.94 1037.7L1332.34 1026.3M1327.47 1018.57L1338.87 1029.97M1327.47 1029.97L1338.87 1018.57M1334 1007.51L1345.4 1018.91M1334 1018.91L1345.4 1007.51M1340.53 992.99L1351.93 1004.39M1340.53 1004.39L1351.93 992.99M1347.06 972.55L1358.46 983.95M1347.06 983.95L1358.46 972.55M1353.59 945.6L1364.99 957M1353.59 957L1364.99 945.6M1360.12 915.1L1371.52 926.5M1360.12 926.5L1371.52 915.1M1366.65 878.45L1378.05 889.85M1366.65 889.85L1378.05 878.45M1373.18 833.65L1384.58 845.05M1373.18 845.05L1384.58 833.65M1379.71 787.46L1391.11 798.86M1379.71 798.86L1391.11 787.46M1386.24 742.67L1397.64 754.07M1386.24 754.07L1397.64 742.67M1392.77 698.28L1404.17 709.68M1392.77 709.68L1404.17 698.28M1399.3 659.85L1410.7 671.25M1399.3 671.25L1410.7 659.85M1405.83 632.75L1417.23 644.15M1405.83 644.15L1417.23 632.75M1412.36 613.37L1423.76 624.77M1412.36 624.77L1423.76 613.37M1418.89 604.09L1430.29 615.49M1418.89 615.49L1430.29 604.09M1425.42 615.07L1436.82 626.47M1425.42 626.47L1436.82 615.07M1431.95 635.14L1443.35 646.54M1431.95 646.54L1443.35 635.14M1438.48 663.8L1449.88 675.2M1438.48 675.2L1449.88 663.8M1445.01 701.36L1456.41 712.76M1445.01 712.76L1456.41 701.36M1451.54 743.93L1462.94 755.33M1451.54 755.33L1462.94 743.93M1458.07 788.9L1469.47 800.3M1458.07 800.3L1469.47 788.9M1464.6 832.34L1476 843.74M1464.6 843.74L1476 832.34M1471.13 871.2L1482.53 882.6M1471.13 882.6L1482.53 871.2M1477.65 906.2L1489.05 917.6M1477.65 917.6L1489.05 906.2M1484.18 938.57L1495.58 949.97M1484.18 949.97L1495.58 938.57M1490.71 964.02L1502.11 975.42M1490.71 975.42L1502.11 964.02M1497.24 984.18L1508.64 995.58M1497.24 995.58L1508.64 984.18M1503.77 999.8L1515.17 1011.2M1503.77 1011.2L1515.17 999.8M1510.3 1011.36L1521.7 1022.76M1510.3 1022.76L1521.7 1011.36M1516.83 1020.73L1528.23 1032.13M1516.83 1032.13L1528.23 1020.73M1523.36 1026.11L1534.76 1037.51M1523.36 1037.51L1534.76 1026.11M1529.89 1030.6L1541.29 1042M1529.89 1042L1541.29 1030.6M1536.42 1034.3L1547.82 1045.7M1536.42 1045.7L1547.82 1034.3M1542.95 1036.39L1554.35 1047.79M1542.95 1047.79L1554.35 1036.39M1549.48 1037.49L1560.88 1048.89M1549.48 1048.89L1560.88 1037.49M1556.01 1038.12L1567.41 1049.52M1556.01 1049.52L1567.41 1038.12M1562.54 1038.49L1573.94 1049.89M1562.54 1049.89L1573.94 1038.49M1569.07 1038.61L1580.47 1050.01M1569.07 1050.01L1580.47 1038.61M1575.6 1038.7L1587 1050.1M1575.6 1050.1L1587 1038.7M1582.13 1038.78L1593.53 1050.18M1582.13 1050.18L1593.53 1038.78M1588.66 1038.84L1600.06 1050.24M1588.66 1050.24L1600.06 1038.84M1595.19 1038.89L1606.59 1050.29M1595.19 1050.29L1606.59 1038.89M1601.72 1038.93L1613.12 1050.33M1601.72 1050.33L1613.12 1038.93M1608.25 1038.95L1619.65 1050.35M1608.25 1050.35L1619.65 1038.95M1614.78 1038.97L1626.18 1050.37M1614.78 1050.37L1626.18 1038.97M1621.31 1038.97L1632.71 1050.37M1621.31 1050.37L1632.71 1038.97M1627.84 1038.98L1639.24 1050.38M1627.84 1050.38L1639.24 1038.98M1634.37 1038.98L1645.77 1050.38M1634.37 1050.38L1645.77 1038.98M1640.9 1038.98L1652.3 1050.38M1640.9 1050.38L1652.3 1038.98M1647.43 1038.99L1658.83 1050.39M1647.43 1050.39L1658.83 1038.99M1653.96 1038.99L1665.36 1050.39M1653.96 1050.39L1665.36 1038.99M1660.49 1038.99L1671.89 1050.39M1660.49 1050.39L1671.89 1038.99M1667.02 1038.99L1678.42 1050.39M1667.02 1050.39L1678.42 1038.99M1673.55 1039L1684.95 1050.4M1673.55 1050.4L1684.95 1039M1680.08 1039L1691.48 1050.4M1680.08 1050.4L1691.48 1039M1686.61 1039L1698.01 1050.4M1686.61 1050.4L1698.01 1039M1693.14 1039L1704.54 1050.4M1693.14 1050.4L1704.54 1039" stroke="#0000ff" stroke-width="1.4" fill="none"/>
<polyline points="1042.6,1044.39 1043.7,1044.39 1044.8,1044.39 1045.9,1044.39 1047,1044.38 1048.1,1044.38 1049.2,1044.37 1050.29,1044.37 1051.39,1044.36 1052.49,1044.35 1053.59,1044.34 1054.69,1044.33 1055.79,1044.32 1056.89,1044.31 1057.99,1044.29 1059.09,1044.28 1060.19,1044.26 1061.29,1044.25 1062.39,1044.23 1063.48,1044.21 1064.58,1044.19 1065.68,1044.17 1066.78,1044.15 1067.88,1044.13 1068.98,1044.11 1070.08,1044.09 1071.18,1044.06 1072.28,1044.04 1073.38,1044.01 1074.48,1043.99 1075.58,1043.96 1076.67,1043.93 1077.77,1043.9 1078.87,1043.87 1079.97,1043.84 1081.07,1043.81 1082.17,1043.78 1083.27,1043.75 1084.37,1043.71 1085.47,1043.68 1086.57,1043.64 1087.67,1043.61 1088.77,1043.57 1089.86,1043.53 1090.96,1043.5 1092.06,1043.46 1093.16,1043.42 1094.26,1043.38 1095.36,1043.34 1096.46,1043.3 1097.56,1043.25 1098.66,1043.21 1099.76,1043.17 1100.86,1043.12 1101.96,1043.05 1103.05,1042.97 1104.15,1042.88 1105.25,1042.77 1106.35,1042.66 1107.45,1042.54 1108.55,1042.43 1109.65,1042.31 1110.75,1042.21 1111.85,1042.11 1112.95,1042.02 1114.05,1041.93 1115.14,1041.85 1116.24,1041.77 1117.34,1041.69 1118.44,1041.62 1119.54,1041.54 1120.64,1041.46 1121.74,1041.37 1122.84,1041.28 1123.94,1041.19 1125.04,1041.08 1126.14,1040.98 1127.24,1040.86 1128.34,1040.75 1129.43,1040.62 1130.53,1040.5 1131.63,1040.36 1132.73,1040.23 1133.83,1040.09 1134.93,1039.94 1136.03,1039.79 1137.13,1039.63 1138.23,1039.46 1139.33,1039.28 1140.43,1039.1 1141.53,1038.9 1142.62,1038.71 1143.72,1038.5 1144.82,1038.29 1145.92,1038.08 1147.02,1037.86 1148.12,1037.64 1149.22,1037.42 1150.32,1037.2 1151.42,1036.97 1152.52,1036.73 1153.62,1036.48 1154.72,1036.22 1155.81,1035.95 1156.91,1035.66 1158.01,1035.36 1159.11,1035.05 1160.21,1034.72 1161.31,1034.38 1162.41,1034.04 1163.51,1033.69 1164.61,1033.32 1165.71,1032.95 1166.81,1032.57 1167.91,1032.18 1169,1031.78 1170.1,1031.38 1171.2,1030.97 1172.3,1030.57 1173.4,1030.15 1174.5,1029.72 1175.6,1029.28 1176.7,1028.82 1177.8,1028.34 1178.9,1027.82 1180,1027.29 1181.1,1026.74 1182.19,1026.17 1183.29,1025.58 1184.39,1024.99 1185.49,1024.39 1186.59,1023.77 1187.69,1023.13 1188.79,1022.48 1189.89,1021.82 1190.99,1021.15 1192.09,1020.48 1193.19,1019.81 1194.29,1019.14 1195.38,1018.46 1196.48,1017.75 1197.58,1017.01 1198.68,1016.22 1199.78,1015.37 1200.88,1014.44 1201.98,1013.45 1203.08,1012.43 1204.18,1011.4 1205.28,1010.39 1206.38,1009.38 1207.48,1008.37 1208.57,1007.35 1209.67,1006.32 1210.77,1005.29 1211.87,1004.24 1212.97,1003.19 1214.07,1002.14 1215.17,1001.08 1216.27,1000.01 1217.37,998.92 1218.47,997.82 1219.57,996.69 1220.67,995.53 1221.76,994.35 1222.86,993.15 1223.96,991.93 1225.06,990.68 1226.16,989.42 1227.26,988.15 1228.36,986.86 1229.46,985.54 1230.56,984.2 1231.66,982.84 1232.76,981.46 1233.86,980.04 1234.95,978.58 1236.05,977.07 1237.15,975.55 1238.25,974.03 1239.35,972.53 1240.45,971.07 1241.55,969.65 1242.65,968.25 1243.75,966.86 1244.85,965.46 1245.95,964.03 1247.05,962.55 1248.14,961.03 1249.24,959.49 1250.34,957.92 1251.44,956.31 1252.54,954.63 1253.64,952.88 1254.74,951.01 1255.84,948.96 1256.94,946.83 1258.04,944.69 1259.14,942.64 1260.24,940.74 1261.33,938.95 1262.43,937.21 1263.53,935.52 1264.63,933.83 1265.73,932.13 1266.83,930.4 1267.93,928.65 1269.03,926.9 1270.13,925.14 1271.23,923.38 1272.33,921.59 1273.43,919.78 1274.52,917.94 1275.62,916.07 1276.72,914.19 1277.82,912.31 1278.92,910.44 1280.02,908.59 1281.12,906.77 1282.22,904.96 1283.32,903.15 1284.42,901.36 1285.52,899.57 1286.62,897.79 1287.71,896.01 1288.81,894.24 1289.91,892.48 1291.01,890.72 1292.11,888.96 1293.21,887.19 1294.31,885.38 1295.41,883.54 1296.51,881.71 1297.61,879.93 1298.71,878.23 1299.81,876.65 1300.9,875.16 1302,873.74 1303.1,872.34 1304.2,870.96 1305.3,869.55 1306.4,868.08 1307.5,866.53 1308.6,864.89 1309.7,863.25 1310.8,861.66 1311.9,860.19 1313,858.88 1314.09,857.65 1315.19,856.48 1316.29,855.37 1317.39,854.32 1318.49,853.3 1319.59,852.32 1320.69,851.37 1321.79,850.44 1322.89,849.53 1323.99,848.64 1325.09,847.78 1326.19,846.94 1327.28,846.12 1328.38,845.33 1329.48,844.56 1330.58,843.82 1331.68,843.1 1332.78,842.41 1333.88,841.7 1334.98,841.01 1336.08,840.35 1337.18,839.77 1338.28,839.29 1339.38,838.93 1340.47,838.64 1341.57,838.39 1342.67,838.17 1343.77,837.97 1344.87,837.78 1345.97,837.6 1347.07,837.39 1348.17,837.18 1349.27,836.99 1350.37,836.83 1351.47,836.74 1352.57,836.72 1353.66,836.79 1354.76,836.92 1355.86,837.1 1356.96,837.32 1358.06,837.56 1359.16,837.8 1360.26,838.07 1361.36,838.4 1362.46,838.78 1363.56,839.21 1364.66,839.67 1365.76,840.15 1366.85,840.67 1367.95,841.24 1369.05,841.87 1370.15,842.55 1371.25,843.27 1372.35,844.04 1373.45,844.85 1374.55,845.7 1375.65,846.63 1376.75,847.63 1377.85,848.7 1378.95,849.82 1380.04,850.99 1381.14,852.19 1382.24,853.41 1383.34,854.68 1384.44,856.03 1385.54,857.45 1386.64,858.91 1387.74,860.39 1388.84,861.89 1389.94,863.37 1391.04,864.82 1392.13,866.23 1393.23,867.62 1394.33,869.01 1395.43,870.42 1396.53,871.89 1397.63,873.43 1398.73,875.08 1399.83,876.92 1400.93,878.85 1402.03,880.79 1403.13,882.65 1404.23,884.32 1405.33,885.81 1406.42,887.2 1407.52,888.53 1408.62,889.84 1409.72,891.19 1410.82,892.63 1411.92,894.2 1413.02,895.92 1414.12,897.74 1415.22,899.59 1416.32,901.4 1417.42,903.1 1418.52,904.65 1419.61,906.1 1420.71,907.5 1421.81,908.89 1422.91,910.34 1424.01,911.88 1425.11,913.58 1426.21,915.51 1427.31,917.57 1428.41,919.66 1429.51,921.67 1430.61,923.49 1431.71,925.09 1432.8,926.55 1433.9,927.94 1435,929.29 1436.1,930.67 1437.2,932.14 1438.3,933.73 1439.4,935.5 1440.5,937.37 1441.6,939.26 1442.7,941.1 1443.8,942.81 1444.89,944.34 1445.99,945.77 1447.09,947.14 1448.19,948.48 1449.29,949.85 1450.39,951.29 1451.49,952.84 1452.59,954.56 1453.69,956.4 1454.79,958.28 1455.89,960.09 1456.99,961.76 1458.09,963.23 1459.18,964.6 1460.28,965.89 1461.38,967.13 1462.48,968.35 1463.58,969.57 1464.68,970.84 1465.78,972.1 1466.88,973.36 1467.98,974.62 1469.08,975.88 1470.18,977.14 1471.28,978.41 1472.37,979.7 1473.47,981.03 1474.57,982.38 1475.67,983.73 1476.77,985.06 1477.87,986.35 1478.97,987.58 1480.07,988.74 1481.17,989.86 1482.27,990.95 1483.37,992.02 1484.47,993.09 1485.56,994.17 1486.66,995.28 1487.76,996.42 1488.86,997.58 1489.96,998.72 1491.06,999.82 1492.16,1000.86 1493.26,1001.83 1494.36,1002.75 1495.46,1003.65 1496.56,1004.52 1497.66,1005.38 1498.75,1006.25 1499.85,1007.13 1500.95,1008.01 1502.05,1008.9 1503.15,1009.77 1504.25,1010.63 1505.35,1011.47 1506.45,1012.28 1507.55,1013.08 1508.65,1013.86 1509.75,1014.62 1510.85,1015.37 1511.94,1016.1 1513.04,1016.8 1514.14,1017.48 1515.24,1018.13 1516.34,1018.77 1517.44,1019.4 1518.54,1020.02 1519.64,1020.65 1520.74,1021.28 1521.84,1021.93 1522.94,1022.57 1524.04,1023.2 1525.13,1023.82 1526.23,1024.42 1527.33,1024.99 1528.43,1025.53 1529.53,1026.06 1530.63,1026.57 1531.73,1027.06 1532.83,1027.54 1533.93,1028 1535.03,1028.46 1536.13,1028.9 1537.23,1029.34 1538.32,1029.76 1539.42,1030.17 1540.52,1030.56 1541.62,1030.92 1542.72,1031.26 1543.82,1031.59 1544.92,1031.9 1546.02,1032.2 1547.12,1032.48 1548.22,1032.75 1549.32,1033.01 1550.41,1033.24 1551.51,1033.47 1552.61,1033.69 1553.71,1033.89 1554.81,1034.09 1555.91,1034.29 1557.01,1034.48 1558.11,1034.68 1559.21,1034.87 1560.31,1035.07 1561.41,1035.26 1562.51,1035.46 1563.61,1035.65 1564.7,1035.84 1565.8,1036.03 1566.9,1036.22 1568,1036.4 1569.1,1036.57 1570.2,1036.75 1571.3,1036.91 1572.4,1037.07 1573.5,1037.22 1574.6,1037.37 1575.7,1037.51 1576.8,1037.65 1577.89,1037.79 1578.99,1037.92 1580.09,1038.05 1581.19,1038.18 1582.29,1038.3 1583.39,1038.42 1584.49,1038.54 1585.59,1038.65 1586.69,1038.76 1587.79,1038.87 1588.89,1038.98 1589.99,1039.08 1591.08,1039.19 1592.18,1039.29 1593.28,1039.39 1594.38,1039.48 1595.48,1039.58 1596.58,1039.67 1597.68,1039.77 1598.78,1039.86 1599.88,1039.95 1600.98,1040.04 1602.08,1040.12 1603.18,1040.21 1604.27,1040.29 1605.37,1040.37 1606.47,1040.45 1607.57,1040.53 1608.67,1040.61 1609.77,1040.68 1610.87,1040.76 1611.97,1040.83 1613.07,1040.91 1614.17,1040.98 1615.27,1041.06 1616.37,1041.13 1617.46,1041.2 1618.56,1041.28 1619.66,1041.35 1620.76,1041.42 1621.86,1041.49 1622.96,1041.56 1624.06,1041.63 1625.16,1041.7 1626.26,1041.77 1627.36,1041.83 1628.46,1041.9 1629.56,1041.96 1630.65,1042.02 1631.75,1042.08 1632.85,1042.14 1633.95,1042.2 1635.05,1042.26 1636.15,1042.31 1637.25,1042.36 1638.35,1042.42 1639.45,1042.46 1640.55,1042.51 1641.65,1042.56 1642.75,1042.6 1643.84,1042.64 1644.94,1042.68 1646.04,1042.71 1647.14,1042.75 1648.24,1042.78 1649.34,1042.82 1650.44,1042.86 1651.54,1042.89 1652.64,1042.93 1653.74,1042.96 1654.84,1043 1655.93,1043.03 1657.03,1043.06 1658.13,1043.1 1659.23,1043.13 1660.33,1043.17 1661.43,1043.2 1662.53,1043.23 1663.63,1043.26 1664.73,1043.3 1665.83,1043.33 1666.93,1043.36 1668.03,1043.39 1669.12,1043.42 1670.22,1043.45 1671.32,1043.48 1672.42,1043.5 1673.52,1043.53 1674.62,1043.56 1675.72,1043.58 1676.82,1043.61 1677.92,1043.63 1679.02,1043.66 1680.12,1043.68 1681.22,1043.7 1682.32,1043.72 1683.41,1043.74 1684.51,1043.76 1685.61,1043.78 1686.71,1043.8 1687.81,1043.81 1688.91,1043.83 1690.01,1043.84 1691.11,1043.86 1692.21,1043.87 1693.31,1043.88 1694.41,1043.89 1695.51,1043.9 1696.6,1043.91 1697.7,1043.91 1698.8,1043.92 1699.9,1043.92 1701,1043.93 1702.1,1043.93" fill="none" stroke="#ff0000" stroke-width="1.8" stroke-linejoin="round"/>
<path d="M1039.86 1044.39H1051.86M1045.86 1038.39V1050.39M1046.39 1044.35H1058.39M1052.39 1038.35V1050.35M1052.92 1044.28H1064.92M1058.92 1038.28V1050.28M1059.45 1044.18H1071.45M1065.45 1038.18V1050.18M1065.98 1044.05H1077.98M1071.98 1038.05V1050.05M1072.51 1043.88H1084.51M1078.51 1037.88V1049.88M1079.04 1043.69H1091.04M1085.04 1037.69V1049.69M1085.57 1043.48H1097.57M1091.57 1037.48V1049.48M1092.1 1043.23H1104.1M1098.1 1037.23V1049.23M1098.63 1042.83H1110.63M1104.63 1036.83V1048.83M1105.16 1042.17H1117.16M1111.16 1036.17V1048.17M1111.69 1041.67H1123.69M1117.69 1035.67V1047.67M1118.22 1041.16H1130.22M1124.22 1035.16V1047.16M1124.75 1040.47H1136.75M1130.75 1034.47V1046.47M1131.28 1039.61H1143.28M1137.28 1033.61V1045.61M1137.81 1038.48H1149.81M1143.81 1032.48V1044.48M1144.34 1037.19H1156.34M1150.34 1031.19V1043.19M1150.87 1035.68H1162.87M1156.87 1029.68V1041.68M1157.4 1033.72H1169.4M1163.4 1027.72V1039.72M1163.93 1031.44H1175.93M1169.93 1025.44V1037.44M1170.46 1028.92H1182.46M1176.46 1022.92V1034.92M1176.99 1025.75H1188.99M1182.99 1019.75V1031.75M1183.52 1022.05H1195.52M1189.52 1016.05V1028.05M1190.05 1018.03H1202.05M1196.05 1012.03V1024.03M1196.58 1012.9H1208.58M1202.58 1006.9V1018.9M1203.11 1006.85H1215.11M1209.11 1000.85V1012.85M1209.64 1000.63H1221.64M1215.64 994.63V1006.63M1216.17 993.92H1228.17M1222.17 987.92V999.92M1222.7 986.45H1234.7M1228.7 980.45V992.45M1229.23 978.21H1241.23M1235.23 972.21V984.21M1235.76 969.39H1247.76M1241.76 963.39V975.39M1242.29 960.83H1254.29M1248.29 954.83V966.83M1248.82 950.87H1260.82M1254.82 944.87V956.87M1255.35 938.93H1267.35M1261.35 932.93V944.93M1261.87 928.74H1273.87M1267.87 922.74V934.74M1268.4 918.15H1280.4M1274.4 912.15V924.15M1274.93 907.07H1286.93M1280.93 901.07V913.07M1281.46 896.41H1293.46M1287.46 890.41V902.41M1287.99 885.9H1299.99M1293.99 879.9V891.9M1294.52 875.67H1306.52M1300.52 869.67V881.67M1301.05 867.17H1313.05M1307.05 861.17V873.17M1307.58 858.21H1319.58M1313.58 852.21V864.21M1314.11 851.87H1326.11M1320.11 845.87V857.87M1320.64 846.6H1332.64M1326.64 840.6V852.6M1327.17 842.16H1339.17M1333.17 836.16V848.16M1333.7 838.83H1345.7M1339.7 832.83V844.83M1340.23 837.55H1352.23M1346.23 831.55V843.55M1346.76 836.73H1358.76M1352.76 830.73V842.73M1353.29 837.83H1365.29M1359.29 831.83V843.83M1359.82 840.18H1371.82M1365.82 834.18V846.18M1366.35 844.04H1378.35M1372.35 838.04V850.04M1372.88 849.75H1384.88M1378.88 843.75V855.75M1379.41 857.28H1391.41M1385.41 851.28V863.28M1385.94 865.98H1397.94M1391.94 859.98V871.98M1392.47 874.67H1404.47M1398.47 868.67V880.67M1399 885.38H1411M1405 879.38V891.38M1405.53 893.62H1417.53M1411.53 887.62V899.62M1412.06 904.02H1424.06M1418.06 898.02V910.02M1418.59 912.75H1430.59M1424.59 906.75V918.75M1425.12 924.25H1437.12M1431.12 918.25V930.25M1431.65 932.76H1443.65M1437.65 926.76V938.76M1438.18 943.35H1450.18M1444.18 937.35V949.35M1444.71 951.72H1456.71M1450.71 945.72V957.72M1451.24 962.11H1463.24M1457.24 956.11V968.11M1457.77 969.78H1469.77M1463.77 963.78V975.78M1464.3 977.28H1476.3M1470.3 971.28V983.28M1470.83 985.12H1482.83M1476.83 979.12V991.12M1477.35 992.01H1489.35M1483.35 986.01V998.01M1483.88 998.64H1495.88M1489.88 992.64V1004.64M1490.41 1004.41H1502.41M1496.41 998.41V1010.41M1496.94 1009.61H1508.94M1502.94 1003.61V1015.61M1503.47 1014.44H1515.47M1509.47 1008.44V1020.44M1510 1018.57H1522M1516 1012.57V1024.57M1516.53 1022.33H1528.53M1522.53 1016.33V1028.33M1523.06 1025.83H1535.06M1529.06 1019.83V1031.83M1529.59 1028.69H1541.59M1535.59 1022.69V1034.69M1536.12 1031.08H1548.12M1542.12 1025.08V1037.08M1542.65 1032.86H1554.65M1548.65 1026.86V1038.86M1549.18 1034.16H1561.18M1555.18 1028.16V1040.16M1555.71 1035.32H1567.71M1561.71 1029.32V1041.32M1562.24 1036.44H1574.24M1568.24 1030.44V1042.44M1568.77 1037.39H1580.77M1574.77 1031.39V1043.39M1575.3 1038.19H1587.3M1581.3 1032.19V1044.19M1581.83 1038.88H1593.83M1587.83 1032.88V1044.88M1588.36 1039.48H1600.36M1594.36 1033.48V1045.48M1594.89 1040.03H1606.89M1600.89 1034.03V1046.03M1601.42 1040.52H1613.42M1607.42 1034.52V1046.52M1607.95 1040.97H1619.95M1613.95 1034.97V1046.97M1614.48 1041.4H1626.48M1620.48 1035.4V1047.4M1621.01 1041.81H1633.01M1627.01 1035.81V1047.81M1627.54 1042.18H1639.54M1633.54 1036.18V1048.18M1634.07 1042.49H1646.07M1640.07 1036.49V1048.49M1640.6 1042.73H1652.6M1646.6 1036.73V1048.73M1647.13 1042.94H1659.13M1653.13 1036.94V1048.94M1653.66 1043.15H1665.66M1659.66 1037.15V1049.15M1660.19 1043.34H1672.19M1666.19 1037.34V1049.34M1666.72 1043.51H1678.72M1672.72 1037.51V1049.51M1673.25 1043.66H1685.25M1679.25 1037.66V1049.66M1679.78 1043.78H1691.78M1685.78 1037.78V1049.78M1686.31 1043.87H1698.31M1692.31 1037.87V1049.87M1692.84 1043.92H1704.84M1698.84 1037.92V1049.92" stroke="#ff0000" stroke-width="1.4" fill="none"/>
<polyline points="1042.6,1042.23 1043.7,1042.1 1044.8,1041.98 1045.9,1041.9 1047,1041.84 1048.1,1041.79 1049.2,1041.75 1050.29,1041.7 1051.39,1041.65 1052.49,1041.58 1053.59,1041.5 1054.69,1041.4 1055.79,1041.29 1056.89,1041.18 1057.99,1041.07 1059.09,1040.95 1060.19,1040.83 1061.29,1040.7 1062.39,1040.57 1063.48,1040.44 1064.58,1040.3 1065.68,1040.17 1066.78,1040.04 1067.88,1039.9 1068.98,1039.77 1070.08,1039.63 1071.18,1039.5 1072.28,1039.37 1073.38,1039.24 1074.48,1039.12 1075.58,1038.99 1076.67,1038.86 1077.77,1038.73 1078.87,1038.59 1079.97,1038.45 1081.07,1038.3 1082.17,1038.14 1083.27,1037.98 1084.37,1037.82 1085.47,1037.64 1086.57,1037.45 1087.67,1037.25 1088.77,1037.04 1089.86,1036.83 1090.96,1036.6 1092.06,1036.37 1093.16,1036.12 1094.26,1035.87 1095.36,1035.6 1096.46,1035.34 1097.56,1035.07 1098.66,1034.81 1099.76,1034.56 1100.86,1034.31 1101.96,1034.05 1103.05,1033.77 1104.15,1033.47 1105.25,1033.13 1106.35,1032.75 1107.45,1032.34 1108.55,1031.91 1109.65,1031.49 1110.75,1031.07 1111.85,1030.66 1112.95,1030.25 1114.05,1029.84 1115.14,1029.43 1116.24,1029.02 1117.34,1028.6 1118.44,1028.18 1119.54,1027.76 1120.64,1027.34 1121.74,1026.91 1122.84,1026.47 1123.94,1026.01 1125.04,1025.54 1126.14,1025.06 1127.24,1024.57 1128.34,1024.06 1129.43,1023.55 1130.53,1023.02 1131.63,1022.49 1132.73,1021.94 1133.83,1021.39 1134.93,1020.81 1136.03,1020.23 1137.13,1019.62 1138.23,1018.99 1139.33,1018.33 1140.43,1017.65 1141.53,1016.96 1142.62,1016.27 1143.72,1015.59 1144.82,1014.91 1145.92,1014.23 1147.02,1013.54 1148.12,1012.85 1149.22,1012.13 1150.32,1011.39 1151.42,1010.64 1152.52,1009.86 1153.62,1009.07 1154.72,1008.25 1155.81,1007.42 1156.91,1006.57 1158.01,1005.68 1159.11,1004.77 1160.21,1003.84 1161.31,1002.89 1162.41,1001.93 1163.51,1000.97 1164.61,1000 1165.71,999.01 1166.81,998.01 1167.91,997.01 1169,996 1170.1,995.01 1171.2,994.02 1172.3,993.03 1173.4,992.04 1174.5,991.03 1175.6,990 1176.7,988.94 1177.8,987.85 1178.9,986.74 1180,985.6 1181.1,984.45 1182.19,983.27 1183.29,982.05 1184.39,980.8 1185.49,979.51 1186.59,978.2 1187.69,976.89 1188.79,975.58 1189.89,974.29 1190.99,973.02 1192.09,971.76 1193.19,970.48 1194.29,969.19 1195.38,967.88 1196.48,966.52 1197.58,965.15 1198.68,963.74 1199.78,962.31 1200.88,960.86 1201.98,959.39 1203.08,957.89 1204.18,956.33 1205.28,954.75 1206.38,953.16 1207.48,951.6 1208.57,950.07 1209.67,948.6 1210.77,947.17 1211.87,945.75 1212.97,944.34 1214.07,942.92 1215.17,941.47 1216.27,939.99 1217.37,938.5 1218.47,937 1219.57,935.48 1220.67,933.94 1221.76,932.37 1222.86,930.77 1223.96,929.13 1225.06,927.46 1226.16,925.78 1227.26,924.09 1228.36,922.41 1229.46,920.71 1230.56,919 1231.66,917.28 1232.76,915.58 1233.86,913.91 1234.95,912.29 1236.05,910.73 1237.15,909.2 1238.25,907.69 1239.35,906.2 1240.45,904.7 1241.55,903.2 1242.65,901.7 1243.75,900.21 1244.85,898.73 1245.95,897.24 1247.05,895.74 1248.14,894.24 1249.24,892.71 1250.34,891.16 1251.44,889.61 1252.54,888.08 1253.64,886.59 1254.74,885.15 1255.84,883.75 1256.94,882.39 1258.04,881.05 1259.14,879.74 1260.24,878.44 1261.33,877.15 1262.43,875.87 1263.53,874.61 1264.63,873.36 1265.73,872.13 1266.83,870.92 1267.93,869.74 1269.03,868.56 1270.13,867.4 1271.23,866.26 1272.33,865.14 1273.43,864.05 1274.52,863 1275.62,861.98 1276.72,860.97 1277.82,859.99 1278.92,859.05 1280.02,858.15 1281.12,857.29 1282.22,856.44 1283.32,855.62 1284.42,854.83 1285.52,854.09 1286.62,853.4 1287.71,852.77 1288.81,852.18 1289.91,851.63 1291.01,851.1 1292.11,850.61 1293.21,850.16 1294.31,849.73 1295.41,849.29 1296.51,848.86 1297.61,848.49 1298.71,848.19 1299.81,848 1300.9,847.87 1302,847.76 1303.1,847.67 1304.2,847.6 1305.3,847.55 1306.4,847.53 1307.5,847.57 1308.6,847.68 1309.7,847.84 1310.8,848.03 1311.9,848.24 1313,848.46 1314.09,848.7 1315.19,849 1316.29,849.35 1317.39,849.71 1318.49,850.09 1319.59,850.47 1320.69,850.83 1321.79,851.2 1322.89,851.57 1323.99,851.98 1325.09,852.43 1326.19,852.94 1327.28,853.55 1328.38,854.28 1329.48,855.1 1330.58,855.97 1331.68,856.86 1332.78,857.73 1333.88,858.6 1334.98,859.5 1336.08,860.42 1337.18,861.36 1338.28,862.32 1339.38,863.29 1340.47,864.27 1341.57,865.26 1342.67,866.26 1343.77,867.3 1344.87,868.37 1345.97,869.5 1347.07,870.71 1348.17,871.99 1349.27,873.34 1350.37,874.73 1351.47,876.14 1352.57,877.54 1353.66,878.95 1354.76,880.4 1355.86,881.86 1356.96,883.32 1358.06,884.79 1359.16,886.24 1360.26,887.7 1361.36,889.15 1362.46,890.61 1363.56,892.07 1364.66,893.54 1365.76,895.02 1366.85,896.51 1367.95,898.01 1369.05,899.51 1370.15,901.01 1371.25,902.5 1372.35,903.97 1373.45,905.42 1374.55,906.84 1375.65,908.25 1376.75,909.68 1377.85,911.14 1378.95,912.64 1380.04,914.2 1381.14,915.8 1382.24,917.42 1383.34,919.04 1384.44,920.65 1385.54,922.23 1386.64,923.77 1387.74,925.29 1388.84,926.81 1389.94,928.33 1391.04,929.87 1392.13,931.44 1393.23,933.05 1394.33,934.69 1395.43,936.35 1396.53,938.02 1397.63,939.69 1398.73,941.36 1399.83,943.06 1400.93,944.77 1402.03,946.47 1403.13,948.13 1404.23,949.71 1405.33,951.19 1406.42,952.6 1407.52,953.95 1408.62,955.27 1409.72,956.59 1410.82,957.92 1411.92,959.29 1413.02,960.69 1414.12,962.08 1415.22,963.49 1416.32,964.88 1417.42,966.26 1418.52,967.63 1419.61,969 1420.71,970.36 1421.81,971.71 1422.91,973.04 1424.01,974.35 1425.11,975.62 1426.21,976.87 1427.31,978.09 1428.41,979.3 1429.51,980.49 1430.61,981.67 1431.71,982.83 1432.8,983.99 1433.9,985.13 1435,986.25 1436.1,987.36 1437.2,988.46 1438.3,989.54 1439.4,990.6 1440.5,991.65 1441.6,992.69 1442.7,993.72 1443.8,994.75 1444.89,995.78 1445.99,996.8 1447.09,997.82 1448.19,998.83 1449.29,999.82 1450.39,1000.78 1451.49,1001.71 1452.59,1002.63 1453.69,1003.52 1454.79,1004.4 1455.89,1005.27 1456.99,1006.14 1458.09,1007 1459.18,1007.85 1460.28,1008.7 1461.38,1009.53 1462.48,1010.35 1463.58,1011.14 1464.68,1011.9 1465.78,1012.64 1466.88,1013.37 1467.98,1014.08 1469.08,1014.78 1470.18,1015.48 1471.28,1016.17 1472.37,1016.85 1473.47,1017.53 1474.57,1018.19 1475.67,1018.85 1476.77,1019.49 1477.87,1020.11 1478.97,1020.73 1480.07,1021.34 1481.17,1021.94 1482.27,1022.53 1483.37,1023.11 1484.47,1023.7 1485.56,1024.28 1486.66,1024.86 1487.76,1025.41 1488.86,1025.93 1489.96,1026.4 1491.06,1026.83 1492.16,1027.22 1493.26,1027.6 1494.36,1027.96 1495.46,1028.33 1496.56,1028.71 1497.66,1029.1 1498.75,1029.49 1499.85,1029.89 1500.95,1030.28 1502.05,1030.66 1503.15,1031.02 1504.25,1031.37 1505.35,1031.72 1506.45,1032.06 1507.55,1032.39 1508.65,1032.71 1509.75,1033.02 1510.85,1033.31 1511.94,1033.6 1513.04,1033.88 1514.14,1034.16 1515.24,1034.43 1516.34,1034.71 1517.44,1035 1518.54,1035.29 1519.64,1035.57 1520.74,1035.86 1521.84,1036.14 1522.94,1036.41 1524.04,1036.68 1525.13,1036.96 1526.23,1037.22 1527.33,1037.48 1528.43,1037.72 1529.53,1037.94 1530.63,1038.15 1531.73,1038.34 1532.83,1038.52 1533.93,1038.69 1535.03,1038.85 1536.13,1039.01 1537.23,1039.17 1538.32,1039.33 1539.42,1039.49 1540.52,1039.64 1541.62,1039.79 1542.72,1039.93 1543.82,1040.07 1544.92,1040.21 1546.02,1040.34 1547.12,1040.47 1548.22,1040.59 1549.32,1040.71 1550.41,1040.82 1551.51,1040.93 1552.61,1041.04 1553.71,1041.15 1554.81,1041.26 1555.91,1041.37 1557.01,1041.48 1558.11,1041.58 1559.21,1041.68 1560.31,1041.78 1561.41,1041.88 1562.51,1041.97 1563.61,1042.06 1564.7,1042.15 1565.8,1042.23 1566.9,1042.31 1568,1042.39 1569.1,1042.47 1570.2,1042.54 1571.3,1042.6 1572.4,1042.67 1573.5,1042.73 1574.6,1042.78 1575.7,1042.84 1576.8,1042.89 1577.89,1042.95 1578.99,1043 1580.09,1043.05 1581.19,1043.1 1582.29,1043.14 1583.39,1043.19 1584.49,1043.23 1585.59,1043.27 1586.69,1043.32 1587.79,1043.36 1588.89,1043.39 1589.99,1043.43 1591.08,1043.47 1592.18,1043.5 1593.28,1043.53 1594.38,1043.56 1595.48,1043.59 1596.58,1043.62 1597.68,1043.64 1598.78,1043.67 1599.88,1043.7 1600.98,1043.72 1602.08,1043.75 1603.18,1043.77 1604.27,1043.79 1605.37,1043.82 1606.47,1043.84 1607.57,1043.86 1608.67,1043.88 1609.77,1043.9 1610.87,1043.92 1611.97,1043.94 1613.07,1043.95 1614.17,1043.97 1615.27,1043.99 1616.37,1044 1617.46,1044.02 1618.56,1044.03 1619.66,1044.05 1620.76,1044.06 1621.86,1044.07 1622.96,1044.08 1624.06,1044.09 1625.16,1044.1 1626.26,1044.11 1627.36,1044.12 1628.46,1044.13 1629.56,1044.14 1630.65,1044.15 1631.75,1044.16 1632.85,1044.17 1633.95,1044.18 1635.05,1044.19 1636.15,1044.2 1637.25,1044.21 1638.35,1044.22 1639.45,1044.23 1640.55,1044.24 1641.65,1044.25 1642.75,1044.26 1643.84,1044.27 1644.94,1044.28 1646.04,1044.29 1647.14,1044.3 1648.24,1044.31 1649.34,1044.31 1650.44,1044.32 1651.54,1044.33 1652.64,1044.34 1653.74,1044.35 1654.84,1044.36 1655.93,1044.36 1657.03,1044.37 1658.13,1044.38 1659.23,1044.39 1660.33,1044.39 1661.43,1044.4 1662.53,1044.41 1663.63,1044.42 1664.73,1044.42 1665.83,1044.43 1666.93,1044.44 1668.03,1044.44 1669.12,1044.45 1670.22,1044.45 1671.32,1044.46 1672.42,1044.47 1673.52,1044.47 1674.62,1044.48 1675.72,1044.48 1676.82,1044.49 1677.92,1044.49 1679.02,1044.5 1680.12,1044.5 1681.22,1044.5 1682.32,1044.51 1683.41,1044.51 1684.51,1044.52 1685.61,1044.52 1686.71,1044.52 1687.81,1044.53 1688.91,1044.53 1690.01,1044.53 1691.11,1044.53 1692.21,1044.54 1693.31,1044.54 1694.41,1044.54 1695.51,1044.54 1696.6,1044.54 1697.7,1044.54 1698.8,1044.54 1699.9,1044.54 1701,1044.55 1702.1,1044.55" fill="none" stroke="#008000" stroke-width="1.6" stroke-linejoin="round"/>
<g fill="#008000" stroke="#000" stroke-width="0.9"><circle cx="1045.86" cy="1041.9" r="3.1"/><circle cx="1052.39" cy="1041.59" r="3.1"/><circle cx="1058.92" cy="1040.97" r="3.1"/><circle cx="1065.45" cy="1040.2" r="3.1"/><circle cx="1071.98" cy="1039.4" r="3.1"/><circle cx="1078.51" cy="1038.64" r="3.1"/><circle cx="1085.04" cy="1037.71" r="3.1"/><circle cx="1091.57" cy="1036.47" r="3.1"/><circle cx="1098.1" cy="1034.94" r="3.1"/><circle cx="1104.63" cy="1033.33" r="3.1"/><circle cx="1111.16" cy="1030.92" r="3.1"/><circle cx="1117.69" cy="1028.46" r="3.1"/><circle cx="1124.22" cy="1025.89" r="3.1"/><circle cx="1130.75" cy="1022.92" r="3.1"/><circle cx="1137.28" cy="1019.53" r="3.1"/><circle cx="1143.81" cy="1015.53" r="3.1"/><circle cx="1150.34" cy="1011.38" r="3.1"/><circle cx="1156.87" cy="1006.6" r="3.1"/><circle cx="1163.4" cy="1001.07" r="3.1"/><circle cx="1169.93" cy="995.16" r="3.1"/><circle cx="1176.46" cy="989.17" r="3.1"/><circle cx="1182.99" cy="982.39" r="3.1"/><circle cx="1189.52" cy="974.72" r="3.1"/><circle cx="1196.05" cy="967.06" r="3.1"/><circle cx="1202.58" cy="958.58" r="3.1"/><circle cx="1209.11" cy="949.36" r="3.1"/><circle cx="1215.64" cy="940.84" r="3.1"/><circle cx="1222.17" cy="931.79" r="3.1"/><circle cx="1228.7" cy="921.89" r="3.1"/><circle cx="1235.23" cy="911.9" r="3.1"/><circle cx="1241.76" cy="902.92" r="3.1"/><circle cx="1248.29" cy="894.04" r="3.1"/><circle cx="1254.82" cy="885.05" r="3.1"/><circle cx="1261.35" cy="877.14" r="3.1"/><circle cx="1267.87" cy="869.79" r="3.1"/><circle cx="1274.4" cy="863.12" r="3.1"/><circle cx="1280.93" cy="857.43" r="3.1"/><circle cx="1287.46" cy="852.91" r="3.1"/><circle cx="1293.99" cy="849.85" r="3.1"/><circle cx="1300.52" cy="847.91" r="3.1"/><circle cx="1307.05" cy="847.55" r="3.1"/><circle cx="1313.58" cy="848.58" r="3.1"/><circle cx="1320.11" cy="850.64" r="3.1"/><circle cx="1326.64" cy="853.18" r="3.1"/><circle cx="1333.17" cy="858.04" r="3.1"/><circle cx="1339.7" cy="863.58" r="3.1"/><circle cx="1346.23" cy="869.78" r="3.1"/><circle cx="1352.76" cy="877.79" r="3.1"/><circle cx="1359.29" cy="886.42" r="3.1"/><circle cx="1365.82" cy="895.1" r="3.1"/><circle cx="1372.35" cy="903.97" r="3.1"/><circle cx="1378.88" cy="912.55" r="3.1"/><circle cx="1385.41" cy="922.05" r="3.1"/><circle cx="1391.94" cy="931.15" r="3.1"/><circle cx="1398.47" cy="940.96" r="3.1"/><circle cx="1405" cy="950.76" r="3.1"/><circle cx="1411.53" cy="958.8" r="3.1"/><circle cx="1418.06" cy="967.06" r="3.1"/><circle cx="1424.59" cy="975.02" r="3.1"/><circle cx="1431.12" cy="982.21" r="3.1"/><circle cx="1437.65" cy="988.9" r="3.1"/><circle cx="1444.18" cy="995.1" r="3.1"/><circle cx="1450.71" cy="1001.05" r="3.1"/><circle cx="1457.24" cy="1006.33" r="3.1"/><circle cx="1463.77" cy="1011.27" r="3.1"/><circle cx="1470.3" cy="1015.56" r="3.1"/><circle cx="1476.83" cy="1019.52" r="3.1"/><circle cx="1483.35" cy="1023.11" r="3.1"/><circle cx="1489.88" cy="1026.37" r="3.1"/><circle cx="1496.41" cy="1028.66" r="3.1"/><circle cx="1502.94" cy="1030.95" r="3.1"/><circle cx="1509.47" cy="1032.94" r="3.1"/><circle cx="1516" cy="1034.63" r="3.1"/><circle cx="1522.53" cy="1036.31" r="3.1"/><circle cx="1529.06" cy="1037.85" r="3.1"/><circle cx="1535.59" cy="1038.94" r="3.1"/><circle cx="1542.12" cy="1039.85" r="3.1"/><circle cx="1548.65" cy="1040.64" r="3.1"/><circle cx="1555.18" cy="1041.3" r="3.1"/><circle cx="1561.71" cy="1041.9" r="3.1"/><circle cx="1568.24" cy="1042.41" r="3.1"/><circle cx="1574.77" cy="1042.79" r="3.1"/><circle cx="1581.3" cy="1043.1" r="3.1"/><circle cx="1587.83" cy="1043.36" r="3.1"/><circle cx="1594.36" cy="1043.56" r="3.1"/><circle cx="1600.89" cy="1043.72" r="3.1"/><circle cx="1607.42" cy="1043.86" r="3.1"/><circle cx="1613.95" cy="1043.97" r="3.1"/><circle cx="1620.48" cy="1044.06" r="3.1"/><circle cx="1627.01" cy="1044.12" r="3.1"/><circle cx="1633.54" cy="1044.18" r="3.1"/><circle cx="1640.07" cy="1044.24" r="3.1"/><circle cx="1646.6" cy="1044.29" r="3.1"/><circle cx="1653.13" cy="1044.34" r="3.1"/><circle cx="1659.66" cy="1044.39" r="3.1"/><circle cx="1666.19" cy="1044.43" r="3.1"/><circle cx="1672.72" cy="1044.47" r="3.1"/><circle cx="1679.25" cy="1044.5" r="3.1"/><circle cx="1685.78" cy="1044.52" r="3.1"/><circle cx="1692.31" cy="1044.54" r="3.1"/><circle cx="1698.84" cy="1044.54" r="3.1"/></g>
</g>
<text class="tk" x="1042.6" y="1082.9" text-anchor="middle">−10</text>
<text class="tk" x="1174.5" y="1082.9" text-anchor="middle">−5</text>
<text class="tk" x="1306.4" y="1082.9" text-anchor="middle">0</text>
<text class="tk" x="1438.3" y="1082.9" text-anchor="middle">5</text>
<text class="tk" x="1570.2" y="1082.9" text-anchor="middle">10</text>
<text class="tk" x="1702.1" y="1082.9" text-anchor="middle">15</text>
<text class="tk" x="1012.1" y="1052.35" text-anchor="end">0.00</text>
<text class="tk" x="1012.1" y="975.09" text-anchor="end">0.05</text>
<text class="tk" x="1012.1" y="897.83" text-anchor="end">0.10</text>
<text class="tk" x="1012.1" y="820.57" text-anchor="end">0.15</text>
<text class="tk" x="1012.1" y="743.31" text-anchor="end">0.20</text>
<text class="tk" x="1012.1" y="666.05" text-anchor="end">0.25</text>
<text class="mt it" x="1371.15" y="1116.4" font-size="38" text-anchor="middle">x</text>
<g transform="translate(946,952.45) rotate(-90)">
<text class="mt it" x="10.6" y="0" font-size="38" text-anchor="middle">p</text>
<text class="mt it" x="28.2" y="10.5" font-size="26.6" text-anchor="middle">r</text>
<text class="mt " x="41.3" y="0" font-size="41.5" text-anchor="middle">(</text>
<text class="mt it" x="56.9" y="0" font-size="38" text-anchor="middle">x</text>
<text class="mt " x="69.7" y="3.2" font-size="38" text-anchor="middle">,</text>
<text class="mt it" x="90" y="0" font-size="38" text-anchor="middle">t</text>
<text class="mt " x="109.4" y="0" font-size="38" text-anchor="middle">|</text>
<text class="mt it" x="137.2" y="0" font-size="38" text-anchor="middle">x</text>
<text class="mt " x="156" y="10.5" font-size="26.6" text-anchor="middle">0</text>
<text class="mt " x="221.9" y="0" font-size="38" text-anchor="middle">5</text>
<text class="mt " x="237.2" y="0" font-size="41.5" text-anchor="middle">)</text>
<text class="mt" transform="translate(187.5,1.9) scale(1.32,0.88)" font-size="38" text-anchor="middle">=</text>
</g>
<rect x="1549.9" y="615.3" width="148.8" height="88.7" fill="#fff" stroke="#000" stroke-width="1.6"/>
<path d="M1569.8 625.7L1593 648.9M1569.8 648.9L1593 625.7" stroke="#0000ff" stroke-width="1.8" fill="none"/>
<path d="M1569.6 659.5H1593.2M1581.4 647.5V671.5" stroke="#ff0000" stroke-width="1.8" fill="none"/>
<circle cx="1581.4" cy="681.7" r="9.4" fill="#008000" stroke="#000" stroke-width="1.9"/>
<text class="mt it" x="1611.8" y="644.2" font-size="21">t</text>
<text class="mt" transform="translate(1632.85,648.7) scale(1.5,1.25)" font-size="21" text-anchor="middle">=</text>
<text class="mt" x="1644.3" y="644.2" font-size="21">1.0</text>
<text class="mt it" x="1611.8" y="666.4" font-size="21">t</text>
<text class="mt" transform="translate(1632.85,670.9) scale(1.5,1.25)" font-size="21" text-anchor="middle">=</text>
<text class="mt" x="1644.3" y="666.4" font-size="21">10.0</text>
<text class="mt it" x="1611.8" y="688.6" font-size="21">t</text>
<text class="mt" transform="translate(1632.85,693.1) scale(1.5,1.25)" font-size="21" text-anchor="middle">=</text>
<text class="mt" x="1644.3" y="688.6" font-size="21">50.0</text>
<text class="mt" transform="translate(866.3,1106.3) scale(0.93,1)" font-size="58">(d)</text>
</svg></body></html>
